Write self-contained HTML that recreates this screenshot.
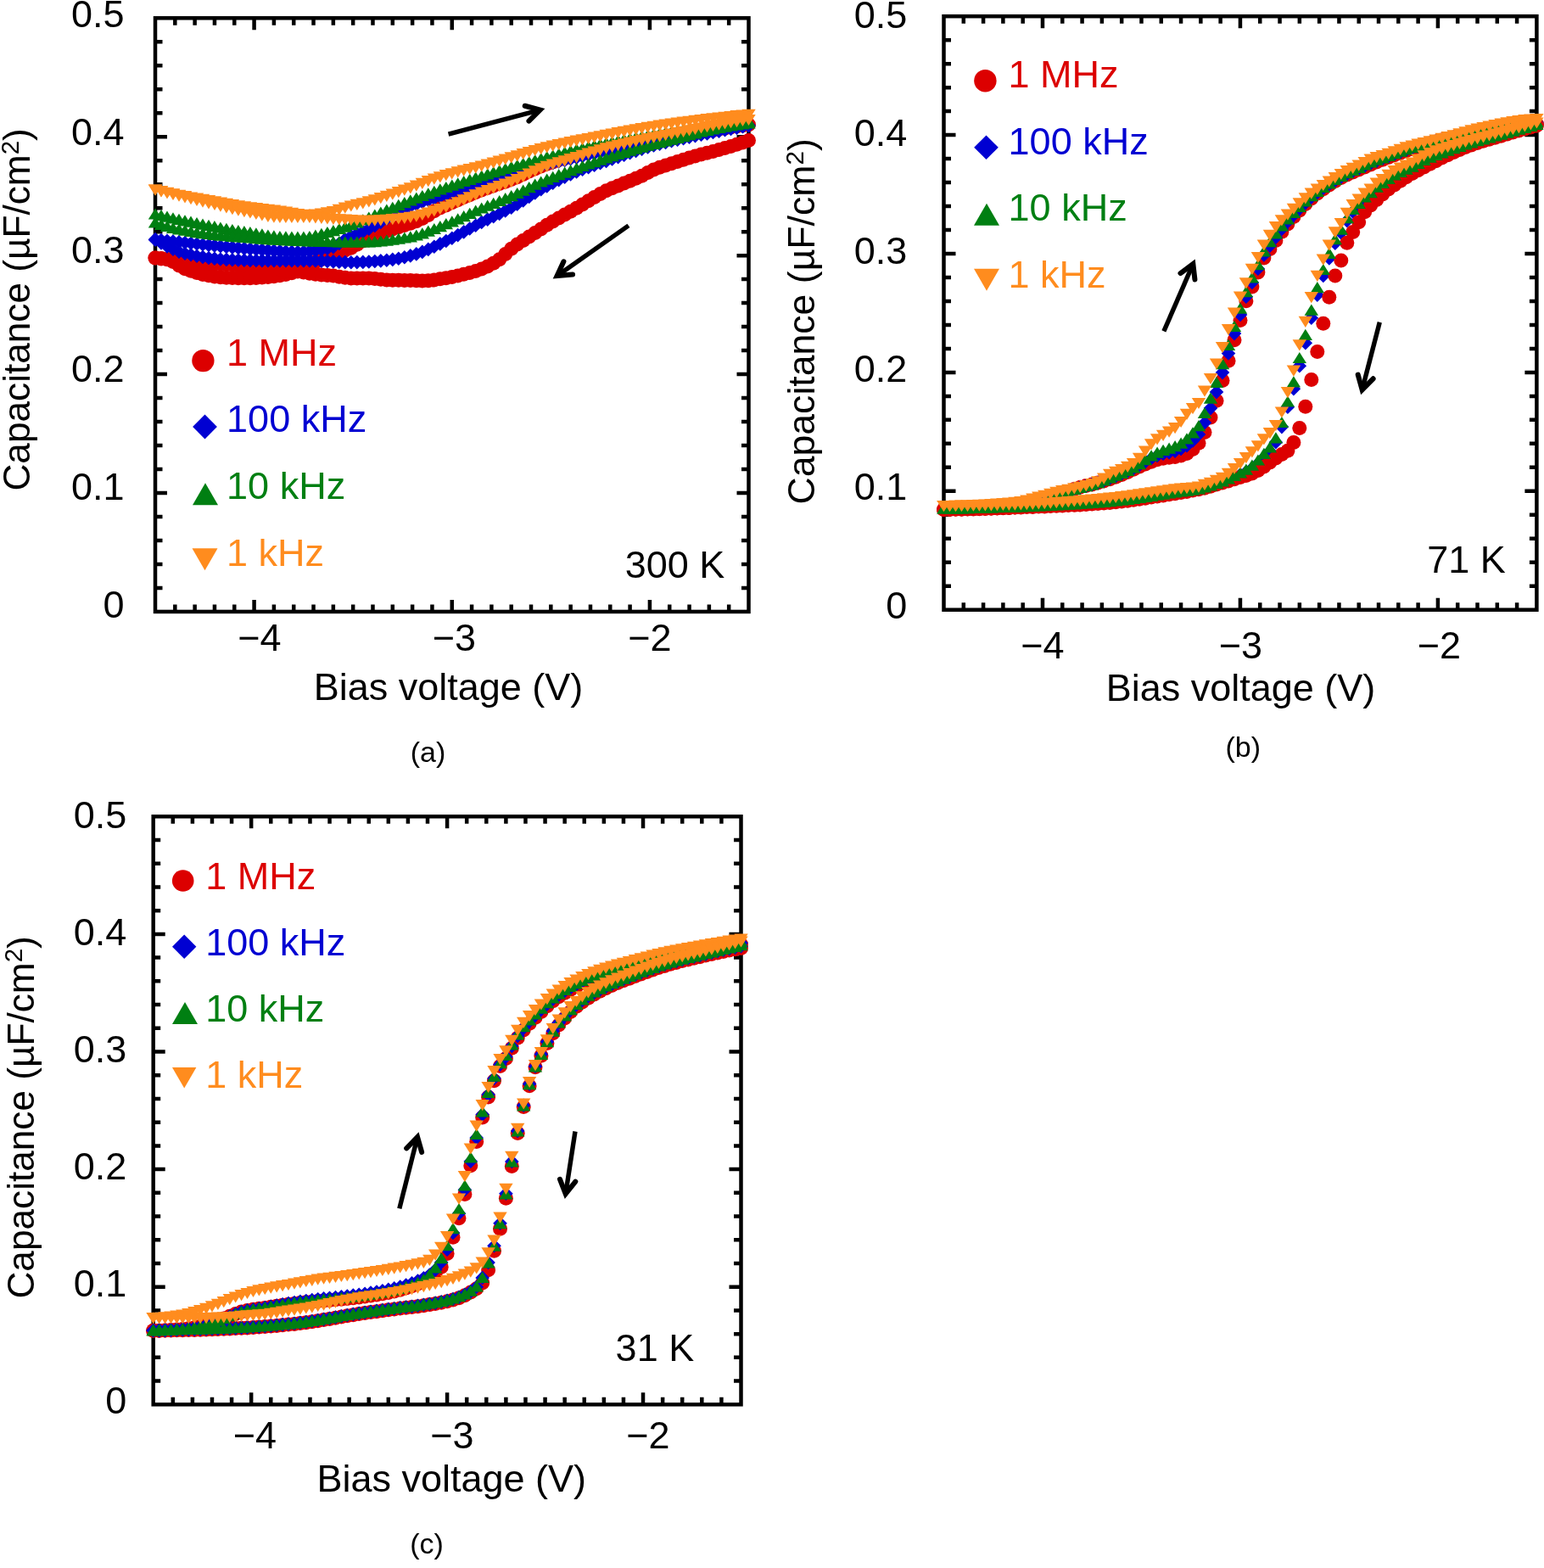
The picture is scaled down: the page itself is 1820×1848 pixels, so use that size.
<!DOCTYPE html>
<html><head><meta charset="utf-8"><title>C-V</title>
<style>html,body{margin:0;padding:0;background:#fff;}svg{display:block;}</style></head>
<body>
<svg xmlns="http://www.w3.org/2000/svg" width="1820" height="1848" viewBox="0 0 1820 1848" font-family="Liberation Sans, Arial, Helvetica, sans-serif">
<rect width="1820" height="1848" fill="#fff"/>
<rect x="183.00" y="21.30" width="699.50" height="699.60" fill="none" stroke="#000" stroke-width="4.5" stroke-linejoin="miter"/>
<path d="M206.32,720.90v-8.5M206.32,21.30v8.5M229.63,720.90v-8.5M229.63,21.30v8.5M252.95,720.90v-8.5M252.95,21.30v8.5M276.27,720.90v-8.5M276.27,21.30v8.5M299.58,720.90v-14M299.58,21.30v14M322.90,720.90v-8.5M322.90,21.30v8.5M346.22,720.90v-8.5M346.22,21.30v8.5M369.53,720.90v-8.5M369.53,21.30v8.5M392.85,720.90v-8.5M392.85,21.30v8.5M416.17,720.90v-8.5M416.17,21.30v8.5M439.48,720.90v-8.5M439.48,21.30v8.5M462.80,720.90v-8.5M462.80,21.30v8.5M486.12,720.90v-8.5M486.12,21.30v8.5M509.43,720.90v-8.5M509.43,21.30v8.5M532.75,720.90v-14M532.75,21.30v14M556.07,720.90v-8.5M556.07,21.30v8.5M579.38,720.90v-8.5M579.38,21.30v8.5M602.70,720.90v-8.5M602.70,21.30v8.5M626.02,720.90v-8.5M626.02,21.30v8.5M649.33,720.90v-8.5M649.33,21.30v8.5M672.65,720.90v-8.5M672.65,21.30v8.5M695.97,720.90v-8.5M695.97,21.30v8.5M719.28,720.90v-8.5M719.28,21.30v8.5M742.60,720.90v-8.5M742.60,21.30v8.5M765.92,720.90v-14M765.92,21.30v14M789.23,720.90v-8.5M789.23,21.30v8.5M812.55,720.90v-8.5M812.55,21.30v8.5M835.87,720.90v-8.5M835.87,21.30v8.5M859.18,720.90v-8.5M859.18,21.30v8.5M183.00,692.92h8.5M882.50,692.92h-8.5M183.00,664.93h8.5M882.50,664.93h-8.5M183.00,636.95h8.5M882.50,636.95h-8.5M183.00,608.96h8.5M882.50,608.96h-8.5M183.00,580.98h14M882.50,580.98h-14M183.00,553.00h8.5M882.50,553.00h-8.5M183.00,525.01h8.5M882.50,525.01h-8.5M183.00,497.03h8.5M882.50,497.03h-8.5M183.00,469.04h8.5M882.50,469.04h-8.5M183.00,441.06h14M882.50,441.06h-14M183.00,413.08h8.5M882.50,413.08h-8.5M183.00,385.09h8.5M882.50,385.09h-8.5M183.00,357.11h8.5M882.50,357.11h-8.5M183.00,329.12h8.5M882.50,329.12h-8.5M183.00,301.14h14M882.50,301.14h-14M183.00,273.16h8.5M882.50,273.16h-8.5M183.00,245.17h8.5M882.50,245.17h-8.5M183.00,217.19h8.5M882.50,217.19h-8.5M183.00,189.20h8.5M882.50,189.20h-8.5M183.00,161.22h14M882.50,161.22h-14M183.00,133.24h8.5M882.50,133.24h-8.5M183.00,105.25h8.5M882.50,105.25h-8.5M183.00,77.27h8.5M882.50,77.27h-8.5M183.00,49.28h8.5M882.50,49.28h-8.5" stroke="#000" stroke-width="4.5" fill="none"/>
<rect x="1112.50" y="19.20" width="698.90" height="699.50" fill="none" stroke="#000" stroke-width="4.5" stroke-linejoin="miter"/>
<path d="M1135.80,718.70v-8.5M1135.80,19.20v8.5M1159.09,718.70v-8.5M1159.09,19.20v8.5M1182.39,718.70v-8.5M1182.39,19.20v8.5M1205.69,718.70v-8.5M1205.69,19.20v8.5M1228.98,718.70v-14M1228.98,19.20v14M1252.28,718.70v-8.5M1252.28,19.20v8.5M1275.58,718.70v-8.5M1275.58,19.20v8.5M1298.87,718.70v-8.5M1298.87,19.20v8.5M1322.17,718.70v-8.5M1322.17,19.20v8.5M1345.47,718.70v-8.5M1345.47,19.20v8.5M1368.76,718.70v-8.5M1368.76,19.20v8.5M1392.06,718.70v-8.5M1392.06,19.20v8.5M1415.36,718.70v-8.5M1415.36,19.20v8.5M1438.65,718.70v-8.5M1438.65,19.20v8.5M1461.95,718.70v-14M1461.95,19.20v14M1485.25,718.70v-8.5M1485.25,19.20v8.5M1508.54,718.70v-8.5M1508.54,19.20v8.5M1531.84,718.70v-8.5M1531.84,19.20v8.5M1555.14,718.70v-8.5M1555.14,19.20v8.5M1578.43,718.70v-8.5M1578.43,19.20v8.5M1601.73,718.70v-8.5M1601.73,19.20v8.5M1625.03,718.70v-8.5M1625.03,19.20v8.5M1648.32,718.70v-8.5M1648.32,19.20v8.5M1671.62,718.70v-8.5M1671.62,19.20v8.5M1694.92,718.70v-14M1694.92,19.20v14M1718.21,718.70v-8.5M1718.21,19.20v8.5M1741.51,718.70v-8.5M1741.51,19.20v8.5M1764.81,718.70v-8.5M1764.81,19.20v8.5M1788.10,718.70v-8.5M1788.10,19.20v8.5M1112.50,690.72h8.5M1811.40,690.72h-8.5M1112.50,662.74h8.5M1811.40,662.74h-8.5M1112.50,634.76h8.5M1811.40,634.76h-8.5M1112.50,606.78h8.5M1811.40,606.78h-8.5M1112.50,578.80h14M1811.40,578.80h-14M1112.50,550.82h8.5M1811.40,550.82h-8.5M1112.50,522.84h8.5M1811.40,522.84h-8.5M1112.50,494.86h8.5M1811.40,494.86h-8.5M1112.50,466.88h8.5M1811.40,466.88h-8.5M1112.50,438.90h14M1811.40,438.90h-14M1112.50,410.92h8.5M1811.40,410.92h-8.5M1112.50,382.94h8.5M1811.40,382.94h-8.5M1112.50,354.96h8.5M1811.40,354.96h-8.5M1112.50,326.98h8.5M1811.40,326.98h-8.5M1112.50,299.00h14M1811.40,299.00h-14M1112.50,271.02h8.5M1811.40,271.02h-8.5M1112.50,243.04h8.5M1811.40,243.04h-8.5M1112.50,215.06h8.5M1811.40,215.06h-8.5M1112.50,187.08h8.5M1811.40,187.08h-8.5M1112.50,159.10h14M1811.40,159.10h-14M1112.50,131.12h8.5M1811.40,131.12h-8.5M1112.50,103.14h8.5M1811.40,103.14h-8.5M1112.50,75.16h8.5M1811.40,75.16h-8.5M1112.50,47.18h8.5M1811.40,47.18h-8.5" stroke="#000" stroke-width="4.5" fill="none"/>
<rect x="180.70" y="962.30" width="692.80" height="693.00" fill="none" stroke="#000" stroke-width="4.5" stroke-linejoin="miter"/>
<path d="M203.79,1655.30v-8.5M203.79,962.30v8.5M226.89,1655.30v-8.5M226.89,962.30v8.5M249.98,1655.30v-8.5M249.98,962.30v8.5M273.07,1655.30v-8.5M273.07,962.30v8.5M296.17,1655.30v-14M296.17,962.30v14M319.26,1655.30v-8.5M319.26,962.30v8.5M342.35,1655.30v-8.5M342.35,962.30v8.5M365.45,1655.30v-8.5M365.45,962.30v8.5M388.54,1655.30v-8.5M388.54,962.30v8.5M411.63,1655.30v-8.5M411.63,962.30v8.5M434.73,1655.30v-8.5M434.73,962.30v8.5M457.82,1655.30v-8.5M457.82,962.30v8.5M480.91,1655.30v-8.5M480.91,962.30v8.5M504.01,1655.30v-8.5M504.01,962.30v8.5M527.10,1655.30v-14M527.10,962.30v14M550.19,1655.30v-8.5M550.19,962.30v8.5M573.29,1655.30v-8.5M573.29,962.30v8.5M596.38,1655.30v-8.5M596.38,962.30v8.5M619.47,1655.30v-8.5M619.47,962.30v8.5M642.57,1655.30v-8.5M642.57,962.30v8.5M665.66,1655.30v-8.5M665.66,962.30v8.5M688.75,1655.30v-8.5M688.75,962.30v8.5M711.85,1655.30v-8.5M711.85,962.30v8.5M734.94,1655.30v-8.5M734.94,962.30v8.5M758.03,1655.30v-14M758.03,962.30v14M781.13,1655.30v-8.5M781.13,962.30v8.5M804.22,1655.30v-8.5M804.22,962.30v8.5M827.31,1655.30v-8.5M827.31,962.30v8.5M850.41,1655.30v-8.5M850.41,962.30v8.5M180.70,1627.58h8.5M873.50,1627.58h-8.5M180.70,1599.86h8.5M873.50,1599.86h-8.5M180.70,1572.14h8.5M873.50,1572.14h-8.5M180.70,1544.42h8.5M873.50,1544.42h-8.5M180.70,1516.70h14M873.50,1516.70h-14M180.70,1488.98h8.5M873.50,1488.98h-8.5M180.70,1461.26h8.5M873.50,1461.26h-8.5M180.70,1433.54h8.5M873.50,1433.54h-8.5M180.70,1405.82h8.5M873.50,1405.82h-8.5M180.70,1378.10h14M873.50,1378.10h-14M180.70,1350.38h8.5M873.50,1350.38h-8.5M180.70,1322.66h8.5M873.50,1322.66h-8.5M180.70,1294.94h8.5M873.50,1294.94h-8.5M180.70,1267.22h8.5M873.50,1267.22h-8.5M180.70,1239.50h14M873.50,1239.50h-14M180.70,1211.78h8.5M873.50,1211.78h-8.5M180.70,1184.06h8.5M873.50,1184.06h-8.5M180.70,1156.34h8.5M873.50,1156.34h-8.5M180.70,1128.62h8.5M873.50,1128.62h-8.5M180.70,1100.90h14M873.50,1100.90h-14M180.70,1073.18h8.5M873.50,1073.18h-8.5M180.70,1045.46h8.5M873.50,1045.46h-8.5M180.70,1017.74h8.5M873.50,1017.74h-8.5M180.70,990.02h8.5M873.50,990.02h-8.5" stroke="#000" stroke-width="4.5" fill="none"/>
<g fill="#dc0000"><circle cx="183.0" cy="304.0" r="8.5"/><circle cx="190.0" cy="304.4" r="8.5"/><circle cx="197.0" cy="305.4" r="8.5"/><circle cx="204.0" cy="308.6" r="8.5"/><circle cx="211.0" cy="313.0" r="8.5"/><circle cx="218.0" cy="316.7" r="8.5"/><circle cx="225.0" cy="319.3" r="8.5"/><circle cx="232.0" cy="321.6" r="8.5"/><circle cx="239.0" cy="323.5" r="8.5"/><circle cx="246.0" cy="324.8" r="8.5"/><circle cx="252.9" cy="325.9" r="8.5"/><circle cx="259.9" cy="326.7" r="8.5"/><circle cx="266.9" cy="327.2" r="8.5"/><circle cx="273.9" cy="327.5" r="8.5"/><circle cx="280.9" cy="327.7" r="8.5"/><circle cx="287.9" cy="327.8" r="8.5"/><circle cx="294.9" cy="327.8" r="8.5"/><circle cx="301.9" cy="327.5" r="8.5"/><circle cx="308.9" cy="327.1" r="8.5"/><circle cx="315.9" cy="326.5" r="8.5"/><circle cx="322.9" cy="325.8" r="8.5"/><circle cx="329.9" cy="324.7" r="8.5"/><circle cx="336.9" cy="323.4" r="8.5"/><circle cx="343.9" cy="321.7" r="8.5"/><circle cx="350.9" cy="319.2" r="8.5"/><circle cx="357.9" cy="316.1" r="8.5"/><circle cx="364.9" cy="312.5" r="8.5"/><circle cx="371.9" cy="309.1" r="8.5"/><circle cx="378.9" cy="305.8" r="8.5"/><circle cx="385.9" cy="302.6" r="8.5"/><circle cx="392.9" cy="299.7" r="8.5"/><circle cx="399.8" cy="297.3" r="8.5"/><circle cx="406.8" cy="295.0" r="8.5"/><circle cx="413.8" cy="292.2" r="8.5"/><circle cx="420.8" cy="288.3" r="8.5"/><circle cx="427.8" cy="284.1" r="8.5"/><circle cx="434.8" cy="280.3" r="8.5"/><circle cx="441.8" cy="277.4" r="8.5"/><circle cx="448.8" cy="274.9" r="8.5"/><circle cx="455.8" cy="272.5" r="8.5"/><circle cx="462.8" cy="270.1" r="8.5"/><circle cx="469.8" cy="267.7" r="8.5"/><circle cx="476.8" cy="265.5" r="8.5"/><circle cx="483.8" cy="263.2" r="8.5"/><circle cx="490.8" cy="260.7" r="8.5"/><circle cx="497.8" cy="257.6" r="8.5"/><circle cx="504.8" cy="253.4" r="8.5"/><circle cx="511.8" cy="248.8" r="8.5"/><circle cx="518.8" cy="245.1" r="8.5"/><circle cx="525.8" cy="241.9" r="8.5"/><circle cx="532.8" cy="238.8" r="8.5"/><circle cx="539.7" cy="235.7" r="8.5"/><circle cx="546.7" cy="232.6" r="8.5"/><circle cx="553.7" cy="229.7" r="8.5"/><circle cx="560.7" cy="226.8" r="8.5"/><circle cx="567.7" cy="224.0" r="8.5"/><circle cx="574.7" cy="221.4" r="8.5"/><circle cx="581.7" cy="219.0" r="8.5"/><circle cx="588.7" cy="216.6" r="8.5"/><circle cx="595.7" cy="214.2" r="8.5"/><circle cx="602.7" cy="211.6" r="8.5"/><circle cx="609.7" cy="208.7" r="8.5"/><circle cx="616.7" cy="205.5" r="8.5"/><circle cx="623.7" cy="202.1" r="8.5"/><circle cx="630.7" cy="198.9" r="8.5"/><circle cx="637.7" cy="195.9" r="8.5"/><circle cx="644.7" cy="193.3" r="8.5"/><circle cx="651.7" cy="190.9" r="8.5"/><circle cx="658.7" cy="188.6" r="8.5"/><circle cx="665.7" cy="186.5" r="8.5"/><circle cx="672.6" cy="184.5" r="8.5"/><circle cx="679.6" cy="182.7" r="8.5"/><circle cx="686.6" cy="180.9" r="8.5"/><circle cx="693.6" cy="179.3" r="8.5"/><circle cx="700.6" cy="177.8" r="8.5"/><circle cx="707.6" cy="176.3" r="8.5"/><circle cx="714.6" cy="174.9" r="8.5"/><circle cx="721.6" cy="173.7" r="8.5"/><circle cx="728.6" cy="172.5" r="8.5"/><circle cx="735.6" cy="171.4" r="8.5"/><circle cx="742.6" cy="170.3" r="8.5"/><circle cx="749.6" cy="169.2" r="8.5"/><circle cx="756.6" cy="168.1" r="8.5"/><circle cx="763.6" cy="166.8" r="8.5"/><circle cx="770.6" cy="165.5" r="8.5"/><circle cx="777.6" cy="164.2" r="8.5"/><circle cx="784.6" cy="162.8" r="8.5"/><circle cx="791.6" cy="161.5" r="8.5"/><circle cx="798.6" cy="160.3" r="8.5"/><circle cx="805.6" cy="159.0" r="8.5"/><circle cx="812.5" cy="157.9" r="8.5"/><circle cx="819.5" cy="156.7" r="8.5"/><circle cx="826.5" cy="155.6" r="8.5"/><circle cx="833.5" cy="154.5" r="8.5"/><circle cx="840.5" cy="153.4" r="8.5"/><circle cx="847.5" cy="152.3" r="8.5"/><circle cx="854.5" cy="151.2" r="8.5"/><circle cx="861.5" cy="150.1" r="8.5"/><circle cx="868.5" cy="149.1" r="8.5"/><circle cx="875.5" cy="148.0" r="8.5"/><circle cx="882.5" cy="147.0" r="8.5"/></g>
<g fill="#dc0000"><circle cx="183.0" cy="304.0" r="8.5"/><circle cx="190.0" cy="304.9" r="8.5"/><circle cx="197.0" cy="305.7" r="8.5"/><circle cx="204.0" cy="306.4" r="8.5"/><circle cx="211.0" cy="307.2" r="8.5"/><circle cx="218.0" cy="307.8" r="8.5"/><circle cx="225.0" cy="308.4" r="8.5"/><circle cx="232.0" cy="309.0" r="8.5"/><circle cx="239.0" cy="309.5" r="8.5"/><circle cx="246.0" cy="310.0" r="8.5"/><circle cx="252.9" cy="310.5" r="8.5"/><circle cx="259.9" cy="311.0" r="8.5"/><circle cx="266.9" cy="311.5" r="8.5"/><circle cx="273.9" cy="312.0" r="8.5"/><circle cx="280.9" cy="312.5" r="8.5"/><circle cx="287.9" cy="313.0" r="8.5"/><circle cx="294.9" cy="313.6" r="8.5"/><circle cx="301.9" cy="314.2" r="8.5"/><circle cx="308.9" cy="314.8" r="8.5"/><circle cx="315.9" cy="315.5" r="8.5"/><circle cx="322.9" cy="316.2" r="8.5"/><circle cx="329.9" cy="317.0" r="8.5"/><circle cx="336.9" cy="317.9" r="8.5"/><circle cx="343.9" cy="318.9" r="8.5"/><circle cx="350.9" cy="319.9" r="8.5"/><circle cx="357.9" cy="321.1" r="8.5"/><circle cx="364.9" cy="322.3" r="8.5"/><circle cx="371.9" cy="323.2" r="8.5"/><circle cx="378.9" cy="323.9" r="8.5"/><circle cx="385.9" cy="324.4" r="8.5"/><circle cx="392.9" cy="325.1" r="8.5"/><circle cx="399.8" cy="326.2" r="8.5"/><circle cx="406.8" cy="327.3" r="8.5"/><circle cx="413.8" cy="327.9" r="8.5"/><circle cx="420.8" cy="327.9" r="8.5"/><circle cx="427.8" cy="328.0" r="8.5"/><circle cx="434.8" cy="328.0" r="8.5"/><circle cx="441.8" cy="328.4" r="8.5"/><circle cx="448.8" cy="329.2" r="8.5"/><circle cx="455.8" cy="330.0" r="8.5"/><circle cx="462.8" cy="330.2" r="8.5"/><circle cx="469.8" cy="330.3" r="8.5"/><circle cx="476.8" cy="330.4" r="8.5"/><circle cx="483.8" cy="330.6" r="8.5"/><circle cx="490.8" cy="330.8" r="8.5"/><circle cx="497.8" cy="331.0" r="8.5"/><circle cx="504.8" cy="330.8" r="8.5"/><circle cx="511.8" cy="330.0" r="8.5"/><circle cx="518.8" cy="328.8" r="8.5"/><circle cx="525.8" cy="327.7" r="8.5"/><circle cx="532.8" cy="326.4" r="8.5"/><circle cx="539.7" cy="324.9" r="8.5"/><circle cx="546.7" cy="323.3" r="8.5"/><circle cx="553.7" cy="321.5" r="8.5"/><circle cx="560.7" cy="319.4" r="8.5"/><circle cx="567.7" cy="317.0" r="8.5"/><circle cx="574.7" cy="314.0" r="8.5"/><circle cx="581.7" cy="310.3" r="8.5"/><circle cx="588.7" cy="305.7" r="8.5"/><circle cx="595.7" cy="299.5" r="8.5"/><circle cx="602.7" cy="293.2" r="8.5"/><circle cx="609.7" cy="288.1" r="8.5"/><circle cx="616.7" cy="283.5" r="8.5"/><circle cx="623.7" cy="279.1" r="8.5"/><circle cx="630.7" cy="274.6" r="8.5"/><circle cx="637.7" cy="270.0" r="8.5"/><circle cx="644.7" cy="265.3" r="8.5"/><circle cx="651.7" cy="261.0" r="8.5"/><circle cx="658.7" cy="257.0" r="8.5"/><circle cx="665.7" cy="253.1" r="8.5"/><circle cx="672.6" cy="249.2" r="8.5"/><circle cx="679.6" cy="245.3" r="8.5"/><circle cx="686.6" cy="241.1" r="8.5"/><circle cx="693.6" cy="236.8" r="8.5"/><circle cx="700.6" cy="232.5" r="8.5"/><circle cx="707.6" cy="228.5" r="8.5"/><circle cx="714.6" cy="224.8" r="8.5"/><circle cx="721.6" cy="221.8" r="8.5"/><circle cx="728.6" cy="218.9" r="8.5"/><circle cx="735.6" cy="216.0" r="8.5"/><circle cx="742.6" cy="213.2" r="8.5"/><circle cx="749.6" cy="210.3" r="8.5"/><circle cx="756.6" cy="207.2" r="8.5"/><circle cx="763.6" cy="203.6" r="8.5"/><circle cx="770.6" cy="200.1" r="8.5"/><circle cx="777.6" cy="197.3" r="8.5"/><circle cx="784.6" cy="194.9" r="8.5"/><circle cx="791.6" cy="192.7" r="8.5"/><circle cx="798.6" cy="190.5" r="8.5"/><circle cx="805.6" cy="188.2" r="8.5"/><circle cx="812.5" cy="186.1" r="8.5"/><circle cx="819.5" cy="184.0" r="8.5"/><circle cx="826.5" cy="182.1" r="8.5"/><circle cx="833.5" cy="180.2" r="8.5"/><circle cx="840.5" cy="178.4" r="8.5"/><circle cx="847.5" cy="176.6" r="8.5"/><circle cx="854.5" cy="174.6" r="8.5"/><circle cx="861.5" cy="172.4" r="8.5"/><circle cx="868.5" cy="170.2" r="8.5"/><circle cx="875.5" cy="167.9" r="8.5"/><circle cx="882.5" cy="165.5" r="8.5"/></g>
<g fill="#0000d2"><path d="M183.0 274.1l8.3 8.3l-8.3 8.3l-8.3 -8.3z"/><path d="M190.0 274.8l8.3 8.3l-8.3 8.3l-8.3 -8.3z"/><path d="M197.0 275.5l8.3 8.3l-8.3 8.3l-8.3 -8.3z"/><path d="M204.0 276.3l8.3 8.3l-8.3 8.3l-8.3 -8.3z"/><path d="M211.0 277.0l8.3 8.3l-8.3 8.3l-8.3 -8.3z"/><path d="M218.0 277.7l8.3 8.3l-8.3 8.3l-8.3 -8.3z"/><path d="M225.0 278.4l8.3 8.3l-8.3 8.3l-8.3 -8.3z"/><path d="M232.0 279.2l8.3 8.3l-8.3 8.3l-8.3 -8.3z"/><path d="M239.0 279.9l8.3 8.3l-8.3 8.3l-8.3 -8.3z"/><path d="M246.0 280.6l8.3 8.3l-8.3 8.3l-8.3 -8.3z"/><path d="M252.9 281.3l8.3 8.3l-8.3 8.3l-8.3 -8.3z"/><path d="M259.9 282.0l8.3 8.3l-8.3 8.3l-8.3 -8.3z"/><path d="M266.9 282.7l8.3 8.3l-8.3 8.3l-8.3 -8.3z"/><path d="M273.9 283.3l8.3 8.3l-8.3 8.3l-8.3 -8.3z"/><path d="M280.9 284.0l8.3 8.3l-8.3 8.3l-8.3 -8.3z"/><path d="M287.9 284.6l8.3 8.3l-8.3 8.3l-8.3 -8.3z"/><path d="M294.9 285.2l8.3 8.3l-8.3 8.3l-8.3 -8.3z"/><path d="M301.9 285.7l8.3 8.3l-8.3 8.3l-8.3 -8.3z"/><path d="M308.9 286.3l8.3 8.3l-8.3 8.3l-8.3 -8.3z"/><path d="M315.9 286.8l8.3 8.3l-8.3 8.3l-8.3 -8.3z"/><path d="M322.9 287.3l8.3 8.3l-8.3 8.3l-8.3 -8.3z"/><path d="M329.9 287.8l8.3 8.3l-8.3 8.3l-8.3 -8.3z"/><path d="M336.9 288.3l8.3 8.3l-8.3 8.3l-8.3 -8.3z"/><path d="M343.9 288.6l8.3 8.3l-8.3 8.3l-8.3 -8.3z"/><path d="M350.9 288.7l8.3 8.3l-8.3 8.3l-8.3 -8.3z"/><path d="M357.9 288.5l8.3 8.3l-8.3 8.3l-8.3 -8.3z"/><path d="M364.9 287.9l8.3 8.3l-8.3 8.3l-8.3 -8.3z"/><path d="M371.9 287.0l8.3 8.3l-8.3 8.3l-8.3 -8.3z"/><path d="M378.9 285.9l8.3 8.3l-8.3 8.3l-8.3 -8.3z"/><path d="M385.9 284.6l8.3 8.3l-8.3 8.3l-8.3 -8.3z"/><path d="M392.9 282.8l8.3 8.3l-8.3 8.3l-8.3 -8.3z"/><path d="M399.8 278.7l8.3 8.3l-8.3 8.3l-8.3 -8.3z"/><path d="M406.8 273.7l8.3 8.3l-8.3 8.3l-8.3 -8.3z"/><path d="M413.8 269.9l8.3 8.3l-8.3 8.3l-8.3 -8.3z"/><path d="M420.8 267.2l8.3 8.3l-8.3 8.3l-8.3 -8.3z"/><path d="M427.8 264.6l8.3 8.3l-8.3 8.3l-8.3 -8.3z"/><path d="M434.8 261.4l8.3 8.3l-8.3 8.3l-8.3 -8.3z"/><path d="M441.8 257.7l8.3 8.3l-8.3 8.3l-8.3 -8.3z"/><path d="M448.8 253.6l8.3 8.3l-8.3 8.3l-8.3 -8.3z"/><path d="M455.8 249.4l8.3 8.3l-8.3 8.3l-8.3 -8.3z"/><path d="M462.8 245.2l8.3 8.3l-8.3 8.3l-8.3 -8.3z"/><path d="M469.8 241.3l8.3 8.3l-8.3 8.3l-8.3 -8.3z"/><path d="M476.8 237.9l8.3 8.3l-8.3 8.3l-8.3 -8.3z"/><path d="M483.8 235.0l8.3 8.3l-8.3 8.3l-8.3 -8.3z"/><path d="M490.8 232.4l8.3 8.3l-8.3 8.3l-8.3 -8.3z"/><path d="M497.8 230.0l8.3 8.3l-8.3 8.3l-8.3 -8.3z"/><path d="M504.8 227.7l8.3 8.3l-8.3 8.3l-8.3 -8.3z"/><path d="M511.8 225.5l8.3 8.3l-8.3 8.3l-8.3 -8.3z"/><path d="M518.8 223.4l8.3 8.3l-8.3 8.3l-8.3 -8.3z"/><path d="M525.8 221.1l8.3 8.3l-8.3 8.3l-8.3 -8.3z"/><path d="M532.8 218.8l8.3 8.3l-8.3 8.3l-8.3 -8.3z"/><path d="M539.7 216.3l8.3 8.3l-8.3 8.3l-8.3 -8.3z"/><path d="M546.7 213.8l8.3 8.3l-8.3 8.3l-8.3 -8.3z"/><path d="M553.7 211.3l8.3 8.3l-8.3 8.3l-8.3 -8.3z"/><path d="M560.7 209.0l8.3 8.3l-8.3 8.3l-8.3 -8.3z"/><path d="M567.7 206.7l8.3 8.3l-8.3 8.3l-8.3 -8.3z"/><path d="M574.7 204.7l8.3 8.3l-8.3 8.3l-8.3 -8.3z"/><path d="M581.7 202.7l8.3 8.3l-8.3 8.3l-8.3 -8.3z"/><path d="M588.7 200.9l8.3 8.3l-8.3 8.3l-8.3 -8.3z"/><path d="M595.7 199.0l8.3 8.3l-8.3 8.3l-8.3 -8.3z"/><path d="M602.7 197.1l8.3 8.3l-8.3 8.3l-8.3 -8.3z"/><path d="M609.7 195.2l8.3 8.3l-8.3 8.3l-8.3 -8.3z"/><path d="M616.7 193.2l8.3 8.3l-8.3 8.3l-8.3 -8.3z"/><path d="M623.7 191.1l8.3 8.3l-8.3 8.3l-8.3 -8.3z"/><path d="M630.7 189.2l8.3 8.3l-8.3 8.3l-8.3 -8.3z"/><path d="M637.7 187.3l8.3 8.3l-8.3 8.3l-8.3 -8.3z"/><path d="M644.7 185.5l8.3 8.3l-8.3 8.3l-8.3 -8.3z"/><path d="M651.7 183.8l8.3 8.3l-8.3 8.3l-8.3 -8.3z"/><path d="M658.7 182.2l8.3 8.3l-8.3 8.3l-8.3 -8.3z"/><path d="M665.7 180.6l8.3 8.3l-8.3 8.3l-8.3 -8.3z"/><path d="M672.6 179.0l8.3 8.3l-8.3 8.3l-8.3 -8.3z"/><path d="M679.6 177.4l8.3 8.3l-8.3 8.3l-8.3 -8.3z"/><path d="M686.6 175.8l8.3 8.3l-8.3 8.3l-8.3 -8.3z"/><path d="M693.6 174.3l8.3 8.3l-8.3 8.3l-8.3 -8.3z"/><path d="M700.6 172.7l8.3 8.3l-8.3 8.3l-8.3 -8.3z"/><path d="M707.6 171.2l8.3 8.3l-8.3 8.3l-8.3 -8.3z"/><path d="M714.6 169.6l8.3 8.3l-8.3 8.3l-8.3 -8.3z"/><path d="M721.6 168.1l8.3 8.3l-8.3 8.3l-8.3 -8.3z"/><path d="M728.6 166.6l8.3 8.3l-8.3 8.3l-8.3 -8.3z"/><path d="M735.6 165.1l8.3 8.3l-8.3 8.3l-8.3 -8.3z"/><path d="M742.6 163.6l8.3 8.3l-8.3 8.3l-8.3 -8.3z"/><path d="M749.6 162.2l8.3 8.3l-8.3 8.3l-8.3 -8.3z"/><path d="M756.6 160.8l8.3 8.3l-8.3 8.3l-8.3 -8.3z"/><path d="M763.6 159.4l8.3 8.3l-8.3 8.3l-8.3 -8.3z"/><path d="M770.6 158.1l8.3 8.3l-8.3 8.3l-8.3 -8.3z"/><path d="M777.6 156.7l8.3 8.3l-8.3 8.3l-8.3 -8.3z"/><path d="M784.6 155.5l8.3 8.3l-8.3 8.3l-8.3 -8.3z"/><path d="M791.6 154.2l8.3 8.3l-8.3 8.3l-8.3 -8.3z"/><path d="M798.6 153.0l8.3 8.3l-8.3 8.3l-8.3 -8.3z"/><path d="M805.6 151.7l8.3 8.3l-8.3 8.3l-8.3 -8.3z"/><path d="M812.5 150.6l8.3 8.3l-8.3 8.3l-8.3 -8.3z"/><path d="M819.5 149.4l8.3 8.3l-8.3 8.3l-8.3 -8.3z"/><path d="M826.5 148.3l8.3 8.3l-8.3 8.3l-8.3 -8.3z"/><path d="M833.5 147.2l8.3 8.3l-8.3 8.3l-8.3 -8.3z"/><path d="M840.5 146.1l8.3 8.3l-8.3 8.3l-8.3 -8.3z"/><path d="M847.5 145.0l8.3 8.3l-8.3 8.3l-8.3 -8.3z"/><path d="M854.5 143.9l8.3 8.3l-8.3 8.3l-8.3 -8.3z"/><path d="M861.5 142.8l8.3 8.3l-8.3 8.3l-8.3 -8.3z"/><path d="M868.5 141.8l8.3 8.3l-8.3 8.3l-8.3 -8.3z"/><path d="M875.5 140.7l8.3 8.3l-8.3 8.3l-8.3 -8.3z"/><path d="M882.5 139.7l8.3 8.3l-8.3 8.3l-8.3 -8.3z"/></g>
<g fill="#0000d2"><path d="M183.0 274.1l8.3 8.3l-8.3 8.3l-8.3 -8.3z"/><path d="M190.0 278.2l8.3 8.3l-8.3 8.3l-8.3 -8.3z"/><path d="M197.0 282.1l8.3 8.3l-8.3 8.3l-8.3 -8.3z"/><path d="M204.0 285.5l8.3 8.3l-8.3 8.3l-8.3 -8.3z"/><path d="M211.0 288.3l8.3 8.3l-8.3 8.3l-8.3 -8.3z"/><path d="M218.0 290.4l8.3 8.3l-8.3 8.3l-8.3 -8.3z"/><path d="M225.0 291.9l8.3 8.3l-8.3 8.3l-8.3 -8.3z"/><path d="M232.0 293.4l8.3 8.3l-8.3 8.3l-8.3 -8.3z"/><path d="M239.0 294.6l8.3 8.3l-8.3 8.3l-8.3 -8.3z"/><path d="M246.0 295.7l8.3 8.3l-8.3 8.3l-8.3 -8.3z"/><path d="M252.9 296.5l8.3 8.3l-8.3 8.3l-8.3 -8.3z"/><path d="M259.9 297.2l8.3 8.3l-8.3 8.3l-8.3 -8.3z"/><path d="M266.9 297.6l8.3 8.3l-8.3 8.3l-8.3 -8.3z"/><path d="M273.9 297.9l8.3 8.3l-8.3 8.3l-8.3 -8.3z"/><path d="M280.9 298.2l8.3 8.3l-8.3 8.3l-8.3 -8.3z"/><path d="M287.9 298.4l8.3 8.3l-8.3 8.3l-8.3 -8.3z"/><path d="M294.9 298.6l8.3 8.3l-8.3 8.3l-8.3 -8.3z"/><path d="M301.9 298.7l8.3 8.3l-8.3 8.3l-8.3 -8.3z"/><path d="M308.9 298.8l8.3 8.3l-8.3 8.3l-8.3 -8.3z"/><path d="M315.9 298.8l8.3 8.3l-8.3 8.3l-8.3 -8.3z"/><path d="M322.9 298.8l8.3 8.3l-8.3 8.3l-8.3 -8.3z"/><path d="M329.9 298.8l8.3 8.3l-8.3 8.3l-8.3 -8.3z"/><path d="M336.9 298.8l8.3 8.3l-8.3 8.3l-8.3 -8.3z"/><path d="M343.9 298.8l8.3 8.3l-8.3 8.3l-8.3 -8.3z"/><path d="M350.9 298.8l8.3 8.3l-8.3 8.3l-8.3 -8.3z"/><path d="M357.9 298.8l8.3 8.3l-8.3 8.3l-8.3 -8.3z"/><path d="M364.9 298.8l8.3 8.3l-8.3 8.3l-8.3 -8.3z"/><path d="M371.9 299.0l8.3 8.3l-8.3 8.3l-8.3 -8.3z"/><path d="M378.9 299.3l8.3 8.3l-8.3 8.3l-8.3 -8.3z"/><path d="M385.9 299.7l8.3 8.3l-8.3 8.3l-8.3 -8.3z"/><path d="M392.9 300.1l8.3 8.3l-8.3 8.3l-8.3 -8.3z"/><path d="M399.8 300.5l8.3 8.3l-8.3 8.3l-8.3 -8.3z"/><path d="M406.8 300.8l8.3 8.3l-8.3 8.3l-8.3 -8.3z"/><path d="M413.8 300.9l8.3 8.3l-8.3 8.3l-8.3 -8.3z"/><path d="M420.8 300.8l8.3 8.3l-8.3 8.3l-8.3 -8.3z"/><path d="M427.8 300.6l8.3 8.3l-8.3 8.3l-8.3 -8.3z"/><path d="M434.8 300.2l8.3 8.3l-8.3 8.3l-8.3 -8.3z"/><path d="M441.8 299.7l8.3 8.3l-8.3 8.3l-8.3 -8.3z"/><path d="M448.8 299.1l8.3 8.3l-8.3 8.3l-8.3 -8.3z"/><path d="M455.8 298.4l8.3 8.3l-8.3 8.3l-8.3 -8.3z"/><path d="M462.8 297.6l8.3 8.3l-8.3 8.3l-8.3 -8.3z"/><path d="M469.8 296.4l8.3 8.3l-8.3 8.3l-8.3 -8.3z"/><path d="M476.8 294.9l8.3 8.3l-8.3 8.3l-8.3 -8.3z"/><path d="M483.8 293.1l8.3 8.3l-8.3 8.3l-8.3 -8.3z"/><path d="M490.8 291.1l8.3 8.3l-8.3 8.3l-8.3 -8.3z"/><path d="M497.8 288.6l8.3 8.3l-8.3 8.3l-8.3 -8.3z"/><path d="M504.8 285.6l8.3 8.3l-8.3 8.3l-8.3 -8.3z"/><path d="M511.8 282.5l8.3 8.3l-8.3 8.3l-8.3 -8.3z"/><path d="M518.8 279.1l8.3 8.3l-8.3 8.3l-8.3 -8.3z"/><path d="M525.8 275.7l8.3 8.3l-8.3 8.3l-8.3 -8.3z"/><path d="M532.8 272.4l8.3 8.3l-8.3 8.3l-8.3 -8.3z"/><path d="M539.7 268.8l8.3 8.3l-8.3 8.3l-8.3 -8.3z"/><path d="M546.7 265.1l8.3 8.3l-8.3 8.3l-8.3 -8.3z"/><path d="M553.7 261.2l8.3 8.3l-8.3 8.3l-8.3 -8.3z"/><path d="M560.7 257.4l8.3 8.3l-8.3 8.3l-8.3 -8.3z"/><path d="M567.7 253.7l8.3 8.3l-8.3 8.3l-8.3 -8.3z"/><path d="M574.7 250.3l8.3 8.3l-8.3 8.3l-8.3 -8.3z"/><path d="M581.7 246.9l8.3 8.3l-8.3 8.3l-8.3 -8.3z"/><path d="M588.7 243.6l8.3 8.3l-8.3 8.3l-8.3 -8.3z"/><path d="M595.7 240.1l8.3 8.3l-8.3 8.3l-8.3 -8.3z"/><path d="M602.7 236.5l8.3 8.3l-8.3 8.3l-8.3 -8.3z"/><path d="M609.7 232.5l8.3 8.3l-8.3 8.3l-8.3 -8.3z"/><path d="M616.7 228.2l8.3 8.3l-8.3 8.3l-8.3 -8.3z"/><path d="M623.7 223.7l8.3 8.3l-8.3 8.3l-8.3 -8.3z"/><path d="M630.7 219.2l8.3 8.3l-8.3 8.3l-8.3 -8.3z"/><path d="M637.7 215.0l8.3 8.3l-8.3 8.3l-8.3 -8.3z"/><path d="M644.7 211.2l8.3 8.3l-8.3 8.3l-8.3 -8.3z"/><path d="M651.7 207.4l8.3 8.3l-8.3 8.3l-8.3 -8.3z"/><path d="M658.7 203.8l8.3 8.3l-8.3 8.3l-8.3 -8.3z"/><path d="M665.7 200.4l8.3 8.3l-8.3 8.3l-8.3 -8.3z"/><path d="M672.6 197.2l8.3 8.3l-8.3 8.3l-8.3 -8.3z"/><path d="M679.6 194.2l8.3 8.3l-8.3 8.3l-8.3 -8.3z"/><path d="M686.6 191.4l8.3 8.3l-8.3 8.3l-8.3 -8.3z"/><path d="M693.6 188.9l8.3 8.3l-8.3 8.3l-8.3 -8.3z"/><path d="M700.6 186.4l8.3 8.3l-8.3 8.3l-8.3 -8.3z"/><path d="M707.6 184.0l8.3 8.3l-8.3 8.3l-8.3 -8.3z"/><path d="M714.6 181.6l8.3 8.3l-8.3 8.3l-8.3 -8.3z"/><path d="M721.6 179.2l8.3 8.3l-8.3 8.3l-8.3 -8.3z"/><path d="M728.6 176.8l8.3 8.3l-8.3 8.3l-8.3 -8.3z"/><path d="M735.6 174.4l8.3 8.3l-8.3 8.3l-8.3 -8.3z"/><path d="M742.6 172.0l8.3 8.3l-8.3 8.3l-8.3 -8.3z"/><path d="M749.6 169.6l8.3 8.3l-8.3 8.3l-8.3 -8.3z"/><path d="M756.6 167.3l8.3 8.3l-8.3 8.3l-8.3 -8.3z"/><path d="M763.6 165.1l8.3 8.3l-8.3 8.3l-8.3 -8.3z"/><path d="M770.6 163.1l8.3 8.3l-8.3 8.3l-8.3 -8.3z"/><path d="M777.6 161.3l8.3 8.3l-8.3 8.3l-8.3 -8.3z"/><path d="M784.6 159.6l8.3 8.3l-8.3 8.3l-8.3 -8.3z"/><path d="M791.6 157.9l8.3 8.3l-8.3 8.3l-8.3 -8.3z"/><path d="M798.6 156.4l8.3 8.3l-8.3 8.3l-8.3 -8.3z"/><path d="M805.6 154.9l8.3 8.3l-8.3 8.3l-8.3 -8.3z"/><path d="M812.5 153.5l8.3 8.3l-8.3 8.3l-8.3 -8.3z"/><path d="M819.5 152.0l8.3 8.3l-8.3 8.3l-8.3 -8.3z"/><path d="M826.5 150.5l8.3 8.3l-8.3 8.3l-8.3 -8.3z"/><path d="M833.5 149.1l8.3 8.3l-8.3 8.3l-8.3 -8.3z"/><path d="M840.5 147.7l8.3 8.3l-8.3 8.3l-8.3 -8.3z"/><path d="M847.5 146.4l8.3 8.3l-8.3 8.3l-8.3 -8.3z"/><path d="M854.5 145.0l8.3 8.3l-8.3 8.3l-8.3 -8.3z"/><path d="M861.5 143.7l8.3 8.3l-8.3 8.3l-8.3 -8.3z"/><path d="M868.5 142.3l8.3 8.3l-8.3 8.3l-8.3 -8.3z"/><path d="M875.5 141.0l8.3 8.3l-8.3 8.3l-8.3 -8.3z"/><path d="M882.5 139.7l8.3 8.3l-8.3 8.3l-8.3 -8.3z"/></g>
<g fill="#007f12"><path d="M183.0 245.4l8.2 13.2h-16.4z"/><path d="M190.0 247.0l8.2 13.2h-16.4z"/><path d="M197.0 248.6l8.2 13.2h-16.4z"/><path d="M204.0 250.2l8.2 13.2h-16.4z"/><path d="M211.0 251.7l8.2 13.2h-16.4z"/><path d="M218.0 253.2l8.2 13.2h-16.4z"/><path d="M225.0 254.6l8.2 13.2h-16.4z"/><path d="M232.0 256.1l8.2 13.2h-16.4z"/><path d="M239.0 257.5l8.2 13.2h-16.4z"/><path d="M246.0 258.8l8.2 13.2h-16.4z"/><path d="M252.9 260.1l8.2 13.2h-16.4z"/><path d="M259.9 261.4l8.2 13.2h-16.4z"/><path d="M266.9 262.7l8.2 13.2h-16.4z"/><path d="M273.9 263.9l8.2 13.2h-16.4z"/><path d="M280.9 265.0l8.2 13.2h-16.4z"/><path d="M287.9 266.1l8.2 13.2h-16.4z"/><path d="M294.9 267.1l8.2 13.2h-16.4z"/><path d="M301.9 268.2l8.2 13.2h-16.4z"/><path d="M308.9 269.3l8.2 13.2h-16.4z"/><path d="M315.9 270.4l8.2 13.2h-16.4z"/><path d="M322.9 271.2l8.2 13.2h-16.4z"/><path d="M329.9 271.9l8.2 13.2h-16.4z"/><path d="M336.9 272.2l8.2 13.2h-16.4z"/><path d="M343.9 272.4l8.2 13.2h-16.4z"/><path d="M350.9 272.5l8.2 13.2h-16.4z"/><path d="M357.9 272.5l8.2 13.2h-16.4z"/><path d="M364.9 271.9l8.2 13.2h-16.4z"/><path d="M371.9 270.5l8.2 13.2h-16.4z"/><path d="M378.9 268.7l8.2 13.2h-16.4z"/><path d="M385.9 266.9l8.2 13.2h-16.4z"/><path d="M392.9 265.0l8.2 13.2h-16.4z"/><path d="M399.8 262.9l8.2 13.2h-16.4z"/><path d="M406.8 260.6l8.2 13.2h-16.4z"/><path d="M413.8 258.1l8.2 13.2h-16.4z"/><path d="M420.8 255.2l8.2 13.2h-16.4z"/><path d="M427.8 252.3l8.2 13.2h-16.4z"/><path d="M434.8 249.4l8.2 13.2h-16.4z"/><path d="M441.8 246.5l8.2 13.2h-16.4z"/><path d="M448.8 243.5l8.2 13.2h-16.4z"/><path d="M455.8 240.6l8.2 13.2h-16.4z"/><path d="M462.8 237.7l8.2 13.2h-16.4z"/><path d="M469.8 234.8l8.2 13.2h-16.4z"/><path d="M476.8 232.0l8.2 13.2h-16.4z"/><path d="M483.8 229.2l8.2 13.2h-16.4z"/><path d="M490.8 226.6l8.2 13.2h-16.4z"/><path d="M497.8 223.9l8.2 13.2h-16.4z"/><path d="M504.8 221.3l8.2 13.2h-16.4z"/><path d="M511.8 218.8l8.2 13.2h-16.4z"/><path d="M518.8 216.3l8.2 13.2h-16.4z"/><path d="M525.8 213.9l8.2 13.2h-16.4z"/><path d="M532.8 211.5l8.2 13.2h-16.4z"/><path d="M539.7 209.2l8.2 13.2h-16.4z"/><path d="M546.7 206.9l8.2 13.2h-16.4z"/><path d="M553.7 204.8l8.2 13.2h-16.4z"/><path d="M560.7 202.6l8.2 13.2h-16.4z"/><path d="M567.7 200.4l8.2 13.2h-16.4z"/><path d="M574.7 198.3l8.2 13.2h-16.4z"/><path d="M581.7 196.1l8.2 13.2h-16.4z"/><path d="M588.7 194.0l8.2 13.2h-16.4z"/><path d="M595.7 191.9l8.2 13.2h-16.4z"/><path d="M602.7 189.8l8.2 13.2h-16.4z"/><path d="M609.7 187.8l8.2 13.2h-16.4z"/><path d="M616.7 185.8l8.2 13.2h-16.4z"/><path d="M623.7 183.9l8.2 13.2h-16.4z"/><path d="M630.7 181.9l8.2 13.2h-16.4z"/><path d="M637.7 180.0l8.2 13.2h-16.4z"/><path d="M644.7 178.1l8.2 13.2h-16.4z"/><path d="M651.7 176.3l8.2 13.2h-16.4z"/><path d="M658.7 174.4l8.2 13.2h-16.4z"/><path d="M665.7 172.6l8.2 13.2h-16.4z"/><path d="M672.6 170.8l8.2 13.2h-16.4z"/><path d="M679.6 169.1l8.2 13.2h-16.4z"/><path d="M686.6 167.5l8.2 13.2h-16.4z"/><path d="M693.6 165.8l8.2 13.2h-16.4z"/><path d="M700.6 164.3l8.2 13.2h-16.4z"/><path d="M707.6 162.8l8.2 13.2h-16.4z"/><path d="M714.6 161.3l8.2 13.2h-16.4z"/><path d="M721.6 159.9l8.2 13.2h-16.4z"/><path d="M728.6 158.6l8.2 13.2h-16.4z"/><path d="M735.6 157.3l8.2 13.2h-16.4z"/><path d="M742.6 156.0l8.2 13.2h-16.4z"/><path d="M749.6 154.7l8.2 13.2h-16.4z"/><path d="M756.6 153.5l8.2 13.2h-16.4z"/><path d="M763.6 152.3l8.2 13.2h-16.4z"/><path d="M770.6 151.1l8.2 13.2h-16.4z"/><path d="M777.6 149.9l8.2 13.2h-16.4z"/><path d="M784.6 148.8l8.2 13.2h-16.4z"/><path d="M791.6 147.7l8.2 13.2h-16.4z"/><path d="M798.6 146.6l8.2 13.2h-16.4z"/><path d="M805.6 145.6l8.2 13.2h-16.4z"/><path d="M812.5 144.5l8.2 13.2h-16.4z"/><path d="M819.5 143.5l8.2 13.2h-16.4z"/><path d="M826.5 142.5l8.2 13.2h-16.4z"/><path d="M833.5 141.6l8.2 13.2h-16.4z"/><path d="M840.5 140.7l8.2 13.2h-16.4z"/><path d="M847.5 139.9l8.2 13.2h-16.4z"/><path d="M854.5 139.1l8.2 13.2h-16.4z"/><path d="M861.5 138.3l8.2 13.2h-16.4z"/><path d="M868.5 137.7l8.2 13.2h-16.4z"/><path d="M875.5 137.0l8.2 13.2h-16.4z"/><path d="M882.5 136.4l8.2 13.2h-16.4z"/></g>
<g fill="#007f12"><path d="M183.0 255.4l8.2 13.2h-16.4z"/><path d="M190.0 257.7l8.2 13.2h-16.4z"/><path d="M197.0 259.8l8.2 13.2h-16.4z"/><path d="M204.0 261.7l8.2 13.2h-16.4z"/><path d="M211.0 263.3l8.2 13.2h-16.4z"/><path d="M218.0 264.6l8.2 13.2h-16.4z"/><path d="M225.0 265.9l8.2 13.2h-16.4z"/><path d="M232.0 267.0l8.2 13.2h-16.4z"/><path d="M239.0 268.0l8.2 13.2h-16.4z"/><path d="M246.0 268.9l8.2 13.2h-16.4z"/><path d="M252.9 269.7l8.2 13.2h-16.4z"/><path d="M259.9 270.5l8.2 13.2h-16.4z"/><path d="M266.9 271.1l8.2 13.2h-16.4z"/><path d="M273.9 271.7l8.2 13.2h-16.4z"/><path d="M280.9 272.3l8.2 13.2h-16.4z"/><path d="M287.9 272.8l8.2 13.2h-16.4z"/><path d="M294.9 273.4l8.2 13.2h-16.4z"/><path d="M301.9 274.0l8.2 13.2h-16.4z"/><path d="M308.9 274.5l8.2 13.2h-16.4z"/><path d="M315.9 275.0l8.2 13.2h-16.4z"/><path d="M322.9 275.5l8.2 13.2h-16.4z"/><path d="M329.9 275.9l8.2 13.2h-16.4z"/><path d="M336.9 276.2l8.2 13.2h-16.4z"/><path d="M343.9 276.5l8.2 13.2h-16.4z"/><path d="M350.9 276.8l8.2 13.2h-16.4z"/><path d="M357.9 277.0l8.2 13.2h-16.4z"/><path d="M364.9 277.2l8.2 13.2h-16.4z"/><path d="M371.9 277.5l8.2 13.2h-16.4z"/><path d="M378.9 277.7l8.2 13.2h-16.4z"/><path d="M385.9 277.9l8.2 13.2h-16.4z"/><path d="M392.9 278.1l8.2 13.2h-16.4z"/><path d="M399.8 278.2l8.2 13.2h-16.4z"/><path d="M406.8 278.4l8.2 13.2h-16.4z"/><path d="M413.8 278.4l8.2 13.2h-16.4z"/><path d="M420.8 278.4l8.2 13.2h-16.4z"/><path d="M427.8 278.4l8.2 13.2h-16.4z"/><path d="M434.8 278.3l8.2 13.2h-16.4z"/><path d="M441.8 278.0l8.2 13.2h-16.4z"/><path d="M448.8 277.4l8.2 13.2h-16.4z"/><path d="M455.8 276.6l8.2 13.2h-16.4z"/><path d="M462.8 275.6l8.2 13.2h-16.4z"/><path d="M469.8 274.6l8.2 13.2h-16.4z"/><path d="M476.8 273.4l8.2 13.2h-16.4z"/><path d="M483.8 272.2l8.2 13.2h-16.4z"/><path d="M490.8 270.4l8.2 13.2h-16.4z"/><path d="M497.8 268.2l8.2 13.2h-16.4z"/><path d="M504.8 265.6l8.2 13.2h-16.4z"/><path d="M511.8 262.9l8.2 13.2h-16.4z"/><path d="M518.8 260.0l8.2 13.2h-16.4z"/><path d="M525.8 257.1l8.2 13.2h-16.4z"/><path d="M532.8 254.3l8.2 13.2h-16.4z"/><path d="M539.7 251.3l8.2 13.2h-16.4z"/><path d="M546.7 248.1l8.2 13.2h-16.4z"/><path d="M553.7 244.8l8.2 13.2h-16.4z"/><path d="M560.7 241.5l8.2 13.2h-16.4z"/><path d="M567.7 238.4l8.2 13.2h-16.4z"/><path d="M574.7 235.5l8.2 13.2h-16.4z"/><path d="M581.7 232.7l8.2 13.2h-16.4z"/><path d="M588.7 229.9l8.2 13.2h-16.4z"/><path d="M595.7 227.0l8.2 13.2h-16.4z"/><path d="M602.7 224.1l8.2 13.2h-16.4z"/><path d="M609.7 220.9l8.2 13.2h-16.4z"/><path d="M616.7 217.5l8.2 13.2h-16.4z"/><path d="M623.7 214.0l8.2 13.2h-16.4z"/><path d="M630.7 210.6l8.2 13.2h-16.4z"/><path d="M637.7 207.4l8.2 13.2h-16.4z"/><path d="M644.7 204.5l8.2 13.2h-16.4z"/><path d="M651.7 201.7l8.2 13.2h-16.4z"/><path d="M658.7 199.1l8.2 13.2h-16.4z"/><path d="M665.7 196.5l8.2 13.2h-16.4z"/><path d="M672.6 194.0l8.2 13.2h-16.4z"/><path d="M679.6 191.4l8.2 13.2h-16.4z"/><path d="M686.6 188.9l8.2 13.2h-16.4z"/><path d="M693.6 186.4l8.2 13.2h-16.4z"/><path d="M700.6 184.0l8.2 13.2h-16.4z"/><path d="M707.6 181.6l8.2 13.2h-16.4z"/><path d="M714.6 179.3l8.2 13.2h-16.4z"/><path d="M721.6 177.0l8.2 13.2h-16.4z"/><path d="M728.6 174.8l8.2 13.2h-16.4z"/><path d="M735.6 172.7l8.2 13.2h-16.4z"/><path d="M742.6 170.6l8.2 13.2h-16.4z"/><path d="M749.6 168.5l8.2 13.2h-16.4z"/><path d="M756.6 166.5l8.2 13.2h-16.4z"/><path d="M763.6 164.6l8.2 13.2h-16.4z"/><path d="M770.6 162.8l8.2 13.2h-16.4z"/><path d="M777.6 161.0l8.2 13.2h-16.4z"/><path d="M784.6 159.3l8.2 13.2h-16.4z"/><path d="M791.6 157.5l8.2 13.2h-16.4z"/><path d="M798.6 155.8l8.2 13.2h-16.4z"/><path d="M805.6 154.0l8.2 13.2h-16.4z"/><path d="M812.5 152.1l8.2 13.2h-16.4z"/><path d="M819.5 150.2l8.2 13.2h-16.4z"/><path d="M826.5 148.4l8.2 13.2h-16.4z"/><path d="M833.5 146.7l8.2 13.2h-16.4z"/><path d="M840.5 145.2l8.2 13.2h-16.4z"/><path d="M847.5 143.8l8.2 13.2h-16.4z"/><path d="M854.5 142.5l8.2 13.2h-16.4z"/><path d="M861.5 141.4l8.2 13.2h-16.4z"/><path d="M868.5 140.3l8.2 13.2h-16.4z"/><path d="M875.5 139.3l8.2 13.2h-16.4z"/><path d="M882.5 138.4l8.2 13.2h-16.4z"/></g>
<g fill="#ff8c1e"><path d="M174.8 217.4h16.4l-8.2 13.2z"/><path d="M181.8 219.1h16.4l-8.2 13.2z"/><path d="M188.8 220.8h16.4l-8.2 13.2z"/><path d="M195.8 222.3h16.4l-8.2 13.2z"/><path d="M202.8 223.8h16.4l-8.2 13.2z"/><path d="M209.8 225.1h16.4l-8.2 13.2z"/><path d="M216.8 226.4h16.4l-8.2 13.2z"/><path d="M223.8 227.6h16.4l-8.2 13.2z"/><path d="M230.8 228.8h16.4l-8.2 13.2z"/><path d="M237.8 230.0h16.4l-8.2 13.2z"/><path d="M244.8 231.2h16.4l-8.2 13.2z"/><path d="M251.7 232.5h16.4l-8.2 13.2z"/><path d="M258.7 233.7h16.4l-8.2 13.2z"/><path d="M265.7 235.0h16.4l-8.2 13.2z"/><path d="M272.7 236.2h16.4l-8.2 13.2z"/><path d="M279.7 237.3h16.4l-8.2 13.2z"/><path d="M286.7 238.3h16.4l-8.2 13.2z"/><path d="M293.7 239.1h16.4l-8.2 13.2z"/><path d="M300.7 240.0h16.4l-8.2 13.2z"/><path d="M307.7 240.8h16.4l-8.2 13.2z"/><path d="M314.7 241.6h16.4l-8.2 13.2z"/><path d="M321.7 242.5h16.4l-8.2 13.2z"/><path d="M328.7 243.5h16.4l-8.2 13.2z"/><path d="M335.7 244.8h16.4l-8.2 13.2z"/><path d="M342.7 245.9h16.4l-8.2 13.2z"/><path d="M349.7 246.7h16.4l-8.2 13.2z"/><path d="M356.7 246.9h16.4l-8.2 13.2z"/><path d="M363.7 246.4h16.4l-8.2 13.2z"/><path d="M370.7 245.4h16.4l-8.2 13.2z"/><path d="M377.7 244.2h16.4l-8.2 13.2z"/><path d="M384.7 242.9h16.4l-8.2 13.2z"/><path d="M391.6 240.8h16.4l-8.2 13.2z"/><path d="M398.6 238.5h16.4l-8.2 13.2z"/><path d="M405.6 236.4h16.4l-8.2 13.2z"/><path d="M412.6 234.8h16.4l-8.2 13.2z"/><path d="M419.6 233.2h16.4l-8.2 13.2z"/><path d="M426.6 231.3h16.4l-8.2 13.2z"/><path d="M433.6 229.2h16.4l-8.2 13.2z"/><path d="M440.6 227.1h16.4l-8.2 13.2z"/><path d="M447.6 224.8h16.4l-8.2 13.2z"/><path d="M454.6 222.5h16.4l-8.2 13.2z"/><path d="M461.6 220.1h16.4l-8.2 13.2z"/><path d="M468.6 217.6h16.4l-8.2 13.2z"/><path d="M475.6 215.2h16.4l-8.2 13.2z"/><path d="M482.6 212.5h16.4l-8.2 13.2z"/><path d="M489.6 209.8h16.4l-8.2 13.2z"/><path d="M496.6 207.0h16.4l-8.2 13.2z"/><path d="M503.6 204.5h16.4l-8.2 13.2z"/><path d="M510.6 202.2h16.4l-8.2 13.2z"/><path d="M517.6 200.1h16.4l-8.2 13.2z"/><path d="M524.5 198.2h16.4l-8.2 13.2z"/><path d="M531.5 196.3h16.4l-8.2 13.2z"/><path d="M538.5 194.6h16.4l-8.2 13.2z"/><path d="M545.5 192.9h16.4l-8.2 13.2z"/><path d="M552.5 191.2h16.4l-8.2 13.2z"/><path d="M559.5 189.4h16.4l-8.2 13.2z"/><path d="M566.5 187.5h16.4l-8.2 13.2z"/><path d="M573.5 185.5h16.4l-8.2 13.2z"/><path d="M580.5 183.5h16.4l-8.2 13.2z"/><path d="M587.5 181.4h16.4l-8.2 13.2z"/><path d="M594.5 179.3h16.4l-8.2 13.2z"/><path d="M601.5 177.3h16.4l-8.2 13.2z"/><path d="M608.5 175.1h16.4l-8.2 13.2z"/><path d="M615.5 173.0h16.4l-8.2 13.2z"/><path d="M622.5 170.9h16.4l-8.2 13.2z"/><path d="M629.5 169.0h16.4l-8.2 13.2z"/><path d="M636.5 167.2h16.4l-8.2 13.2z"/><path d="M643.5 165.6h16.4l-8.2 13.2z"/><path d="M650.5 164.0h16.4l-8.2 13.2z"/><path d="M657.5 162.6h16.4l-8.2 13.2z"/><path d="M664.4 161.1h16.4l-8.2 13.2z"/><path d="M671.4 159.6h16.4l-8.2 13.2z"/><path d="M678.4 158.2h16.4l-8.2 13.2z"/><path d="M685.4 156.9h16.4l-8.2 13.2z"/><path d="M692.4 155.5h16.4l-8.2 13.2z"/><path d="M699.4 154.2h16.4l-8.2 13.2z"/><path d="M706.4 152.8h16.4l-8.2 13.2z"/><path d="M713.4 151.5h16.4l-8.2 13.2z"/><path d="M720.4 150.1h16.4l-8.2 13.2z"/><path d="M727.4 148.8h16.4l-8.2 13.2z"/><path d="M734.4 147.5h16.4l-8.2 13.2z"/><path d="M741.4 146.2h16.4l-8.2 13.2z"/><path d="M748.4 145.0h16.4l-8.2 13.2z"/><path d="M755.4 143.8h16.4l-8.2 13.2z"/><path d="M762.4 142.7h16.4l-8.2 13.2z"/><path d="M769.4 141.6h16.4l-8.2 13.2z"/><path d="M776.4 140.6h16.4l-8.2 13.2z"/><path d="M783.4 139.6h16.4l-8.2 13.2z"/><path d="M790.4 138.6h16.4l-8.2 13.2z"/><path d="M797.4 137.6h16.4l-8.2 13.2z"/><path d="M804.3 136.7h16.4l-8.2 13.2z"/><path d="M811.3 135.8h16.4l-8.2 13.2z"/><path d="M818.3 134.9h16.4l-8.2 13.2z"/><path d="M825.3 134.0h16.4l-8.2 13.2z"/><path d="M832.3 133.2h16.4l-8.2 13.2z"/><path d="M839.3 132.4h16.4l-8.2 13.2z"/><path d="M846.3 131.7h16.4l-8.2 13.2z"/><path d="M853.3 131.0h16.4l-8.2 13.2z"/><path d="M860.3 130.1h16.4l-8.2 13.2z"/><path d="M867.3 129.4h16.4l-8.2 13.2z"/><path d="M874.3 128.8h16.4l-8.2 13.2z"/></g>
<g fill="#ff8c1e"><path d="M174.8 217.4h16.4l-8.2 13.2z"/><path d="M181.8 219.2h16.4l-8.2 13.2z"/><path d="M188.8 221.0h16.4l-8.2 13.2z"/><path d="M195.8 222.8h16.4l-8.2 13.2z"/><path d="M202.8 224.6h16.4l-8.2 13.2z"/><path d="M209.8 226.3h16.4l-8.2 13.2z"/><path d="M216.8 228.1h16.4l-8.2 13.2z"/><path d="M223.8 229.8h16.4l-8.2 13.2z"/><path d="M230.8 231.5h16.4l-8.2 13.2z"/><path d="M237.8 233.2h16.4l-8.2 13.2z"/><path d="M244.8 234.9h16.4l-8.2 13.2z"/><path d="M251.7 236.6h16.4l-8.2 13.2z"/><path d="M258.7 238.3h16.4l-8.2 13.2z"/><path d="M265.7 240.0h16.4l-8.2 13.2z"/><path d="M272.7 241.5h16.4l-8.2 13.2z"/><path d="M279.7 243.0h16.4l-8.2 13.2z"/><path d="M286.7 244.4h16.4l-8.2 13.2z"/><path d="M293.7 245.9h16.4l-8.2 13.2z"/><path d="M300.7 247.4h16.4l-8.2 13.2z"/><path d="M307.7 248.7h16.4l-8.2 13.2z"/><path d="M314.7 249.6h16.4l-8.2 13.2z"/><path d="M321.7 249.9h16.4l-8.2 13.2z"/><path d="M328.7 249.9h16.4l-8.2 13.2z"/><path d="M335.7 249.9h16.4l-8.2 13.2z"/><path d="M342.7 249.9h16.4l-8.2 13.2z"/><path d="M349.7 249.9h16.4l-8.2 13.2z"/><path d="M356.7 249.9h16.4l-8.2 13.2z"/><path d="M363.7 250.2h16.4l-8.2 13.2z"/><path d="M370.7 250.7h16.4l-8.2 13.2z"/><path d="M377.7 251.3h16.4l-8.2 13.2z"/><path d="M384.7 251.7h16.4l-8.2 13.2z"/><path d="M391.6 252.2h16.4l-8.2 13.2z"/><path d="M398.6 252.6h16.4l-8.2 13.2z"/><path d="M405.6 253.0h16.4l-8.2 13.2z"/><path d="M412.6 253.4h16.4l-8.2 13.2z"/><path d="M419.6 253.8h16.4l-8.2 13.2z"/><path d="M426.6 253.8h16.4l-8.2 13.2z"/><path d="M433.6 253.5h16.4l-8.2 13.2z"/><path d="M440.6 253.2h16.4l-8.2 13.2z"/><path d="M447.6 252.7h16.4l-8.2 13.2z"/><path d="M454.6 252.1h16.4l-8.2 13.2z"/><path d="M461.6 251.4h16.4l-8.2 13.2z"/><path d="M468.6 250.7h16.4l-8.2 13.2z"/><path d="M475.6 249.8h16.4l-8.2 13.2z"/><path d="M482.6 248.5h16.4l-8.2 13.2z"/><path d="M489.6 246.7h16.4l-8.2 13.2z"/><path d="M496.6 244.6h16.4l-8.2 13.2z"/><path d="M503.6 242.3h16.4l-8.2 13.2z"/><path d="M510.6 239.9h16.4l-8.2 13.2z"/><path d="M517.6 237.5h16.4l-8.2 13.2z"/><path d="M524.5 235.0h16.4l-8.2 13.2z"/><path d="M531.5 232.3h16.4l-8.2 13.2z"/><path d="M538.5 229.3h16.4l-8.2 13.2z"/><path d="M545.5 226.3h16.4l-8.2 13.2z"/><path d="M552.5 223.3h16.4l-8.2 13.2z"/><path d="M559.5 220.4h16.4l-8.2 13.2z"/><path d="M566.5 217.9h16.4l-8.2 13.2z"/><path d="M573.5 215.4h16.4l-8.2 13.2z"/><path d="M580.5 213.0h16.4l-8.2 13.2z"/><path d="M587.5 210.6h16.4l-8.2 13.2z"/><path d="M594.5 208.0h16.4l-8.2 13.2z"/><path d="M601.5 205.1h16.4l-8.2 13.2z"/><path d="M608.5 201.9h16.4l-8.2 13.2z"/><path d="M615.5 198.5h16.4l-8.2 13.2z"/><path d="M622.5 195.3h16.4l-8.2 13.2z"/><path d="M629.5 192.3h16.4l-8.2 13.2z"/><path d="M636.5 189.7h16.4l-8.2 13.2z"/><path d="M643.5 187.4h16.4l-8.2 13.2z"/><path d="M650.5 185.3h16.4l-8.2 13.2z"/><path d="M657.5 183.2h16.4l-8.2 13.2z"/><path d="M664.4 181.1h16.4l-8.2 13.2z"/><path d="M671.4 179.0h16.4l-8.2 13.2z"/><path d="M678.4 176.8h16.4l-8.2 13.2z"/><path d="M685.4 174.6h16.4l-8.2 13.2z"/><path d="M692.4 172.4h16.4l-8.2 13.2z"/><path d="M699.4 170.3h16.4l-8.2 13.2z"/><path d="M706.4 168.3h16.4l-8.2 13.2z"/><path d="M713.4 166.5h16.4l-8.2 13.2z"/><path d="M720.4 164.8h16.4l-8.2 13.2z"/><path d="M727.4 163.2h16.4l-8.2 13.2z"/><path d="M734.4 161.6h16.4l-8.2 13.2z"/><path d="M741.4 160.0h16.4l-8.2 13.2z"/><path d="M748.4 158.5h16.4l-8.2 13.2z"/><path d="M755.4 157.0h16.4l-8.2 13.2z"/><path d="M762.4 155.6h16.4l-8.2 13.2z"/><path d="M769.4 154.2h16.4l-8.2 13.2z"/><path d="M776.4 152.8h16.4l-8.2 13.2z"/><path d="M783.4 151.5h16.4l-8.2 13.2z"/><path d="M790.4 150.1h16.4l-8.2 13.2z"/><path d="M797.4 148.7h16.4l-8.2 13.2z"/><path d="M804.3 147.3h16.4l-8.2 13.2z"/><path d="M811.3 145.8h16.4l-8.2 13.2z"/><path d="M818.3 144.4h16.4l-8.2 13.2z"/><path d="M825.3 143.0h16.4l-8.2 13.2z"/><path d="M832.3 141.7h16.4l-8.2 13.2z"/><path d="M839.3 140.5h16.4l-8.2 13.2z"/><path d="M846.3 139.3h16.4l-8.2 13.2z"/><path d="M853.3 138.1h16.4l-8.2 13.2z"/><path d="M860.3 137.0h16.4l-8.2 13.2z"/><path d="M867.3 135.9h16.4l-8.2 13.2z"/><path d="M874.3 134.9h16.4l-8.2 13.2z"/></g>
<g fill="#dc0000"><circle cx="1112.5" cy="600.4" r="8.5"/><circle cx="1119.5" cy="600.4" r="8.5"/><circle cx="1126.5" cy="600.3" r="8.5"/><circle cx="1133.5" cy="600.2" r="8.5"/><circle cx="1140.5" cy="600.1" r="8.5"/><circle cx="1147.4" cy="600.0" r="8.5"/><circle cx="1154.4" cy="599.8" r="8.5"/><circle cx="1161.4" cy="599.6" r="8.5"/><circle cx="1168.4" cy="599.3" r="8.5"/><circle cx="1175.4" cy="599.0" r="8.5"/><circle cx="1182.4" cy="598.7" r="8.5"/><circle cx="1189.4" cy="598.4" r="8.5"/><circle cx="1196.4" cy="598.0" r="8.5"/><circle cx="1203.4" cy="597.5" r="8.5"/><circle cx="1210.3" cy="596.5" r="8.5"/><circle cx="1217.3" cy="594.9" r="8.5"/><circle cx="1224.3" cy="592.9" r="8.5"/><circle cx="1231.3" cy="590.8" r="8.5"/><circle cx="1238.3" cy="588.5" r="8.5"/><circle cx="1245.3" cy="586.0" r="8.5"/><circle cx="1252.3" cy="582.8" r="8.5"/><circle cx="1259.3" cy="579.5" r="8.5"/><circle cx="1266.3" cy="576.5" r="8.5"/><circle cx="1273.2" cy="574.3" r="8.5"/><circle cx="1280.2" cy="572.6" r="8.5"/><circle cx="1287.2" cy="570.9" r="8.5"/><circle cx="1294.2" cy="569.0" r="8.5"/><circle cx="1301.2" cy="567.0" r="8.5"/><circle cx="1308.2" cy="564.8" r="8.5"/><circle cx="1315.2" cy="562.3" r="8.5"/><circle cx="1322.2" cy="559.4" r="8.5"/><circle cx="1329.2" cy="556.5" r="8.5"/><circle cx="1336.1" cy="553.3" r="8.5"/><circle cx="1343.1" cy="550.1" r="8.5"/><circle cx="1350.1" cy="547.1" r="8.5"/><circle cx="1357.1" cy="544.3" r="8.5"/><circle cx="1364.1" cy="541.8" r="8.5"/><circle cx="1371.1" cy="540.2" r="8.5"/><circle cx="1378.1" cy="539.3" r="8.5"/><circle cx="1385.1" cy="538.4" r="8.5"/><circle cx="1392.1" cy="536.9" r="8.5"/><circle cx="1399.0" cy="534.4" r="8.5"/><circle cx="1406.0" cy="529.4" r="8.5"/><circle cx="1413.0" cy="522.3" r="8.5"/><circle cx="1420.0" cy="509.6" r="8.5"/><circle cx="1427.0" cy="492.0" r="8.5"/><circle cx="1434.0" cy="472.3" r="8.5"/><circle cx="1441.0" cy="448.5" r="8.5"/><circle cx="1448.0" cy="425.3" r="8.5"/><circle cx="1455.0" cy="400.7" r="8.5"/><circle cx="1462.0" cy="377.6" r="8.5"/><circle cx="1468.9" cy="354.8" r="8.5"/><circle cx="1475.9" cy="337.9" r="8.5"/><circle cx="1482.9" cy="321.1" r="8.5"/><circle cx="1489.9" cy="304.0" r="8.5"/><circle cx="1496.9" cy="293.4" r="8.5"/><circle cx="1503.9" cy="283.6" r="8.5"/><circle cx="1510.9" cy="273.2" r="8.5"/><circle cx="1517.9" cy="263.9" r="8.5"/><circle cx="1524.9" cy="255.6" r="8.5"/><circle cx="1531.8" cy="247.9" r="8.5"/><circle cx="1538.8" cy="240.6" r="8.5"/><circle cx="1545.8" cy="233.9" r="8.5"/><circle cx="1552.8" cy="228.1" r="8.5"/><circle cx="1559.8" cy="222.8" r="8.5"/><circle cx="1566.8" cy="218.0" r="8.5"/><circle cx="1573.8" cy="213.6" r="8.5"/><circle cx="1580.8" cy="209.6" r="8.5"/><circle cx="1587.8" cy="206.1" r="8.5"/><circle cx="1594.7" cy="203.0" r="8.5"/><circle cx="1601.7" cy="200.0" r="8.5"/><circle cx="1608.7" cy="197.0" r="8.5"/><circle cx="1615.7" cy="194.0" r="8.5"/><circle cx="1622.7" cy="191.0" r="8.5"/><circle cx="1629.7" cy="188.2" r="8.5"/><circle cx="1636.7" cy="185.5" r="8.5"/><circle cx="1643.7" cy="182.8" r="8.5"/><circle cx="1650.7" cy="180.2" r="8.5"/><circle cx="1657.6" cy="177.8" r="8.5"/><circle cx="1664.6" cy="175.5" r="8.5"/><circle cx="1671.6" cy="173.2" r="8.5"/><circle cx="1678.6" cy="171.0" r="8.5"/><circle cx="1685.6" cy="168.9" r="8.5"/><circle cx="1692.6" cy="166.9" r="8.5"/><circle cx="1699.6" cy="165.1" r="8.5"/><circle cx="1706.6" cy="163.5" r="8.5"/><circle cx="1713.6" cy="161.9" r="8.5"/><circle cx="1720.5" cy="160.4" r="8.5"/><circle cx="1727.5" cy="159.1" r="8.5"/><circle cx="1734.5" cy="157.7" r="8.5"/><circle cx="1741.5" cy="156.5" r="8.5"/><circle cx="1748.5" cy="155.3" r="8.5"/><circle cx="1755.5" cy="154.1" r="8.5"/><circle cx="1762.5" cy="152.9" r="8.5"/><circle cx="1769.5" cy="151.8" r="8.5"/><circle cx="1776.5" cy="150.7" r="8.5"/><circle cx="1783.4" cy="149.7" r="8.5"/><circle cx="1790.4" cy="148.7" r="8.5"/><circle cx="1797.4" cy="147.7" r="8.5"/><circle cx="1804.4" cy="146.8" r="8.5"/><circle cx="1811.4" cy="146.0" r="8.5"/></g>
<g fill="#0000d2"><path d="M1112.5 591.3l8.3 8.3l-8.3 8.3l-8.3 -8.3z"/><path d="M1119.5 591.3l8.3 8.3l-8.3 8.3l-8.3 -8.3z"/><path d="M1126.5 591.2l8.3 8.3l-8.3 8.3l-8.3 -8.3z"/><path d="M1133.5 591.1l8.3 8.3l-8.3 8.3l-8.3 -8.3z"/><path d="M1140.5 591.0l8.3 8.3l-8.3 8.3l-8.3 -8.3z"/><path d="M1147.4 590.8l8.3 8.3l-8.3 8.3l-8.3 -8.3z"/><path d="M1154.4 590.6l8.3 8.3l-8.3 8.3l-8.3 -8.3z"/><path d="M1161.4 590.4l8.3 8.3l-8.3 8.3l-8.3 -8.3z"/><path d="M1168.4 590.1l8.3 8.3l-8.3 8.3l-8.3 -8.3z"/><path d="M1175.4 589.8l8.3 8.3l-8.3 8.3l-8.3 -8.3z"/><path d="M1182.4 589.4l8.3 8.3l-8.3 8.3l-8.3 -8.3z"/><path d="M1189.4 589.0l8.3 8.3l-8.3 8.3l-8.3 -8.3z"/><path d="M1196.4 588.6l8.3 8.3l-8.3 8.3l-8.3 -8.3z"/><path d="M1203.4 588.0l8.3 8.3l-8.3 8.3l-8.3 -8.3z"/><path d="M1210.3 586.9l8.3 8.3l-8.3 8.3l-8.3 -8.3z"/><path d="M1217.3 585.3l8.3 8.3l-8.3 8.3l-8.3 -8.3z"/><path d="M1224.3 583.3l8.3 8.3l-8.3 8.3l-8.3 -8.3z"/><path d="M1231.3 581.2l8.3 8.3l-8.3 8.3l-8.3 -8.3z"/><path d="M1238.3 579.0l8.3 8.3l-8.3 8.3l-8.3 -8.3z"/><path d="M1245.3 576.6l8.3 8.3l-8.3 8.3l-8.3 -8.3z"/><path d="M1252.3 573.7l8.3 8.3l-8.3 8.3l-8.3 -8.3z"/><path d="M1259.3 570.7l8.3 8.3l-8.3 8.3l-8.3 -8.3z"/><path d="M1266.3 568.1l8.3 8.3l-8.3 8.3l-8.3 -8.3z"/><path d="M1273.2 566.0l8.3 8.3l-8.3 8.3l-8.3 -8.3z"/><path d="M1280.2 564.3l8.3 8.3l-8.3 8.3l-8.3 -8.3z"/><path d="M1287.2 562.6l8.3 8.3l-8.3 8.3l-8.3 -8.3z"/><path d="M1294.2 560.5l8.3 8.3l-8.3 8.3l-8.3 -8.3z"/><path d="M1301.2 558.1l8.3 8.3l-8.3 8.3l-8.3 -8.3z"/><path d="M1308.2 555.4l8.3 8.3l-8.3 8.3l-8.3 -8.3z"/><path d="M1315.2 552.8l8.3 8.3l-8.3 8.3l-8.3 -8.3z"/><path d="M1322.2 550.0l8.3 8.3l-8.3 8.3l-8.3 -8.3z"/><path d="M1329.2 547.0l8.3 8.3l-8.3 8.3l-8.3 -8.3z"/><path d="M1336.1 543.7l8.3 8.3l-8.3 8.3l-8.3 -8.3z"/><path d="M1343.1 539.8l8.3 8.3l-8.3 8.3l-8.3 -8.3z"/><path d="M1350.1 535.8l8.3 8.3l-8.3 8.3l-8.3 -8.3z"/><path d="M1357.1 531.9l8.3 8.3l-8.3 8.3l-8.3 -8.3z"/><path d="M1364.1 528.7l8.3 8.3l-8.3 8.3l-8.3 -8.3z"/><path d="M1371.1 526.5l8.3 8.3l-8.3 8.3l-8.3 -8.3z"/><path d="M1378.1 525.0l8.3 8.3l-8.3 8.3l-8.3 -8.3z"/><path d="M1385.1 523.3l8.3 8.3l-8.3 8.3l-8.3 -8.3z"/><path d="M1392.1 520.7l8.3 8.3l-8.3 8.3l-8.3 -8.3z"/><path d="M1399.0 516.9l8.3 8.3l-8.3 8.3l-8.3 -8.3z"/><path d="M1406.0 511.1l8.3 8.3l-8.3 8.3l-8.3 -8.3z"/><path d="M1413.0 503.6l8.3 8.3l-8.3 8.3l-8.3 -8.3z"/><path d="M1420.0 490.0l8.3 8.3l-8.3 8.3l-8.3 -8.3z"/><path d="M1427.0 472.8l8.3 8.3l-8.3 8.3l-8.3 -8.3z"/><path d="M1434.0 453.6l8.3 8.3l-8.3 8.3l-8.3 -8.3z"/><path d="M1441.0 430.8l8.3 8.3l-8.3 8.3l-8.3 -8.3z"/><path d="M1448.0 408.2l8.3 8.3l-8.3 8.3l-8.3 -8.3z"/><path d="M1455.0 384.8l8.3 8.3l-8.3 8.3l-8.3 -8.3z"/><path d="M1462.0 362.7l8.3 8.3l-8.3 8.3l-8.3 -8.3z"/><path d="M1468.9 341.5l8.3 8.3l-8.3 8.3l-8.3 -8.3z"/><path d="M1475.9 324.7l8.3 8.3l-8.3 8.3l-8.3 -8.3z"/><path d="M1482.9 308.5l8.3 8.3l-8.3 8.3l-8.3 -8.3z"/><path d="M1489.9 292.1l8.3 8.3l-8.3 8.3l-8.3 -8.3z"/><path d="M1496.9 281.3l8.3 8.3l-8.3 8.3l-8.3 -8.3z"/><path d="M1503.9 271.5l8.3 8.3l-8.3 8.3l-8.3 -8.3z"/><path d="M1510.9 261.7l8.3 8.3l-8.3 8.3l-8.3 -8.3z"/><path d="M1517.9 253.0l8.3 8.3l-8.3 8.3l-8.3 -8.3z"/><path d="M1524.9 245.1l8.3 8.3l-8.3 8.3l-8.3 -8.3z"/><path d="M1531.8 237.7l8.3 8.3l-8.3 8.3l-8.3 -8.3z"/><path d="M1538.8 230.7l8.3 8.3l-8.3 8.3l-8.3 -8.3z"/><path d="M1545.8 224.2l8.3 8.3l-8.3 8.3l-8.3 -8.3z"/><path d="M1552.8 218.6l8.3 8.3l-8.3 8.3l-8.3 -8.3z"/><path d="M1559.8 213.5l8.3 8.3l-8.3 8.3l-8.3 -8.3z"/><path d="M1566.8 208.7l8.3 8.3l-8.3 8.3l-8.3 -8.3z"/><path d="M1573.8 204.3l8.3 8.3l-8.3 8.3l-8.3 -8.3z"/><path d="M1580.8 200.3l8.3 8.3l-8.3 8.3l-8.3 -8.3z"/><path d="M1587.8 196.7l8.3 8.3l-8.3 8.3l-8.3 -8.3z"/><path d="M1594.7 193.5l8.3 8.3l-8.3 8.3l-8.3 -8.3z"/><path d="M1601.7 190.4l8.3 8.3l-8.3 8.3l-8.3 -8.3z"/><path d="M1608.7 187.2l8.3 8.3l-8.3 8.3l-8.3 -8.3z"/><path d="M1615.7 184.1l8.3 8.3l-8.3 8.3l-8.3 -8.3z"/><path d="M1622.7 181.3l8.3 8.3l-8.3 8.3l-8.3 -8.3z"/><path d="M1629.7 178.7l8.3 8.3l-8.3 8.3l-8.3 -8.3z"/><path d="M1636.7 176.0l8.3 8.3l-8.3 8.3l-8.3 -8.3z"/><path d="M1643.7 173.4l8.3 8.3l-8.3 8.3l-8.3 -8.3z"/><path d="M1650.7 170.8l8.3 8.3l-8.3 8.3l-8.3 -8.3z"/><path d="M1657.6 168.4l8.3 8.3l-8.3 8.3l-8.3 -8.3z"/><path d="M1664.6 166.2l8.3 8.3l-8.3 8.3l-8.3 -8.3z"/><path d="M1671.6 164.0l8.3 8.3l-8.3 8.3l-8.3 -8.3z"/><path d="M1678.6 162.0l8.3 8.3l-8.3 8.3l-8.3 -8.3z"/><path d="M1685.6 160.0l8.3 8.3l-8.3 8.3l-8.3 -8.3z"/><path d="M1692.6 158.1l8.3 8.3l-8.3 8.3l-8.3 -8.3z"/><path d="M1699.6 156.3l8.3 8.3l-8.3 8.3l-8.3 -8.3z"/><path d="M1706.6 154.6l8.3 8.3l-8.3 8.3l-8.3 -8.3z"/><path d="M1713.6 153.0l8.3 8.3l-8.3 8.3l-8.3 -8.3z"/><path d="M1720.5 151.4l8.3 8.3l-8.3 8.3l-8.3 -8.3z"/><path d="M1727.5 149.8l8.3 8.3l-8.3 8.3l-8.3 -8.3z"/><path d="M1734.5 148.3l8.3 8.3l-8.3 8.3l-8.3 -8.3z"/><path d="M1741.5 146.9l8.3 8.3l-8.3 8.3l-8.3 -8.3z"/><path d="M1748.5 145.5l8.3 8.3l-8.3 8.3l-8.3 -8.3z"/><path d="M1755.5 144.2l8.3 8.3l-8.3 8.3l-8.3 -8.3z"/><path d="M1762.5 143.0l8.3 8.3l-8.3 8.3l-8.3 -8.3z"/><path d="M1769.5 141.8l8.3 8.3l-8.3 8.3l-8.3 -8.3z"/><path d="M1776.5 140.7l8.3 8.3l-8.3 8.3l-8.3 -8.3z"/><path d="M1783.4 139.6l8.3 8.3l-8.3 8.3l-8.3 -8.3z"/><path d="M1790.4 138.6l8.3 8.3l-8.3 8.3l-8.3 -8.3z"/><path d="M1797.4 137.6l8.3 8.3l-8.3 8.3l-8.3 -8.3z"/><path d="M1804.4 136.8l8.3 8.3l-8.3 8.3l-8.3 -8.3z"/><path d="M1811.4 136.0l8.3 8.3l-8.3 8.3l-8.3 -8.3z"/></g>
<g fill="#0000d2"><path d="M1112.5 591.3l8.3 8.3l-8.3 8.3l-8.3 -8.3z"/><path d="M1119.5 591.2l8.3 8.3l-8.3 8.3l-8.3 -8.3z"/><path d="M1126.5 591.1l8.3 8.3l-8.3 8.3l-8.3 -8.3z"/><path d="M1133.5 591.0l8.3 8.3l-8.3 8.3l-8.3 -8.3z"/><path d="M1140.5 590.8l8.3 8.3l-8.3 8.3l-8.3 -8.3z"/><path d="M1147.4 590.6l8.3 8.3l-8.3 8.3l-8.3 -8.3z"/><path d="M1154.4 590.5l8.3 8.3l-8.3 8.3l-8.3 -8.3z"/><path d="M1161.4 590.3l8.3 8.3l-8.3 8.3l-8.3 -8.3z"/><path d="M1168.4 590.1l8.3 8.3l-8.3 8.3l-8.3 -8.3z"/><path d="M1175.4 589.9l8.3 8.3l-8.3 8.3l-8.3 -8.3z"/><path d="M1182.4 589.7l8.3 8.3l-8.3 8.3l-8.3 -8.3z"/><path d="M1189.4 589.4l8.3 8.3l-8.3 8.3l-8.3 -8.3z"/><path d="M1196.4 589.2l8.3 8.3l-8.3 8.3l-8.3 -8.3z"/><path d="M1203.4 589.0l8.3 8.3l-8.3 8.3l-8.3 -8.3z"/><path d="M1210.3 588.7l8.3 8.3l-8.3 8.3l-8.3 -8.3z"/><path d="M1217.3 588.5l8.3 8.3l-8.3 8.3l-8.3 -8.3z"/><path d="M1224.3 588.2l8.3 8.3l-8.3 8.3l-8.3 -8.3z"/><path d="M1231.3 587.9l8.3 8.3l-8.3 8.3l-8.3 -8.3z"/><path d="M1238.3 587.6l8.3 8.3l-8.3 8.3l-8.3 -8.3z"/><path d="M1245.3 587.3l8.3 8.3l-8.3 8.3l-8.3 -8.3z"/><path d="M1252.3 586.9l8.3 8.3l-8.3 8.3l-8.3 -8.3z"/><path d="M1259.3 586.5l8.3 8.3l-8.3 8.3l-8.3 -8.3z"/><path d="M1266.3 586.1l8.3 8.3l-8.3 8.3l-8.3 -8.3z"/><path d="M1273.2 585.7l8.3 8.3l-8.3 8.3l-8.3 -8.3z"/><path d="M1280.2 585.3l8.3 8.3l-8.3 8.3l-8.3 -8.3z"/><path d="M1287.2 584.8l8.3 8.3l-8.3 8.3l-8.3 -8.3z"/><path d="M1294.2 584.3l8.3 8.3l-8.3 8.3l-8.3 -8.3z"/><path d="M1301.2 583.8l8.3 8.3l-8.3 8.3l-8.3 -8.3z"/><path d="M1308.2 583.2l8.3 8.3l-8.3 8.3l-8.3 -8.3z"/><path d="M1315.2 582.5l8.3 8.3l-8.3 8.3l-8.3 -8.3z"/><path d="M1322.2 581.7l8.3 8.3l-8.3 8.3l-8.3 -8.3z"/><path d="M1329.2 580.8l8.3 8.3l-8.3 8.3l-8.3 -8.3z"/><path d="M1336.1 579.9l8.3 8.3l-8.3 8.3l-8.3 -8.3z"/><path d="M1343.1 578.9l8.3 8.3l-8.3 8.3l-8.3 -8.3z"/><path d="M1350.1 577.8l8.3 8.3l-8.3 8.3l-8.3 -8.3z"/><path d="M1357.1 576.8l8.3 8.3l-8.3 8.3l-8.3 -8.3z"/><path d="M1364.1 575.7l8.3 8.3l-8.3 8.3l-8.3 -8.3z"/><path d="M1371.1 574.6l8.3 8.3l-8.3 8.3l-8.3 -8.3z"/><path d="M1378.1 573.5l8.3 8.3l-8.3 8.3l-8.3 -8.3z"/><path d="M1385.1 572.4l8.3 8.3l-8.3 8.3l-8.3 -8.3z"/><path d="M1392.1 571.4l8.3 8.3l-8.3 8.3l-8.3 -8.3z"/><path d="M1399.0 570.4l8.3 8.3l-8.3 8.3l-8.3 -8.3z"/><path d="M1406.0 569.2l8.3 8.3l-8.3 8.3l-8.3 -8.3z"/><path d="M1413.0 567.9l8.3 8.3l-8.3 8.3l-8.3 -8.3z"/><path d="M1420.0 566.1l8.3 8.3l-8.3 8.3l-8.3 -8.3z"/><path d="M1427.0 564.2l8.3 8.3l-8.3 8.3l-8.3 -8.3z"/><path d="M1434.0 561.8l8.3 8.3l-8.3 8.3l-8.3 -8.3z"/><path d="M1441.0 559.5l8.3 8.3l-8.3 8.3l-8.3 -8.3z"/><path d="M1448.0 556.9l8.3 8.3l-8.3 8.3l-8.3 -8.3z"/><path d="M1455.0 554.0l8.3 8.3l-8.3 8.3l-8.3 -8.3z"/><path d="M1462.0 551.1l8.3 8.3l-8.3 8.3l-8.3 -8.3z"/><path d="M1468.9 548.0l8.3 8.3l-8.3 8.3l-8.3 -8.3z"/><path d="M1475.9 543.6l8.3 8.3l-8.3 8.3l-8.3 -8.3z"/><path d="M1482.9 538.0l8.3 8.3l-8.3 8.3l-8.3 -8.3z"/><path d="M1489.9 530.9l8.3 8.3l-8.3 8.3l-8.3 -8.3z"/><path d="M1496.9 523.6l8.3 8.3l-8.3 8.3l-8.3 -8.3z"/><path d="M1503.9 512.9l8.3 8.3l-8.3 8.3l-8.3 -8.3z"/><path d="M1510.9 494.8l8.3 8.3l-8.3 8.3l-8.3 -8.3z"/><path d="M1517.9 471.5l8.3 8.3l-8.3 8.3l-8.3 -8.3z"/><path d="M1524.9 450.0l8.3 8.3l-8.3 8.3l-8.3 -8.3z"/><path d="M1531.8 423.0l8.3 8.3l-8.3 8.3l-8.3 -8.3z"/><path d="M1538.8 396.0l8.3 8.3l-8.3 8.3l-8.3 -8.3z"/><path d="M1545.8 366.5l8.3 8.3l-8.3 8.3l-8.3 -8.3z"/><path d="M1552.8 339.3l8.3 8.3l-8.3 8.3l-8.3 -8.3z"/><path d="M1559.8 316.7l8.3 8.3l-8.3 8.3l-8.3 -8.3z"/><path d="M1566.8 296.1l8.3 8.3l-8.3 8.3l-8.3 -8.3z"/><path d="M1573.8 278.4l8.3 8.3l-8.3 8.3l-8.3 -8.3z"/><path d="M1580.8 266.2l8.3 8.3l-8.3 8.3l-8.3 -8.3z"/><path d="M1587.8 251.8l8.3 8.3l-8.3 8.3l-8.3 -8.3z"/><path d="M1594.7 241.2l8.3 8.3l-8.3 8.3l-8.3 -8.3z"/><path d="M1601.7 233.7l8.3 8.3l-8.3 8.3l-8.3 -8.3z"/><path d="M1608.7 225.9l8.3 8.3l-8.3 8.3l-8.3 -8.3z"/><path d="M1615.7 220.5l8.3 8.3l-8.3 8.3l-8.3 -8.3z"/><path d="M1622.7 214.2l8.3 8.3l-8.3 8.3l-8.3 -8.3z"/><path d="M1629.7 209.3l8.3 8.3l-8.3 8.3l-8.3 -8.3z"/><path d="M1636.7 204.4l8.3 8.3l-8.3 8.3l-8.3 -8.3z"/><path d="M1643.7 200.0l8.3 8.3l-8.3 8.3l-8.3 -8.3z"/><path d="M1650.7 196.3l8.3 8.3l-8.3 8.3l-8.3 -8.3z"/><path d="M1657.6 193.1l8.3 8.3l-8.3 8.3l-8.3 -8.3z"/><path d="M1664.6 189.8l8.3 8.3l-8.3 8.3l-8.3 -8.3z"/><path d="M1671.6 186.1l8.3 8.3l-8.3 8.3l-8.3 -8.3z"/><path d="M1678.6 182.4l8.3 8.3l-8.3 8.3l-8.3 -8.3z"/><path d="M1685.6 179.3l8.3 8.3l-8.3 8.3l-8.3 -8.3z"/><path d="M1692.6 176.4l8.3 8.3l-8.3 8.3l-8.3 -8.3z"/><path d="M1699.6 173.6l8.3 8.3l-8.3 8.3l-8.3 -8.3z"/><path d="M1706.6 170.7l8.3 8.3l-8.3 8.3l-8.3 -8.3z"/><path d="M1713.6 168.1l8.3 8.3l-8.3 8.3l-8.3 -8.3z"/><path d="M1720.5 165.4l8.3 8.3l-8.3 8.3l-8.3 -8.3z"/><path d="M1727.5 162.9l8.3 8.3l-8.3 8.3l-8.3 -8.3z"/><path d="M1734.5 160.6l8.3 8.3l-8.3 8.3l-8.3 -8.3z"/><path d="M1741.5 158.4l8.3 8.3l-8.3 8.3l-8.3 -8.3z"/><path d="M1748.5 156.4l8.3 8.3l-8.3 8.3l-8.3 -8.3z"/><path d="M1755.5 154.5l8.3 8.3l-8.3 8.3l-8.3 -8.3z"/><path d="M1762.5 152.6l8.3 8.3l-8.3 8.3l-8.3 -8.3z"/><path d="M1769.5 150.6l8.3 8.3l-8.3 8.3l-8.3 -8.3z"/><path d="M1776.5 148.6l8.3 8.3l-8.3 8.3l-8.3 -8.3z"/><path d="M1783.4 146.6l8.3 8.3l-8.3 8.3l-8.3 -8.3z"/><path d="M1790.4 144.6l8.3 8.3l-8.3 8.3l-8.3 -8.3z"/><path d="M1797.4 142.6l8.3 8.3l-8.3 8.3l-8.3 -8.3z"/><path d="M1804.4 140.7l8.3 8.3l-8.3 8.3l-8.3 -8.3z"/><path d="M1811.4 138.8l8.3 8.3l-8.3 8.3l-8.3 -8.3z"/></g>
<g fill="#dc0000"><circle cx="1112.5" cy="600.4" r="8.5"/><circle cx="1119.5" cy="600.3" r="8.5"/><circle cx="1126.5" cy="600.1" r="8.5"/><circle cx="1133.5" cy="600.0" r="8.5"/><circle cx="1140.5" cy="599.8" r="8.5"/><circle cx="1147.4" cy="599.6" r="8.5"/><circle cx="1154.4" cy="599.4" r="8.5"/><circle cx="1161.4" cy="599.2" r="8.5"/><circle cx="1168.4" cy="599.0" r="8.5"/><circle cx="1175.4" cy="598.8" r="8.5"/><circle cx="1182.4" cy="598.6" r="8.5"/><circle cx="1189.4" cy="598.4" r="8.5"/><circle cx="1196.4" cy="598.1" r="8.5"/><circle cx="1203.4" cy="597.9" r="8.5"/><circle cx="1210.3" cy="597.6" r="8.5"/><circle cx="1217.3" cy="597.4" r="8.5"/><circle cx="1224.3" cy="597.1" r="8.5"/><circle cx="1231.3" cy="596.9" r="8.5"/><circle cx="1238.3" cy="596.6" r="8.5"/><circle cx="1245.3" cy="596.3" r="8.5"/><circle cx="1252.3" cy="596.0" r="8.5"/><circle cx="1259.3" cy="595.6" r="8.5"/><circle cx="1266.3" cy="595.3" r="8.5"/><circle cx="1273.2" cy="594.9" r="8.5"/><circle cx="1280.2" cy="594.5" r="8.5"/><circle cx="1287.2" cy="594.1" r="8.5"/><circle cx="1294.2" cy="593.6" r="8.5"/><circle cx="1301.2" cy="593.1" r="8.5"/><circle cx="1308.2" cy="592.5" r="8.5"/><circle cx="1315.2" cy="591.8" r="8.5"/><circle cx="1322.2" cy="591.1" r="8.5"/><circle cx="1329.2" cy="590.2" r="8.5"/><circle cx="1336.1" cy="589.2" r="8.5"/><circle cx="1343.1" cy="588.2" r="8.5"/><circle cx="1350.1" cy="587.2" r="8.5"/><circle cx="1357.1" cy="586.1" r="8.5"/><circle cx="1364.1" cy="585.0" r="8.5"/><circle cx="1371.1" cy="583.9" r="8.5"/><circle cx="1378.1" cy="582.8" r="8.5"/><circle cx="1385.1" cy="581.7" r="8.5"/><circle cx="1392.1" cy="580.6" r="8.5"/><circle cx="1399.0" cy="579.4" r="8.5"/><circle cx="1406.0" cy="578.1" r="8.5"/><circle cx="1413.0" cy="576.8" r="8.5"/><circle cx="1420.0" cy="575.2" r="8.5"/><circle cx="1427.0" cy="573.3" r="8.5"/><circle cx="1434.0" cy="571.1" r="8.5"/><circle cx="1441.0" cy="568.9" r="8.5"/><circle cx="1448.0" cy="566.9" r="8.5"/><circle cx="1455.0" cy="564.8" r="8.5"/><circle cx="1462.0" cy="562.6" r="8.5"/><circle cx="1468.9" cy="560.4" r="8.5"/><circle cx="1475.9" cy="557.9" r="8.5"/><circle cx="1482.9" cy="554.5" r="8.5"/><circle cx="1489.9" cy="549.9" r="8.5"/><circle cx="1496.9" cy="544.9" r="8.5"/><circle cx="1503.9" cy="540.0" r="8.5"/><circle cx="1510.9" cy="535.5" r="8.5"/><circle cx="1517.9" cy="531.3" r="8.5"/><circle cx="1524.9" cy="521.5" r="8.5"/><circle cx="1531.8" cy="504.5" r="8.5"/><circle cx="1538.8" cy="479.3" r="8.5"/><circle cx="1545.8" cy="447.4" r="8.5"/><circle cx="1552.8" cy="414.4" r="8.5"/><circle cx="1559.8" cy="381.2" r="8.5"/><circle cx="1566.8" cy="350.3" r="8.5"/><circle cx="1573.8" cy="325.1" r="8.5"/><circle cx="1580.8" cy="306.9" r="8.5"/><circle cx="1587.8" cy="286.3" r="8.5"/><circle cx="1594.7" cy="273.5" r="8.5"/><circle cx="1601.7" cy="261.7" r="8.5"/><circle cx="1608.7" cy="249.8" r="8.5"/><circle cx="1615.7" cy="242.0" r="8.5"/><circle cx="1622.7" cy="235.5" r="8.5"/><circle cx="1629.7" cy="228.9" r="8.5"/><circle cx="1636.7" cy="223.1" r="8.5"/><circle cx="1643.7" cy="218.0" r="8.5"/><circle cx="1650.7" cy="213.2" r="8.5"/><circle cx="1657.6" cy="208.8" r="8.5"/><circle cx="1664.6" cy="204.6" r="8.5"/><circle cx="1671.6" cy="200.7" r="8.5"/><circle cx="1678.6" cy="197.0" r="8.5"/><circle cx="1685.6" cy="193.3" r="8.5"/><circle cx="1692.6" cy="189.7" r="8.5"/><circle cx="1699.6" cy="186.1" r="8.5"/><circle cx="1706.6" cy="182.7" r="8.5"/><circle cx="1713.6" cy="179.5" r="8.5"/><circle cx="1720.5" cy="176.4" r="8.5"/><circle cx="1727.5" cy="173.6" r="8.5"/><circle cx="1734.5" cy="170.9" r="8.5"/><circle cx="1741.5" cy="168.5" r="8.5"/><circle cx="1748.5" cy="166.3" r="8.5"/><circle cx="1755.5" cy="164.3" r="8.5"/><circle cx="1762.5" cy="162.3" r="8.5"/><circle cx="1769.5" cy="160.2" r="8.5"/><circle cx="1776.5" cy="158.1" r="8.5"/><circle cx="1783.4" cy="156.0" r="8.5"/><circle cx="1790.4" cy="154.0" r="8.5"/><circle cx="1797.4" cy="151.9" r="8.5"/><circle cx="1804.4" cy="150.0" r="8.5"/><circle cx="1811.4" cy="148.0" r="8.5"/></g>
<g fill="#007f12"><path d="M1112.5 592.4l8.2 13.2h-16.4z"/><path d="M1119.5 592.4l8.2 13.2h-16.4z"/><path d="M1126.5 592.3l8.2 13.2h-16.4z"/><path d="M1133.5 592.2l8.2 13.2h-16.4z"/><path d="M1140.5 592.1l8.2 13.2h-16.4z"/><path d="M1147.4 591.9l8.2 13.2h-16.4z"/><path d="M1154.4 591.7l8.2 13.2h-16.4z"/><path d="M1161.4 591.4l8.2 13.2h-16.4z"/><path d="M1168.4 591.1l8.2 13.2h-16.4z"/><path d="M1175.4 590.7l8.2 13.2h-16.4z"/><path d="M1182.4 590.3l8.2 13.2h-16.4z"/><path d="M1189.4 589.9l8.2 13.2h-16.4z"/><path d="M1196.4 589.4l8.2 13.2h-16.4z"/><path d="M1203.4 588.8l8.2 13.2h-16.4z"/><path d="M1210.3 587.7l8.2 13.2h-16.4z"/><path d="M1217.3 586.0l8.2 13.2h-16.4z"/><path d="M1224.3 584.0l8.2 13.2h-16.4z"/><path d="M1231.3 581.9l8.2 13.2h-16.4z"/><path d="M1238.3 579.8l8.2 13.2h-16.4z"/><path d="M1245.3 577.4l8.2 13.2h-16.4z"/><path d="M1252.3 574.8l8.2 13.2h-16.4z"/><path d="M1259.3 572.1l8.2 13.2h-16.4z"/><path d="M1266.3 569.7l8.2 13.2h-16.4z"/><path d="M1273.2 567.7l8.2 13.2h-16.4z"/><path d="M1280.2 566.0l8.2 13.2h-16.4z"/><path d="M1287.2 564.2l8.2 13.2h-16.4z"/><path d="M1294.2 562.0l8.2 13.2h-16.4z"/><path d="M1301.2 559.4l8.2 13.2h-16.4z"/><path d="M1308.2 556.3l8.2 13.2h-16.4z"/><path d="M1315.2 553.6l8.2 13.2h-16.4z"/><path d="M1322.2 550.8l8.2 13.2h-16.4z"/><path d="M1329.2 547.7l8.2 13.2h-16.4z"/><path d="M1336.1 544.3l8.2 13.2h-16.4z"/><path d="M1343.1 540.0l8.2 13.2h-16.4z"/><path d="M1350.1 535.1l8.2 13.2h-16.4z"/><path d="M1357.1 530.2l8.2 13.2h-16.4z"/><path d="M1364.1 526.5l8.2 13.2h-16.4z"/><path d="M1371.1 523.7l8.2 13.2h-16.4z"/><path d="M1378.1 521.5l8.2 13.2h-16.4z"/><path d="M1385.1 519.1l8.2 13.2h-16.4z"/><path d="M1392.1 515.5l8.2 13.2h-16.4z"/><path d="M1399.0 510.3l8.2 13.2h-16.4z"/><path d="M1406.0 503.2l8.2 13.2h-16.4z"/><path d="M1413.0 495.0l8.2 13.2h-16.4z"/><path d="M1420.0 479.9l8.2 13.2h-16.4z"/><path d="M1427.0 462.6l8.2 13.2h-16.4z"/><path d="M1434.0 443.8l8.2 13.2h-16.4z"/><path d="M1441.0 422.0l8.2 13.2h-16.4z"/><path d="M1448.0 399.8l8.2 13.2h-16.4z"/><path d="M1455.0 377.7l8.2 13.2h-16.4z"/><path d="M1462.0 356.6l8.2 13.2h-16.4z"/><path d="M1468.9 337.1l8.2 13.2h-16.4z"/><path d="M1475.9 320.4l8.2 13.2h-16.4z"/><path d="M1482.9 305.0l8.2 13.2h-16.4z"/><path d="M1489.9 289.2l8.2 13.2h-16.4z"/><path d="M1496.9 278.0l8.2 13.2h-16.4z"/><path d="M1503.9 268.2l8.2 13.2h-16.4z"/><path d="M1510.9 259.3l8.2 13.2h-16.4z"/><path d="M1517.9 251.4l8.2 13.2h-16.4z"/><path d="M1524.9 243.9l8.2 13.2h-16.4z"/><path d="M1531.8 236.9l8.2 13.2h-16.4z"/><path d="M1538.8 230.3l8.2 13.2h-16.4z"/><path d="M1545.8 224.1l8.2 13.2h-16.4z"/><path d="M1552.8 218.8l8.2 13.2h-16.4z"/><path d="M1559.8 213.8l8.2 13.2h-16.4z"/><path d="M1566.8 209.2l8.2 13.2h-16.4z"/><path d="M1573.8 204.8l8.2 13.2h-16.4z"/><path d="M1580.8 200.8l8.2 13.2h-16.4z"/><path d="M1587.8 197.1l8.2 13.2h-16.4z"/><path d="M1594.7 193.9l8.2 13.2h-16.4z"/><path d="M1601.7 190.8l8.2 13.2h-16.4z"/><path d="M1608.7 187.4l8.2 13.2h-16.4z"/><path d="M1615.7 184.3l8.2 13.2h-16.4z"/><path d="M1622.7 181.6l8.2 13.2h-16.4z"/><path d="M1629.7 179.2l8.2 13.2h-16.4z"/><path d="M1636.7 176.7l8.2 13.2h-16.4z"/><path d="M1643.7 174.1l8.2 13.2h-16.4z"/><path d="M1650.7 171.6l8.2 13.2h-16.4z"/><path d="M1657.6 169.2l8.2 13.2h-16.4z"/><path d="M1664.6 167.1l8.2 13.2h-16.4z"/><path d="M1671.6 165.1l8.2 13.2h-16.4z"/><path d="M1678.6 163.2l8.2 13.2h-16.4z"/><path d="M1685.6 161.3l8.2 13.2h-16.4z"/><path d="M1692.6 159.4l8.2 13.2h-16.4z"/><path d="M1699.6 157.7l8.2 13.2h-16.4z"/><path d="M1706.6 156.0l8.2 13.2h-16.4z"/><path d="M1713.6 154.3l8.2 13.2h-16.4z"/><path d="M1720.5 152.6l8.2 13.2h-16.4z"/><path d="M1727.5 150.9l8.2 13.2h-16.4z"/><path d="M1734.5 149.2l8.2 13.2h-16.4z"/><path d="M1741.5 147.7l8.2 13.2h-16.4z"/><path d="M1748.5 146.3l8.2 13.2h-16.4z"/><path d="M1755.5 144.9l8.2 13.2h-16.4z"/><path d="M1762.5 143.6l8.2 13.2h-16.4z"/><path d="M1769.5 142.4l8.2 13.2h-16.4z"/><path d="M1776.5 141.2l8.2 13.2h-16.4z"/><path d="M1783.4 140.0l8.2 13.2h-16.4z"/><path d="M1790.4 139.0l8.2 13.2h-16.4z"/><path d="M1797.4 138.1l8.2 13.2h-16.4z"/><path d="M1804.4 137.3l8.2 13.2h-16.4z"/><path d="M1811.4 136.7l8.2 13.2h-16.4z"/></g>
<g fill="#007f12"><path d="M1112.5 592.4l8.2 13.2h-16.4z"/><path d="M1119.5 592.3l8.2 13.2h-16.4z"/><path d="M1126.5 592.2l8.2 13.2h-16.4z"/><path d="M1133.5 592.1l8.2 13.2h-16.4z"/><path d="M1140.5 592.0l8.2 13.2h-16.4z"/><path d="M1147.4 591.8l8.2 13.2h-16.4z"/><path d="M1154.4 591.7l8.2 13.2h-16.4z"/><path d="M1161.4 591.5l8.2 13.2h-16.4z"/><path d="M1168.4 591.3l8.2 13.2h-16.4z"/><path d="M1175.4 591.1l8.2 13.2h-16.4z"/><path d="M1182.4 590.9l8.2 13.2h-16.4z"/><path d="M1189.4 590.7l8.2 13.2h-16.4z"/><path d="M1196.4 590.5l8.2 13.2h-16.4z"/><path d="M1203.4 590.2l8.2 13.2h-16.4z"/><path d="M1210.3 590.0l8.2 13.2h-16.4z"/><path d="M1217.3 589.7l8.2 13.2h-16.4z"/><path d="M1224.3 589.4l8.2 13.2h-16.4z"/><path d="M1231.3 589.1l8.2 13.2h-16.4z"/><path d="M1238.3 588.8l8.2 13.2h-16.4z"/><path d="M1245.3 588.4l8.2 13.2h-16.4z"/><path d="M1252.3 588.0l8.2 13.2h-16.4z"/><path d="M1259.3 587.6l8.2 13.2h-16.4z"/><path d="M1266.3 587.2l8.2 13.2h-16.4z"/><path d="M1273.2 586.7l8.2 13.2h-16.4z"/><path d="M1280.2 586.3l8.2 13.2h-16.4z"/><path d="M1287.2 585.8l8.2 13.2h-16.4z"/><path d="M1294.2 585.2l8.2 13.2h-16.4z"/><path d="M1301.2 584.7l8.2 13.2h-16.4z"/><path d="M1308.2 584.1l8.2 13.2h-16.4z"/><path d="M1315.2 583.4l8.2 13.2h-16.4z"/><path d="M1322.2 582.6l8.2 13.2h-16.4z"/><path d="M1329.2 581.7l8.2 13.2h-16.4z"/><path d="M1336.1 580.7l8.2 13.2h-16.4z"/><path d="M1343.1 579.8l8.2 13.2h-16.4z"/><path d="M1350.1 578.7l8.2 13.2h-16.4z"/><path d="M1357.1 577.7l8.2 13.2h-16.4z"/><path d="M1364.1 576.6l8.2 13.2h-16.4z"/><path d="M1371.1 575.5l8.2 13.2h-16.4z"/><path d="M1378.1 574.4l8.2 13.2h-16.4z"/><path d="M1385.1 573.4l8.2 13.2h-16.4z"/><path d="M1392.1 572.4l8.2 13.2h-16.4z"/><path d="M1399.0 571.5l8.2 13.2h-16.4z"/><path d="M1406.0 570.5l8.2 13.2h-16.4z"/><path d="M1413.0 569.3l8.2 13.2h-16.4z"/><path d="M1420.0 567.2l8.2 13.2h-16.4z"/><path d="M1427.0 565.3l8.2 13.2h-16.4z"/><path d="M1434.0 562.8l8.2 13.2h-16.4z"/><path d="M1441.0 560.3l8.2 13.2h-16.4z"/><path d="M1448.0 557.3l8.2 13.2h-16.4z"/><path d="M1455.0 553.9l8.2 13.2h-16.4z"/><path d="M1462.0 550.4l8.2 13.2h-16.4z"/><path d="M1468.9 546.5l8.2 13.2h-16.4z"/><path d="M1475.9 541.5l8.2 13.2h-16.4z"/><path d="M1482.9 535.4l8.2 13.2h-16.4z"/><path d="M1489.9 527.8l8.2 13.2h-16.4z"/><path d="M1496.9 520.2l8.2 13.2h-16.4z"/><path d="M1503.9 509.3l8.2 13.2h-16.4z"/><path d="M1510.9 490.9l8.2 13.2h-16.4z"/><path d="M1517.9 466.4l8.2 13.2h-16.4z"/><path d="M1524.9 443.2l8.2 13.2h-16.4z"/><path d="M1531.8 414.9l8.2 13.2h-16.4z"/><path d="M1538.8 387.7l8.2 13.2h-16.4z"/><path d="M1545.8 358.5l8.2 13.2h-16.4z"/><path d="M1552.8 332.1l8.2 13.2h-16.4z"/><path d="M1559.8 310.9l8.2 13.2h-16.4z"/><path d="M1566.8 291.7l8.2 13.2h-16.4z"/><path d="M1573.8 275.0l8.2 13.2h-16.4z"/><path d="M1580.8 263.5l8.2 13.2h-16.4z"/><path d="M1587.8 250.0l8.2 13.2h-16.4z"/><path d="M1594.7 239.7l8.2 13.2h-16.4z"/><path d="M1601.7 232.7l8.2 13.2h-16.4z"/><path d="M1608.7 225.2l8.2 13.2h-16.4z"/><path d="M1615.7 220.0l8.2 13.2h-16.4z"/><path d="M1622.7 213.5l8.2 13.2h-16.4z"/><path d="M1629.7 208.8l8.2 13.2h-16.4z"/><path d="M1636.7 203.8l8.2 13.2h-16.4z"/><path d="M1643.7 199.3l8.2 13.2h-16.4z"/><path d="M1650.7 195.8l8.2 13.2h-16.4z"/><path d="M1657.6 192.6l8.2 13.2h-16.4z"/><path d="M1664.6 189.5l8.2 13.2h-16.4z"/><path d="M1671.6 185.7l8.2 13.2h-16.4z"/><path d="M1678.6 181.8l8.2 13.2h-16.4z"/><path d="M1685.6 178.6l8.2 13.2h-16.4z"/><path d="M1692.6 175.8l8.2 13.2h-16.4z"/><path d="M1699.6 173.2l8.2 13.2h-16.4z"/><path d="M1706.6 170.6l8.2 13.2h-16.4z"/><path d="M1713.6 168.1l8.2 13.2h-16.4z"/><path d="M1720.5 165.7l8.2 13.2h-16.4z"/><path d="M1727.5 163.4l8.2 13.2h-16.4z"/><path d="M1734.5 161.2l8.2 13.2h-16.4z"/><path d="M1741.5 159.1l8.2 13.2h-16.4z"/><path d="M1748.5 157.2l8.2 13.2h-16.4z"/><path d="M1755.5 155.3l8.2 13.2h-16.4z"/><path d="M1762.5 153.4l8.2 13.2h-16.4z"/><path d="M1769.5 151.5l8.2 13.2h-16.4z"/><path d="M1776.5 149.5l8.2 13.2h-16.4z"/><path d="M1783.4 147.6l8.2 13.2h-16.4z"/><path d="M1790.4 145.6l8.2 13.2h-16.4z"/><path d="M1797.4 143.7l8.2 13.2h-16.4z"/><path d="M1804.4 141.8l8.2 13.2h-16.4z"/><path d="M1811.4 139.9l8.2 13.2h-16.4z"/></g>
<g fill="#ff8c1e"><path d="M1104.3 589.9h16.4l-8.2 13.2z"/><path d="M1111.3 589.9h16.4l-8.2 13.2z"/><path d="M1118.3 589.8h16.4l-8.2 13.2z"/><path d="M1125.3 589.6h16.4l-8.2 13.2z"/><path d="M1132.3 589.4h16.4l-8.2 13.2z"/><path d="M1139.2 589.1h16.4l-8.2 13.2z"/><path d="M1146.2 588.8h16.4l-8.2 13.2z"/><path d="M1153.2 588.4h16.4l-8.2 13.2z"/><path d="M1160.2 588.0h16.4l-8.2 13.2z"/><path d="M1167.2 587.5h16.4l-8.2 13.2z"/><path d="M1174.2 586.9h16.4l-8.2 13.2z"/><path d="M1181.2 586.4h16.4l-8.2 13.2z"/><path d="M1188.2 585.7h16.4l-8.2 13.2z"/><path d="M1195.2 585.0h16.4l-8.2 13.2z"/><path d="M1202.1 583.6h16.4l-8.2 13.2z"/><path d="M1209.1 581.6h16.4l-8.2 13.2z"/><path d="M1216.1 579.6h16.4l-8.2 13.2z"/><path d="M1223.1 577.7h16.4l-8.2 13.2z"/><path d="M1230.1 575.7h16.4l-8.2 13.2z"/><path d="M1237.1 573.7h16.4l-8.2 13.2z"/><path d="M1244.1 572.1h16.4l-8.2 13.2z"/><path d="M1251.1 570.7h16.4l-8.2 13.2z"/><path d="M1258.1 569.3h16.4l-8.2 13.2z"/><path d="M1265.0 567.7h16.4l-8.2 13.2z"/><path d="M1272.0 566.0h16.4l-8.2 13.2z"/><path d="M1279.0 563.9h16.4l-8.2 13.2z"/><path d="M1286.0 561.2h16.4l-8.2 13.2z"/><path d="M1293.0 557.5h16.4l-8.2 13.2z"/><path d="M1300.0 552.8h16.4l-8.2 13.2z"/><path d="M1307.0 549.8h16.4l-8.2 13.2z"/><path d="M1314.0 547.0h16.4l-8.2 13.2z"/><path d="M1321.0 543.8h16.4l-8.2 13.2z"/><path d="M1327.9 539.9h16.4l-8.2 13.2z"/><path d="M1334.9 533.7h16.4l-8.2 13.2z"/><path d="M1341.9 525.4h16.4l-8.2 13.2z"/><path d="M1348.9 517.2h16.4l-8.2 13.2z"/><path d="M1355.9 511.3h16.4l-8.2 13.2z"/><path d="M1362.9 506.7h16.4l-8.2 13.2z"/><path d="M1369.9 502.6h16.4l-8.2 13.2z"/><path d="M1376.9 498.0h16.4l-8.2 13.2z"/><path d="M1383.9 490.9h16.4l-8.2 13.2z"/><path d="M1390.8 481.7h16.4l-8.2 13.2z"/><path d="M1397.8 475.0h16.4l-8.2 13.2z"/><path d="M1404.8 468.9h16.4l-8.2 13.2z"/><path d="M1411.8 454.6h16.4l-8.2 13.2z"/><path d="M1418.8 439.9h16.4l-8.2 13.2z"/><path d="M1425.8 422.4h16.4l-8.2 13.2z"/><path d="M1432.8 402.9h16.4l-8.2 13.2z"/><path d="M1439.8 382.0h16.4l-8.2 13.2z"/><path d="M1446.8 362.5h16.4l-8.2 13.2z"/><path d="M1453.8 343.5h16.4l-8.2 13.2z"/><path d="M1460.7 327.3h16.4l-8.2 13.2z"/><path d="M1467.7 310.8h16.4l-8.2 13.2z"/><path d="M1474.7 296.9h16.4l-8.2 13.2z"/><path d="M1481.7 282.4h16.4l-8.2 13.2z"/><path d="M1488.7 270.8h16.4l-8.2 13.2z"/><path d="M1495.7 261.0h16.4l-8.2 13.2z"/><path d="M1502.7 253.3h16.4l-8.2 13.2z"/><path d="M1509.7 246.5h16.4l-8.2 13.2z"/><path d="M1516.7 239.8h16.4l-8.2 13.2z"/><path d="M1523.6 233.3h16.4l-8.2 13.2z"/><path d="M1530.6 227.2h16.4l-8.2 13.2z"/><path d="M1537.6 221.5h16.4l-8.2 13.2z"/><path d="M1544.6 216.5h16.4l-8.2 13.2z"/><path d="M1551.6 211.9h16.4l-8.2 13.2z"/><path d="M1558.6 207.4h16.4l-8.2 13.2z"/><path d="M1565.6 203.0h16.4l-8.2 13.2z"/><path d="M1572.6 198.9h16.4l-8.2 13.2z"/><path d="M1579.6 195.0h16.4l-8.2 13.2z"/><path d="M1586.5 191.7h16.4l-8.2 13.2z"/><path d="M1593.5 188.5h16.4l-8.2 13.2z"/><path d="M1600.5 184.9h16.4l-8.2 13.2z"/><path d="M1607.5 181.5h16.4l-8.2 13.2z"/><path d="M1614.5 179.1h16.4l-8.2 13.2z"/><path d="M1621.5 177.1h16.4l-8.2 13.2z"/><path d="M1628.5 174.7h16.4l-8.2 13.2z"/><path d="M1635.5 172.2h16.4l-8.2 13.2z"/><path d="M1642.5 169.7h16.4l-8.2 13.2z"/><path d="M1649.4 167.3h16.4l-8.2 13.2z"/><path d="M1656.4 165.4h16.4l-8.2 13.2z"/><path d="M1663.4 163.6h16.4l-8.2 13.2z"/><path d="M1670.4 162.0h16.4l-8.2 13.2z"/><path d="M1677.4 160.3h16.4l-8.2 13.2z"/><path d="M1684.4 158.5h16.4l-8.2 13.2z"/><path d="M1691.4 156.8h16.4l-8.2 13.2z"/><path d="M1698.4 155.1h16.4l-8.2 13.2z"/><path d="M1705.4 153.3h16.4l-8.2 13.2z"/><path d="M1712.3 151.3h16.4l-8.2 13.2z"/><path d="M1719.3 149.3h16.4l-8.2 13.2z"/><path d="M1726.3 147.3h16.4l-8.2 13.2z"/><path d="M1733.3 145.6h16.4l-8.2 13.2z"/><path d="M1740.3 143.9h16.4l-8.2 13.2z"/><path d="M1747.3 142.4h16.4l-8.2 13.2z"/><path d="M1754.3 140.9h16.4l-8.2 13.2z"/><path d="M1761.3 139.5h16.4l-8.2 13.2z"/><path d="M1768.3 138.2h16.4l-8.2 13.2z"/><path d="M1775.2 137.0h16.4l-8.2 13.2z"/><path d="M1782.2 136.0h16.4l-8.2 13.2z"/><path d="M1789.2 135.1h16.4l-8.2 13.2z"/><path d="M1796.2 134.4h16.4l-8.2 13.2z"/><path d="M1803.2 133.9h16.4l-8.2 13.2z"/></g>
<g fill="#ff8c1e"><path d="M1104.3 589.9h16.4l-8.2 13.2z"/><path d="M1111.3 589.9h16.4l-8.2 13.2z"/><path d="M1118.3 589.8h16.4l-8.2 13.2z"/><path d="M1125.3 589.8h16.4l-8.2 13.2z"/><path d="M1132.3 589.7h16.4l-8.2 13.2z"/><path d="M1139.2 589.6h16.4l-8.2 13.2z"/><path d="M1146.2 589.5h16.4l-8.2 13.2z"/><path d="M1153.2 589.3h16.4l-8.2 13.2z"/><path d="M1160.2 589.2h16.4l-8.2 13.2z"/><path d="M1167.2 589.0h16.4l-8.2 13.2z"/><path d="M1174.2 588.9h16.4l-8.2 13.2z"/><path d="M1181.2 588.7h16.4l-8.2 13.2z"/><path d="M1188.2 588.5h16.4l-8.2 13.2z"/><path d="M1195.2 588.3h16.4l-8.2 13.2z"/><path d="M1202.1 588.1h16.4l-8.2 13.2z"/><path d="M1209.1 587.8h16.4l-8.2 13.2z"/><path d="M1216.1 587.4h16.4l-8.2 13.2z"/><path d="M1223.1 587.0h16.4l-8.2 13.2z"/><path d="M1230.1 586.6h16.4l-8.2 13.2z"/><path d="M1237.1 586.1h16.4l-8.2 13.2z"/><path d="M1244.1 585.6h16.4l-8.2 13.2z"/><path d="M1251.1 585.0h16.4l-8.2 13.2z"/><path d="M1258.1 584.4h16.4l-8.2 13.2z"/><path d="M1265.0 583.8h16.4l-8.2 13.2z"/><path d="M1272.0 583.2h16.4l-8.2 13.2z"/><path d="M1279.0 582.6h16.4l-8.2 13.2z"/><path d="M1286.0 581.9h16.4l-8.2 13.2z"/><path d="M1293.0 581.3h16.4l-8.2 13.2z"/><path d="M1300.0 580.6h16.4l-8.2 13.2z"/><path d="M1307.0 579.9h16.4l-8.2 13.2z"/><path d="M1314.0 579.0h16.4l-8.2 13.2z"/><path d="M1321.0 578.2h16.4l-8.2 13.2z"/><path d="M1327.9 577.2h16.4l-8.2 13.2z"/><path d="M1334.9 576.3h16.4l-8.2 13.2z"/><path d="M1341.9 575.3h16.4l-8.2 13.2z"/><path d="M1348.9 574.3h16.4l-8.2 13.2z"/><path d="M1355.9 573.3h16.4l-8.2 13.2z"/><path d="M1362.9 572.2h16.4l-8.2 13.2z"/><path d="M1369.9 571.2h16.4l-8.2 13.2z"/><path d="M1376.9 570.3h16.4l-8.2 13.2z"/><path d="M1383.9 569.5h16.4l-8.2 13.2z"/><path d="M1390.8 569.0h16.4l-8.2 13.2z"/><path d="M1397.8 568.5h16.4l-8.2 13.2z"/><path d="M1404.8 567.6h16.4l-8.2 13.2z"/><path d="M1411.8 564.7h16.4l-8.2 13.2z"/><path d="M1418.8 562.7h16.4l-8.2 13.2z"/><path d="M1425.8 559.7h16.4l-8.2 13.2z"/><path d="M1432.8 556.7h16.4l-8.2 13.2z"/><path d="M1439.8 551.8h16.4l-8.2 13.2z"/><path d="M1446.8 545.9h16.4l-8.2 13.2z"/><path d="M1453.8 539.9h16.4l-8.2 13.2z"/><path d="M1460.7 533.1h16.4l-8.2 13.2z"/><path d="M1467.7 526.2h16.4l-8.2 13.2z"/><path d="M1474.7 519.2h16.4l-8.2 13.2z"/><path d="M1481.7 511.2h16.4l-8.2 13.2z"/><path d="M1488.7 504.1h16.4l-8.2 13.2z"/><path d="M1495.7 494.9h16.4l-8.2 13.2z"/><path d="M1502.7 479.4h16.4l-8.2 13.2z"/><path d="M1509.7 456.0h16.4l-8.2 13.2z"/><path d="M1516.7 430.6h16.4l-8.2 13.2z"/><path d="M1523.6 400.3h16.4l-8.2 13.2z"/><path d="M1530.6 372.7h16.4l-8.2 13.2z"/><path d="M1537.6 344.0h16.4l-8.2 13.2z"/><path d="M1544.6 318.8h16.4l-8.2 13.2z"/><path d="M1551.6 299.6h16.4l-8.2 13.2z"/><path d="M1558.6 282.5h16.4l-8.2 13.2z"/><path d="M1565.6 267.3h16.4l-8.2 13.2z"/><path d="M1572.6 257.0h16.4l-8.2 13.2z"/><path d="M1579.6 244.8h16.4l-8.2 13.2z"/><path d="M1586.5 234.9h16.4l-8.2 13.2z"/><path d="M1593.5 228.6h16.4l-8.2 13.2z"/><path d="M1600.5 221.5h16.4l-8.2 13.2z"/><path d="M1607.5 216.4h16.4l-8.2 13.2z"/><path d="M1614.5 209.4h16.4l-8.2 13.2z"/><path d="M1621.5 204.9h16.4l-8.2 13.2z"/><path d="M1628.5 199.8h16.4l-8.2 13.2z"/><path d="M1635.5 195.1h16.4l-8.2 13.2z"/><path d="M1642.5 191.6h16.4l-8.2 13.2z"/><path d="M1649.4 188.6h16.4l-8.2 13.2z"/><path d="M1656.4 185.6h16.4l-8.2 13.2z"/><path d="M1663.4 181.5h16.4l-8.2 13.2z"/><path d="M1670.4 177.2h16.4l-8.2 13.2z"/><path d="M1677.4 174.0h16.4l-8.2 13.2z"/><path d="M1684.4 171.3h16.4l-8.2 13.2z"/><path d="M1691.4 169.0h16.4l-8.2 13.2z"/><path d="M1698.4 166.9h16.4l-8.2 13.2z"/><path d="M1705.4 164.9h16.4l-8.2 13.2z"/><path d="M1712.3 162.8h16.4l-8.2 13.2z"/><path d="M1719.3 160.8h16.4l-8.2 13.2z"/><path d="M1726.3 158.9h16.4l-8.2 13.2z"/><path d="M1733.3 157.0h16.4l-8.2 13.2z"/><path d="M1740.3 155.2h16.4l-8.2 13.2z"/><path d="M1747.3 153.4h16.4l-8.2 13.2z"/><path d="M1754.3 151.6h16.4l-8.2 13.2z"/><path d="M1761.3 149.7h16.4l-8.2 13.2z"/><path d="M1768.3 147.8h16.4l-8.2 13.2z"/><path d="M1775.2 145.9h16.4l-8.2 13.2z"/><path d="M1782.2 144.0h16.4l-8.2 13.2z"/><path d="M1789.2 142.2h16.4l-8.2 13.2z"/><path d="M1796.2 140.3h16.4l-8.2 13.2z"/><path d="M1803.2 138.4h16.4l-8.2 13.2z"/></g>
<g fill="#dc0000"><circle cx="180.7" cy="1568.3" r="8.5"/><circle cx="187.6" cy="1568.2" r="8.5"/><circle cx="194.6" cy="1567.9" r="8.5"/><circle cx="201.5" cy="1567.5" r="8.5"/><circle cx="208.4" cy="1567.0" r="8.5"/><circle cx="215.3" cy="1566.4" r="8.5"/><circle cx="222.3" cy="1565.8" r="8.5"/><circle cx="229.2" cy="1564.7" r="8.5"/><circle cx="236.1" cy="1563.2" r="8.5"/><circle cx="243.1" cy="1561.5" r="8.5"/><circle cx="250.0" cy="1559.5" r="8.5"/><circle cx="256.9" cy="1556.8" r="8.5"/><circle cx="263.8" cy="1553.9" r="8.5"/><circle cx="270.8" cy="1551.3" r="8.5"/><circle cx="277.7" cy="1548.6" r="8.5"/><circle cx="284.6" cy="1546.1" r="8.5"/><circle cx="291.5" cy="1544.4" r="8.5"/><circle cx="298.5" cy="1543.2" r="8.5"/><circle cx="305.4" cy="1542.3" r="8.5"/><circle cx="312.3" cy="1541.4" r="8.5"/><circle cx="319.3" cy="1540.3" r="8.5"/><circle cx="326.2" cy="1539.2" r="8.5"/><circle cx="333.1" cy="1538.2" r="8.5"/><circle cx="340.0" cy="1537.3" r="8.5"/><circle cx="347.0" cy="1536.4" r="8.5"/><circle cx="353.9" cy="1535.5" r="8.5"/><circle cx="360.8" cy="1534.8" r="8.5"/><circle cx="367.8" cy="1534.2" r="8.5"/><circle cx="374.7" cy="1533.6" r="8.5"/><circle cx="381.6" cy="1533.0" r="8.5"/><circle cx="388.5" cy="1532.4" r="8.5"/><circle cx="395.5" cy="1531.8" r="8.5"/><circle cx="402.4" cy="1531.2" r="8.5"/><circle cx="409.3" cy="1530.5" r="8.5"/><circle cx="416.3" cy="1529.7" r="8.5"/><circle cx="423.2" cy="1528.9" r="8.5"/><circle cx="430.1" cy="1528.0" r="8.5"/><circle cx="437.0" cy="1527.0" r="8.5"/><circle cx="444.0" cy="1525.9" r="8.5"/><circle cx="450.9" cy="1524.7" r="8.5"/><circle cx="457.8" cy="1523.4" r="8.5"/><circle cx="464.7" cy="1521.9" r="8.5"/><circle cx="471.7" cy="1520.2" r="8.5"/><circle cx="478.6" cy="1518.1" r="8.5"/><circle cx="485.5" cy="1515.8" r="8.5"/><circle cx="492.5" cy="1512.9" r="8.5"/><circle cx="499.4" cy="1509.4" r="8.5"/><circle cx="506.3" cy="1505.7" r="8.5"/><circle cx="513.2" cy="1501.0" r="8.5"/><circle cx="520.2" cy="1493.3" r="8.5"/><circle cx="527.1" cy="1477.5" r="8.5"/><circle cx="534.0" cy="1458.2" r="8.5"/><circle cx="541.0" cy="1435.8" r="8.5"/><circle cx="547.9" cy="1407.5" r="8.5"/><circle cx="554.8" cy="1373.8" r="8.5"/><circle cx="561.7" cy="1345.4" r="8.5"/><circle cx="568.7" cy="1317.0" r="8.5"/><circle cx="575.6" cy="1293.0" r="8.5"/><circle cx="582.5" cy="1273.8" r="8.5"/><circle cx="589.5" cy="1256.6" r="8.5"/><circle cx="596.4" cy="1247.6" r="8.5"/><circle cx="603.3" cy="1235.3" r="8.5"/><circle cx="610.2" cy="1223.2" r="8.5"/><circle cx="617.2" cy="1214.0" r="8.5"/><circle cx="624.1" cy="1206.2" r="8.5"/><circle cx="631.0" cy="1199.3" r="8.5"/><circle cx="637.9" cy="1192.4" r="8.5"/><circle cx="644.9" cy="1185.8" r="8.5"/><circle cx="651.8" cy="1179.8" r="8.5"/><circle cx="658.7" cy="1174.7" r="8.5"/><circle cx="665.7" cy="1170.3" r="8.5"/><circle cx="672.6" cy="1166.3" r="8.5"/><circle cx="679.5" cy="1162.6" r="8.5"/><circle cx="686.4" cy="1158.8" r="8.5"/><circle cx="693.4" cy="1155.3" r="8.5"/><circle cx="700.3" cy="1152.3" r="8.5"/><circle cx="707.2" cy="1149.8" r="8.5"/><circle cx="714.2" cy="1147.5" r="8.5"/><circle cx="721.1" cy="1145.5" r="8.5"/><circle cx="728.0" cy="1143.5" r="8.5"/><circle cx="734.9" cy="1141.7" r="8.5"/><circle cx="741.9" cy="1139.8" r="8.5"/><circle cx="748.8" cy="1137.9" r="8.5"/><circle cx="755.7" cy="1136.1" r="8.5"/><circle cx="762.7" cy="1134.3" r="8.5"/><circle cx="769.6" cy="1132.6" r="8.5"/><circle cx="776.5" cy="1131.0" r="8.5"/><circle cx="783.4" cy="1129.4" r="8.5"/><circle cx="790.4" cy="1127.8" r="8.5"/><circle cx="797.3" cy="1126.3" r="8.5"/><circle cx="804.2" cy="1124.9" r="8.5"/><circle cx="811.1" cy="1123.5" r="8.5"/><circle cx="818.1" cy="1122.1" r="8.5"/><circle cx="825.0" cy="1120.8" r="8.5"/><circle cx="831.9" cy="1119.5" r="8.5"/><circle cx="838.9" cy="1118.3" r="8.5"/><circle cx="845.8" cy="1117.2" r="8.5"/><circle cx="852.7" cy="1116.1" r="8.5"/><circle cx="859.6" cy="1115.0" r="8.5"/><circle cx="866.6" cy="1114.0" r="8.5"/><circle cx="873.5" cy="1113.0" r="8.5"/></g>
<g fill="#dc0000"><circle cx="180.7" cy="1568.3" r="8.5"/><circle cx="187.6" cy="1568.2" r="8.5"/><circle cx="194.6" cy="1568.1" r="8.5"/><circle cx="201.5" cy="1568.0" r="8.5"/><circle cx="208.4" cy="1567.8" r="8.5"/><circle cx="215.3" cy="1567.7" r="8.5"/><circle cx="222.3" cy="1567.5" r="8.5"/><circle cx="229.2" cy="1567.4" r="8.5"/><circle cx="236.1" cy="1567.2" r="8.5"/><circle cx="243.1" cy="1567.0" r="8.5"/><circle cx="250.0" cy="1566.7" r="8.5"/><circle cx="256.9" cy="1566.5" r="8.5"/><circle cx="263.8" cy="1566.2" r="8.5"/><circle cx="270.8" cy="1565.9" r="8.5"/><circle cx="277.7" cy="1565.6" r="8.5"/><circle cx="284.6" cy="1565.3" r="8.5"/><circle cx="291.5" cy="1564.9" r="8.5"/><circle cx="298.5" cy="1564.5" r="8.5"/><circle cx="305.4" cy="1564.0" r="8.5"/><circle cx="312.3" cy="1563.5" r="8.5"/><circle cx="319.3" cy="1563.0" r="8.5"/><circle cx="326.2" cy="1562.4" r="8.5"/><circle cx="333.1" cy="1561.8" r="8.5"/><circle cx="340.0" cy="1561.1" r="8.5"/><circle cx="347.0" cy="1560.4" r="8.5"/><circle cx="353.9" cy="1559.6" r="8.5"/><circle cx="360.8" cy="1558.7" r="8.5"/><circle cx="367.8" cy="1557.7" r="8.5"/><circle cx="374.7" cy="1556.7" r="8.5"/><circle cx="381.6" cy="1555.6" r="8.5"/><circle cx="388.5" cy="1554.5" r="8.5"/><circle cx="395.5" cy="1553.2" r="8.5"/><circle cx="402.4" cy="1552.0" r="8.5"/><circle cx="409.3" cy="1550.8" r="8.5"/><circle cx="416.3" cy="1549.7" r="8.5"/><circle cx="423.2" cy="1548.6" r="8.5"/><circle cx="430.1" cy="1547.6" r="8.5"/><circle cx="437.0" cy="1546.6" r="8.5"/><circle cx="444.0" cy="1545.7" r="8.5"/><circle cx="450.9" cy="1544.7" r="8.5"/><circle cx="457.8" cy="1543.8" r="8.5"/><circle cx="464.7" cy="1542.9" r="8.5"/><circle cx="471.7" cy="1542.1" r="8.5"/><circle cx="478.6" cy="1541.3" r="8.5"/><circle cx="485.5" cy="1540.5" r="8.5"/><circle cx="492.5" cy="1539.7" r="8.5"/><circle cx="499.4" cy="1538.7" r="8.5"/><circle cx="506.3" cy="1537.6" r="8.5"/><circle cx="513.2" cy="1536.5" r="8.5"/><circle cx="520.2" cy="1535.2" r="8.5"/><circle cx="527.1" cy="1533.7" r="8.5"/><circle cx="534.0" cy="1532.0" r="8.5"/><circle cx="541.0" cy="1529.7" r="8.5"/><circle cx="547.9" cy="1526.7" r="8.5"/><circle cx="554.8" cy="1523.1" r="8.5"/><circle cx="561.7" cy="1518.8" r="8.5"/><circle cx="568.7" cy="1512.1" r="8.5"/><circle cx="575.6" cy="1496.8" r="8.5"/><circle cx="582.5" cy="1474.2" r="8.5"/><circle cx="589.5" cy="1448.2" r="8.5"/><circle cx="596.4" cy="1412.2" r="8.5"/><circle cx="603.3" cy="1374.4" r="8.5"/><circle cx="610.2" cy="1335.5" r="8.5"/><circle cx="617.2" cy="1304.5" r="8.5"/><circle cx="624.1" cy="1279.7" r="8.5"/><circle cx="631.0" cy="1257.8" r="8.5"/><circle cx="637.9" cy="1244.2" r="8.5"/><circle cx="644.9" cy="1229.4" r="8.5"/><circle cx="651.8" cy="1217.7" r="8.5"/><circle cx="658.7" cy="1208.0" r="8.5"/><circle cx="665.7" cy="1199.9" r="8.5"/><circle cx="672.6" cy="1192.6" r="8.5"/><circle cx="679.5" cy="1186.3" r="8.5"/><circle cx="686.4" cy="1181.0" r="8.5"/><circle cx="693.4" cy="1176.2" r="8.5"/><circle cx="700.3" cy="1172.0" r="8.5"/><circle cx="707.2" cy="1168.2" r="8.5"/><circle cx="714.2" cy="1164.8" r="8.5"/><circle cx="721.1" cy="1161.6" r="8.5"/><circle cx="728.0" cy="1158.6" r="8.5"/><circle cx="734.9" cy="1155.8" r="8.5"/><circle cx="741.9" cy="1153.2" r="8.5"/><circle cx="748.8" cy="1150.6" r="8.5"/><circle cx="755.7" cy="1148.0" r="8.5"/><circle cx="762.7" cy="1145.4" r="8.5"/><circle cx="769.6" cy="1143.0" r="8.5"/><circle cx="776.5" cy="1140.6" r="8.5"/><circle cx="783.4" cy="1138.4" r="8.5"/><circle cx="790.4" cy="1136.3" r="8.5"/><circle cx="797.3" cy="1134.4" r="8.5"/><circle cx="804.2" cy="1132.6" r="8.5"/><circle cx="811.1" cy="1130.9" r="8.5"/><circle cx="818.1" cy="1129.3" r="8.5"/><circle cx="825.0" cy="1127.7" r="8.5"/><circle cx="831.9" cy="1126.1" r="8.5"/><circle cx="838.9" cy="1124.6" r="8.5"/><circle cx="845.8" cy="1123.1" r="8.5"/><circle cx="852.7" cy="1121.6" r="8.5"/><circle cx="859.6" cy="1120.1" r="8.5"/><circle cx="866.6" cy="1118.7" r="8.5"/><circle cx="873.5" cy="1117.4" r="8.5"/></g>
<g fill="#0000d2"><path d="M180.7 1560.0l8.3 8.3l-8.3 8.3l-8.3 -8.3z"/><path d="M187.6 1559.9l8.3 8.3l-8.3 8.3l-8.3 -8.3z"/><path d="M194.6 1559.6l8.3 8.3l-8.3 8.3l-8.3 -8.3z"/><path d="M201.5 1559.2l8.3 8.3l-8.3 8.3l-8.3 -8.3z"/><path d="M208.4 1558.7l8.3 8.3l-8.3 8.3l-8.3 -8.3z"/><path d="M215.3 1558.1l8.3 8.3l-8.3 8.3l-8.3 -8.3z"/><path d="M222.3 1557.5l8.3 8.3l-8.3 8.3l-8.3 -8.3z"/><path d="M229.2 1556.4l8.3 8.3l-8.3 8.3l-8.3 -8.3z"/><path d="M236.1 1554.9l8.3 8.3l-8.3 8.3l-8.3 -8.3z"/><path d="M243.1 1553.2l8.3 8.3l-8.3 8.3l-8.3 -8.3z"/><path d="M250.0 1551.2l8.3 8.3l-8.3 8.3l-8.3 -8.3z"/><path d="M256.9 1548.5l8.3 8.3l-8.3 8.3l-8.3 -8.3z"/><path d="M263.8 1545.6l8.3 8.3l-8.3 8.3l-8.3 -8.3z"/><path d="M270.8 1543.0l8.3 8.3l-8.3 8.3l-8.3 -8.3z"/><path d="M277.7 1540.3l8.3 8.3l-8.3 8.3l-8.3 -8.3z"/><path d="M284.6 1537.8l8.3 8.3l-8.3 8.3l-8.3 -8.3z"/><path d="M291.5 1536.1l8.3 8.3l-8.3 8.3l-8.3 -8.3z"/><path d="M298.5 1534.9l8.3 8.3l-8.3 8.3l-8.3 -8.3z"/><path d="M305.4 1533.9l8.3 8.3l-8.3 8.3l-8.3 -8.3z"/><path d="M312.3 1532.7l8.3 8.3l-8.3 8.3l-8.3 -8.3z"/><path d="M319.3 1531.5l8.3 8.3l-8.3 8.3l-8.3 -8.3z"/><path d="M326.2 1530.2l8.3 8.3l-8.3 8.3l-8.3 -8.3z"/><path d="M333.1 1529.0l8.3 8.3l-8.3 8.3l-8.3 -8.3z"/><path d="M340.0 1527.8l8.3 8.3l-8.3 8.3l-8.3 -8.3z"/><path d="M347.0 1526.7l8.3 8.3l-8.3 8.3l-8.3 -8.3z"/><path d="M353.9 1525.6l8.3 8.3l-8.3 8.3l-8.3 -8.3z"/><path d="M360.8 1524.7l8.3 8.3l-8.3 8.3l-8.3 -8.3z"/><path d="M367.8 1523.8l8.3 8.3l-8.3 8.3l-8.3 -8.3z"/><path d="M374.7 1522.9l8.3 8.3l-8.3 8.3l-8.3 -8.3z"/><path d="M381.6 1522.1l8.3 8.3l-8.3 8.3l-8.3 -8.3z"/><path d="M388.5 1521.4l8.3 8.3l-8.3 8.3l-8.3 -8.3z"/><path d="M395.5 1520.7l8.3 8.3l-8.3 8.3l-8.3 -8.3z"/><path d="M402.4 1520.0l8.3 8.3l-8.3 8.3l-8.3 -8.3z"/><path d="M409.3 1519.2l8.3 8.3l-8.3 8.3l-8.3 -8.3z"/><path d="M416.3 1518.3l8.3 8.3l-8.3 8.3l-8.3 -8.3z"/><path d="M423.2 1517.4l8.3 8.3l-8.3 8.3l-8.3 -8.3z"/><path d="M430.1 1516.4l8.3 8.3l-8.3 8.3l-8.3 -8.3z"/><path d="M437.0 1515.3l8.3 8.3l-8.3 8.3l-8.3 -8.3z"/><path d="M444.0 1514.2l8.3 8.3l-8.3 8.3l-8.3 -8.3z"/><path d="M450.9 1512.9l8.3 8.3l-8.3 8.3l-8.3 -8.3z"/><path d="M457.8 1511.6l8.3 8.3l-8.3 8.3l-8.3 -8.3z"/><path d="M464.7 1510.1l8.3 8.3l-8.3 8.3l-8.3 -8.3z"/><path d="M471.7 1508.3l8.3 8.3l-8.3 8.3l-8.3 -8.3z"/><path d="M478.6 1506.3l8.3 8.3l-8.3 8.3l-8.3 -8.3z"/><path d="M485.5 1504.0l8.3 8.3l-8.3 8.3l-8.3 -8.3z"/><path d="M492.5 1501.2l8.3 8.3l-8.3 8.3l-8.3 -8.3z"/><path d="M499.4 1498.0l8.3 8.3l-8.3 8.3l-8.3 -8.3z"/><path d="M506.3 1494.2l8.3 8.3l-8.3 8.3l-8.3 -8.3z"/><path d="M513.2 1488.3l8.3 8.3l-8.3 8.3l-8.3 -8.3z"/><path d="M520.2 1479.5l8.3 8.3l-8.3 8.3l-8.3 -8.3z"/><path d="M527.1 1464.3l8.3 8.3l-8.3 8.3l-8.3 -8.3z"/><path d="M534.0 1444.7l8.3 8.3l-8.3 8.3l-8.3 -8.3z"/><path d="M541.0 1421.9l8.3 8.3l-8.3 8.3l-8.3 -8.3z"/><path d="M547.9 1394.0l8.3 8.3l-8.3 8.3l-8.3 -8.3z"/><path d="M554.8 1360.5l8.3 8.3l-8.3 8.3l-8.3 -8.3z"/><path d="M561.7 1332.6l8.3 8.3l-8.3 8.3l-8.3 -8.3z"/><path d="M568.7 1305.1l8.3 8.3l-8.3 8.3l-8.3 -8.3z"/><path d="M575.6 1281.8l8.3 8.3l-8.3 8.3l-8.3 -8.3z"/><path d="M582.5 1262.7l8.3 8.3l-8.3 8.3l-8.3 -8.3z"/><path d="M589.5 1246.3l8.3 8.3l-8.3 8.3l-8.3 -8.3z"/><path d="M596.4 1237.2l8.3 8.3l-8.3 8.3l-8.3 -8.3z"/><path d="M603.3 1224.7l8.3 8.3l-8.3 8.3l-8.3 -8.3z"/><path d="M610.2 1212.6l8.3 8.3l-8.3 8.3l-8.3 -8.3z"/><path d="M617.2 1203.3l8.3 8.3l-8.3 8.3l-8.3 -8.3z"/><path d="M624.1 1195.5l8.3 8.3l-8.3 8.3l-8.3 -8.3z"/><path d="M631.0 1188.5l8.3 8.3l-8.3 8.3l-8.3 -8.3z"/><path d="M637.9 1181.6l8.3 8.3l-8.3 8.3l-8.3 -8.3z"/><path d="M644.9 1175.1l8.3 8.3l-8.3 8.3l-8.3 -8.3z"/><path d="M651.8 1169.1l8.3 8.3l-8.3 8.3l-8.3 -8.3z"/><path d="M658.7 1164.1l8.3 8.3l-8.3 8.3l-8.3 -8.3z"/><path d="M665.7 1159.7l8.3 8.3l-8.3 8.3l-8.3 -8.3z"/><path d="M672.6 1155.8l8.3 8.3l-8.3 8.3l-8.3 -8.3z"/><path d="M679.5 1152.0l8.3 8.3l-8.3 8.3l-8.3 -8.3z"/><path d="M686.4 1148.4l8.3 8.3l-8.3 8.3l-8.3 -8.3z"/><path d="M693.4 1145.0l8.3 8.3l-8.3 8.3l-8.3 -8.3z"/><path d="M700.3 1142.1l8.3 8.3l-8.3 8.3l-8.3 -8.3z"/><path d="M707.2 1139.6l8.3 8.3l-8.3 8.3l-8.3 -8.3z"/><path d="M714.2 1137.3l8.3 8.3l-8.3 8.3l-8.3 -8.3z"/><path d="M721.1 1135.3l8.3 8.3l-8.3 8.3l-8.3 -8.3z"/><path d="M728.0 1133.3l8.3 8.3l-8.3 8.3l-8.3 -8.3z"/><path d="M734.9 1131.5l8.3 8.3l-8.3 8.3l-8.3 -8.3z"/><path d="M741.9 1129.6l8.3 8.3l-8.3 8.3l-8.3 -8.3z"/><path d="M748.8 1127.7l8.3 8.3l-8.3 8.3l-8.3 -8.3z"/><path d="M755.7 1125.9l8.3 8.3l-8.3 8.3l-8.3 -8.3z"/><path d="M762.7 1124.1l8.3 8.3l-8.3 8.3l-8.3 -8.3z"/><path d="M769.6 1122.4l8.3 8.3l-8.3 8.3l-8.3 -8.3z"/><path d="M776.5 1120.7l8.3 8.3l-8.3 8.3l-8.3 -8.3z"/><path d="M783.4 1119.1l8.3 8.3l-8.3 8.3l-8.3 -8.3z"/><path d="M790.4 1117.6l8.3 8.3l-8.3 8.3l-8.3 -8.3z"/><path d="M797.3 1116.1l8.3 8.3l-8.3 8.3l-8.3 -8.3z"/><path d="M804.2 1114.7l8.3 8.3l-8.3 8.3l-8.3 -8.3z"/><path d="M811.1 1113.4l8.3 8.3l-8.3 8.3l-8.3 -8.3z"/><path d="M818.1 1112.1l8.3 8.3l-8.3 8.3l-8.3 -8.3z"/><path d="M825.0 1110.8l8.3 8.3l-8.3 8.3l-8.3 -8.3z"/><path d="M831.9 1109.6l8.3 8.3l-8.3 8.3l-8.3 -8.3z"/><path d="M838.9 1108.4l8.3 8.3l-8.3 8.3l-8.3 -8.3z"/><path d="M845.8 1107.2l8.3 8.3l-8.3 8.3l-8.3 -8.3z"/><path d="M852.7 1106.1l8.3 8.3l-8.3 8.3l-8.3 -8.3z"/><path d="M859.6 1105.0l8.3 8.3l-8.3 8.3l-8.3 -8.3z"/><path d="M866.6 1103.9l8.3 8.3l-8.3 8.3l-8.3 -8.3z"/><path d="M873.5 1102.9l8.3 8.3l-8.3 8.3l-8.3 -8.3z"/></g>
<g fill="#0000d2"><path d="M180.7 1559.4l8.3 8.3l-8.3 8.3l-8.3 -8.3z"/><path d="M187.6 1559.3l8.3 8.3l-8.3 8.3l-8.3 -8.3z"/><path d="M194.6 1559.2l8.3 8.3l-8.3 8.3l-8.3 -8.3z"/><path d="M201.5 1559.1l8.3 8.3l-8.3 8.3l-8.3 -8.3z"/><path d="M208.4 1559.0l8.3 8.3l-8.3 8.3l-8.3 -8.3z"/><path d="M215.3 1558.8l8.3 8.3l-8.3 8.3l-8.3 -8.3z"/><path d="M222.3 1558.7l8.3 8.3l-8.3 8.3l-8.3 -8.3z"/><path d="M229.2 1558.5l8.3 8.3l-8.3 8.3l-8.3 -8.3z"/><path d="M236.1 1558.3l8.3 8.3l-8.3 8.3l-8.3 -8.3z"/><path d="M243.1 1558.1l8.3 8.3l-8.3 8.3l-8.3 -8.3z"/><path d="M250.0 1557.9l8.3 8.3l-8.3 8.3l-8.3 -8.3z"/><path d="M256.9 1557.7l8.3 8.3l-8.3 8.3l-8.3 -8.3z"/><path d="M263.8 1557.4l8.3 8.3l-8.3 8.3l-8.3 -8.3z"/><path d="M270.8 1557.1l8.3 8.3l-8.3 8.3l-8.3 -8.3z"/><path d="M277.7 1556.8l8.3 8.3l-8.3 8.3l-8.3 -8.3z"/><path d="M284.6 1556.4l8.3 8.3l-8.3 8.3l-8.3 -8.3z"/><path d="M291.5 1556.1l8.3 8.3l-8.3 8.3l-8.3 -8.3z"/><path d="M298.5 1555.6l8.3 8.3l-8.3 8.3l-8.3 -8.3z"/><path d="M305.4 1555.2l8.3 8.3l-8.3 8.3l-8.3 -8.3z"/><path d="M312.3 1554.7l8.3 8.3l-8.3 8.3l-8.3 -8.3z"/><path d="M319.3 1554.1l8.3 8.3l-8.3 8.3l-8.3 -8.3z"/><path d="M326.2 1553.5l8.3 8.3l-8.3 8.3l-8.3 -8.3z"/><path d="M333.1 1552.8l8.3 8.3l-8.3 8.3l-8.3 -8.3z"/><path d="M340.0 1552.2l8.3 8.3l-8.3 8.3l-8.3 -8.3z"/><path d="M347.0 1551.4l8.3 8.3l-8.3 8.3l-8.3 -8.3z"/><path d="M353.9 1550.6l8.3 8.3l-8.3 8.3l-8.3 -8.3z"/><path d="M360.8 1549.7l8.3 8.3l-8.3 8.3l-8.3 -8.3z"/><path d="M367.8 1548.7l8.3 8.3l-8.3 8.3l-8.3 -8.3z"/><path d="M374.7 1547.7l8.3 8.3l-8.3 8.3l-8.3 -8.3z"/><path d="M381.6 1546.6l8.3 8.3l-8.3 8.3l-8.3 -8.3z"/><path d="M388.5 1545.5l8.3 8.3l-8.3 8.3l-8.3 -8.3z"/><path d="M395.5 1544.2l8.3 8.3l-8.3 8.3l-8.3 -8.3z"/><path d="M402.4 1542.9l8.3 8.3l-8.3 8.3l-8.3 -8.3z"/><path d="M409.3 1541.7l8.3 8.3l-8.3 8.3l-8.3 -8.3z"/><path d="M416.3 1540.6l8.3 8.3l-8.3 8.3l-8.3 -8.3z"/><path d="M423.2 1539.6l8.3 8.3l-8.3 8.3l-8.3 -8.3z"/><path d="M430.1 1538.6l8.3 8.3l-8.3 8.3l-8.3 -8.3z"/><path d="M437.0 1537.6l8.3 8.3l-8.3 8.3l-8.3 -8.3z"/><path d="M444.0 1536.6l8.3 8.3l-8.3 8.3l-8.3 -8.3z"/><path d="M450.9 1535.7l8.3 8.3l-8.3 8.3l-8.3 -8.3z"/><path d="M457.8 1534.8l8.3 8.3l-8.3 8.3l-8.3 -8.3z"/><path d="M464.7 1533.9l8.3 8.3l-8.3 8.3l-8.3 -8.3z"/><path d="M471.7 1533.0l8.3 8.3l-8.3 8.3l-8.3 -8.3z"/><path d="M478.6 1532.2l8.3 8.3l-8.3 8.3l-8.3 -8.3z"/><path d="M485.5 1531.4l8.3 8.3l-8.3 8.3l-8.3 -8.3z"/><path d="M492.5 1530.5l8.3 8.3l-8.3 8.3l-8.3 -8.3z"/><path d="M499.4 1529.5l8.3 8.3l-8.3 8.3l-8.3 -8.3z"/><path d="M506.3 1528.4l8.3 8.3l-8.3 8.3l-8.3 -8.3z"/><path d="M513.2 1527.3l8.3 8.3l-8.3 8.3l-8.3 -8.3z"/><path d="M520.2 1526.0l8.3 8.3l-8.3 8.3l-8.3 -8.3z"/><path d="M527.1 1524.5l8.3 8.3l-8.3 8.3l-8.3 -8.3z"/><path d="M534.0 1522.7l8.3 8.3l-8.3 8.3l-8.3 -8.3z"/><path d="M541.0 1520.4l8.3 8.3l-8.3 8.3l-8.3 -8.3z"/><path d="M547.9 1517.4l8.3 8.3l-8.3 8.3l-8.3 -8.3z"/><path d="M554.8 1513.8l8.3 8.3l-8.3 8.3l-8.3 -8.3z"/><path d="M561.7 1508.5l8.3 8.3l-8.3 8.3l-8.3 -8.3z"/><path d="M568.7 1497.6l8.3 8.3l-8.3 8.3l-8.3 -8.3z"/><path d="M575.6 1479.7l8.3 8.3l-8.3 8.3l-8.3 -8.3z"/><path d="M582.5 1459.9l8.3 8.3l-8.3 8.3l-8.3 -8.3z"/><path d="M589.5 1433.4l8.3 8.3l-8.3 8.3l-8.3 -8.3z"/><path d="M596.4 1398.5l8.3 8.3l-8.3 8.3l-8.3 -8.3z"/><path d="M603.3 1360.6l8.3 8.3l-8.3 8.3l-8.3 -8.3z"/><path d="M610.2 1324.6l8.3 8.3l-8.3 8.3l-8.3 -8.3z"/><path d="M617.2 1294.5l8.3 8.3l-8.3 8.3l-8.3 -8.3z"/><path d="M624.1 1269.3l8.3 8.3l-8.3 8.3l-8.3 -8.3z"/><path d="M631.0 1248.5l8.3 8.3l-8.3 8.3l-8.3 -8.3z"/><path d="M637.9 1234.1l8.3 8.3l-8.3 8.3l-8.3 -8.3z"/><path d="M644.9 1219.4l8.3 8.3l-8.3 8.3l-8.3 -8.3z"/><path d="M651.8 1207.0l8.3 8.3l-8.3 8.3l-8.3 -8.3z"/><path d="M658.7 1197.1l8.3 8.3l-8.3 8.3l-8.3 -8.3z"/><path d="M665.7 1189.1l8.3 8.3l-8.3 8.3l-8.3 -8.3z"/><path d="M672.6 1182.0l8.3 8.3l-8.3 8.3l-8.3 -8.3z"/><path d="M679.5 1175.9l8.3 8.3l-8.3 8.3l-8.3 -8.3z"/><path d="M686.4 1170.6l8.3 8.3l-8.3 8.3l-8.3 -8.3z"/><path d="M693.4 1165.9l8.3 8.3l-8.3 8.3l-8.3 -8.3z"/><path d="M700.3 1161.8l8.3 8.3l-8.3 8.3l-8.3 -8.3z"/><path d="M707.2 1158.1l8.3 8.3l-8.3 8.3l-8.3 -8.3z"/><path d="M714.2 1154.7l8.3 8.3l-8.3 8.3l-8.3 -8.3z"/><path d="M721.1 1151.6l8.3 8.3l-8.3 8.3l-8.3 -8.3z"/><path d="M728.0 1148.6l8.3 8.3l-8.3 8.3l-8.3 -8.3z"/><path d="M734.9 1145.9l8.3 8.3l-8.3 8.3l-8.3 -8.3z"/><path d="M741.9 1143.2l8.3 8.3l-8.3 8.3l-8.3 -8.3z"/><path d="M748.8 1140.6l8.3 8.3l-8.3 8.3l-8.3 -8.3z"/><path d="M755.7 1138.0l8.3 8.3l-8.3 8.3l-8.3 -8.3z"/><path d="M762.7 1135.5l8.3 8.3l-8.3 8.3l-8.3 -8.3z"/><path d="M769.6 1133.1l8.3 8.3l-8.3 8.3l-8.3 -8.3z"/><path d="M776.5 1130.7l8.3 8.3l-8.3 8.3l-8.3 -8.3z"/><path d="M783.4 1128.5l8.3 8.3l-8.3 8.3l-8.3 -8.3z"/><path d="M790.4 1126.5l8.3 8.3l-8.3 8.3l-8.3 -8.3z"/><path d="M797.3 1124.6l8.3 8.3l-8.3 8.3l-8.3 -8.3z"/><path d="M804.2 1122.8l8.3 8.3l-8.3 8.3l-8.3 -8.3z"/><path d="M811.1 1121.1l8.3 8.3l-8.3 8.3l-8.3 -8.3z"/><path d="M818.1 1119.5l8.3 8.3l-8.3 8.3l-8.3 -8.3z"/><path d="M825.0 1117.9l8.3 8.3l-8.3 8.3l-8.3 -8.3z"/><path d="M831.9 1116.3l8.3 8.3l-8.3 8.3l-8.3 -8.3z"/><path d="M838.9 1114.6l8.3 8.3l-8.3 8.3l-8.3 -8.3z"/><path d="M845.8 1113.0l8.3 8.3l-8.3 8.3l-8.3 -8.3z"/><path d="M852.7 1111.5l8.3 8.3l-8.3 8.3l-8.3 -8.3z"/><path d="M859.6 1109.9l8.3 8.3l-8.3 8.3l-8.3 -8.3z"/><path d="M866.6 1108.4l8.3 8.3l-8.3 8.3l-8.3 -8.3z"/><path d="M873.5 1106.9l8.3 8.3l-8.3 8.3l-8.3 -8.3z"/></g>
<g fill="#007f12"><path d="M180.7 1561.3l8.2 13.2h-16.4z"/><path d="M187.6 1561.2l8.2 13.2h-16.4z"/><path d="M194.6 1560.9l8.2 13.2h-16.4z"/><path d="M201.5 1560.5l8.2 13.2h-16.4z"/><path d="M208.4 1559.9l8.2 13.2h-16.4z"/><path d="M215.3 1559.3l8.2 13.2h-16.4z"/><path d="M222.3 1558.6l8.2 13.2h-16.4z"/><path d="M229.2 1557.5l8.2 13.2h-16.4z"/><path d="M236.1 1556.1l8.2 13.2h-16.4z"/><path d="M243.1 1554.3l8.2 13.2h-16.4z"/><path d="M250.0 1552.3l8.2 13.2h-16.4z"/><path d="M256.9 1549.6l8.2 13.2h-16.4z"/><path d="M263.8 1546.7l8.2 13.2h-16.4z"/><path d="M270.8 1544.1l8.2 13.2h-16.4z"/><path d="M277.7 1541.4l8.2 13.2h-16.4z"/><path d="M284.6 1538.9l8.2 13.2h-16.4z"/><path d="M291.5 1537.2l8.2 13.2h-16.4z"/><path d="M298.5 1536.0l8.2 13.2h-16.4z"/><path d="M305.4 1535.0l8.2 13.2h-16.4z"/><path d="M312.3 1534.0l8.2 13.2h-16.4z"/><path d="M319.3 1532.8l8.2 13.2h-16.4z"/><path d="M326.2 1531.7l8.2 13.2h-16.4z"/><path d="M333.1 1530.6l8.2 13.2h-16.4z"/><path d="M340.0 1529.5l8.2 13.2h-16.4z"/><path d="M347.0 1528.5l8.2 13.2h-16.4z"/><path d="M353.9 1527.6l8.2 13.2h-16.4z"/><path d="M360.8 1526.8l8.2 13.2h-16.4z"/><path d="M367.8 1526.0l8.2 13.2h-16.4z"/><path d="M374.7 1525.3l8.2 13.2h-16.4z"/><path d="M381.6 1524.6l8.2 13.2h-16.4z"/><path d="M388.5 1524.0l8.2 13.2h-16.4z"/><path d="M395.5 1523.4l8.2 13.2h-16.4z"/><path d="M402.4 1522.7l8.2 13.2h-16.4z"/><path d="M409.3 1522.0l8.2 13.2h-16.4z"/><path d="M416.3 1521.2l8.2 13.2h-16.4z"/><path d="M423.2 1520.4l8.2 13.2h-16.4z"/><path d="M430.1 1519.5l8.2 13.2h-16.4z"/><path d="M437.0 1518.5l8.2 13.2h-16.4z"/><path d="M444.0 1517.4l8.2 13.2h-16.4z"/><path d="M450.9 1516.2l8.2 13.2h-16.4z"/><path d="M457.8 1514.9l8.2 13.2h-16.4z"/><path d="M464.7 1513.5l8.2 13.2h-16.4z"/><path d="M471.7 1511.7l8.2 13.2h-16.4z"/><path d="M478.6 1509.8l8.2 13.2h-16.4z"/><path d="M485.5 1507.5l8.2 13.2h-16.4z"/><path d="M492.5 1504.7l8.2 13.2h-16.4z"/><path d="M499.4 1501.3l8.2 13.2h-16.4z"/><path d="M506.3 1495.2l8.2 13.2h-16.4z"/><path d="M513.2 1487.2l8.2 13.2h-16.4z"/><path d="M520.2 1476.0l8.2 13.2h-16.4z"/><path d="M527.1 1461.0l8.2 13.2h-16.4z"/><path d="M534.0 1441.1l8.2 13.2h-16.4z"/><path d="M541.0 1417.9l8.2 13.2h-16.4z"/><path d="M547.9 1390.4l8.2 13.2h-16.4z"/><path d="M554.8 1357.3l8.2 13.2h-16.4z"/><path d="M561.7 1329.7l8.2 13.2h-16.4z"/><path d="M568.7 1303.2l8.2 13.2h-16.4z"/><path d="M575.6 1280.7l8.2 13.2h-16.4z"/><path d="M582.5 1261.6l8.2 13.2h-16.4z"/><path d="M589.5 1246.0l8.2 13.2h-16.4z"/><path d="M596.4 1236.7l8.2 13.2h-16.4z"/><path d="M603.3 1224.2l8.2 13.2h-16.4z"/><path d="M610.2 1212.2l8.2 13.2h-16.4z"/><path d="M617.2 1203.1l8.2 13.2h-16.4z"/><path d="M624.1 1195.3l8.2 13.2h-16.4z"/><path d="M631.0 1188.4l8.2 13.2h-16.4z"/><path d="M637.9 1181.6l8.2 13.2h-16.4z"/><path d="M644.9 1175.1l8.2 13.2h-16.4z"/><path d="M651.8 1169.3l8.2 13.2h-16.4z"/><path d="M658.7 1164.2l8.2 13.2h-16.4z"/><path d="M665.7 1159.9l8.2 13.2h-16.4z"/><path d="M672.6 1155.9l8.2 13.2h-16.4z"/><path d="M679.5 1152.2l8.2 13.2h-16.4z"/><path d="M686.4 1148.7l8.2 13.2h-16.4z"/><path d="M693.4 1145.3l8.2 13.2h-16.4z"/><path d="M700.3 1142.5l8.2 13.2h-16.4z"/><path d="M707.2 1140.0l8.2 13.2h-16.4z"/><path d="M714.2 1137.8l8.2 13.2h-16.4z"/><path d="M721.1 1135.7l8.2 13.2h-16.4z"/><path d="M728.0 1133.8l8.2 13.2h-16.4z"/><path d="M734.9 1131.9l8.2 13.2h-16.4z"/><path d="M741.9 1130.0l8.2 13.2h-16.4z"/><path d="M748.8 1128.2l8.2 13.2h-16.4z"/><path d="M755.7 1126.3l8.2 13.2h-16.4z"/><path d="M762.7 1124.5l8.2 13.2h-16.4z"/><path d="M769.6 1122.8l8.2 13.2h-16.4z"/><path d="M776.5 1121.1l8.2 13.2h-16.4z"/><path d="M783.4 1119.5l8.2 13.2h-16.4z"/><path d="M790.4 1118.0l8.2 13.2h-16.4z"/><path d="M797.3 1116.6l8.2 13.2h-16.4z"/><path d="M804.2 1115.2l8.2 13.2h-16.4z"/><path d="M811.1 1113.9l8.2 13.2h-16.4z"/><path d="M818.1 1112.6l8.2 13.2h-16.4z"/><path d="M825.0 1111.4l8.2 13.2h-16.4z"/><path d="M831.9 1110.1l8.2 13.2h-16.4z"/><path d="M838.9 1108.9l8.2 13.2h-16.4z"/><path d="M845.8 1107.8l8.2 13.2h-16.4z"/><path d="M852.7 1106.6l8.2 13.2h-16.4z"/><path d="M859.6 1105.5l8.2 13.2h-16.4z"/><path d="M866.6 1104.4l8.2 13.2h-16.4z"/><path d="M873.5 1103.4l8.2 13.2h-16.4z"/></g>
<g fill="#007f12"><path d="M180.7 1560.5l8.2 13.2h-16.4z"/><path d="M187.6 1560.4l8.2 13.2h-16.4z"/><path d="M194.6 1560.4l8.2 13.2h-16.4z"/><path d="M201.5 1560.2l8.2 13.2h-16.4z"/><path d="M208.4 1560.1l8.2 13.2h-16.4z"/><path d="M215.3 1560.0l8.2 13.2h-16.4z"/><path d="M222.3 1559.8l8.2 13.2h-16.4z"/><path d="M229.2 1559.7l8.2 13.2h-16.4z"/><path d="M236.1 1559.5l8.2 13.2h-16.4z"/><path d="M243.1 1559.3l8.2 13.2h-16.4z"/><path d="M250.0 1559.1l8.2 13.2h-16.4z"/><path d="M256.9 1558.8l8.2 13.2h-16.4z"/><path d="M263.8 1558.6l8.2 13.2h-16.4z"/><path d="M270.8 1558.3l8.2 13.2h-16.4z"/><path d="M277.7 1557.9l8.2 13.2h-16.4z"/><path d="M284.6 1557.6l8.2 13.2h-16.4z"/><path d="M291.5 1557.2l8.2 13.2h-16.4z"/><path d="M298.5 1556.8l8.2 13.2h-16.4z"/><path d="M305.4 1556.3l8.2 13.2h-16.4z"/><path d="M312.3 1555.8l8.2 13.2h-16.4z"/><path d="M319.3 1555.2l8.2 13.2h-16.4z"/><path d="M326.2 1554.6l8.2 13.2h-16.4z"/><path d="M333.1 1553.9l8.2 13.2h-16.4z"/><path d="M340.0 1553.2l8.2 13.2h-16.4z"/><path d="M347.0 1552.5l8.2 13.2h-16.4z"/><path d="M353.9 1551.7l8.2 13.2h-16.4z"/><path d="M360.8 1550.8l8.2 13.2h-16.4z"/><path d="M367.8 1549.8l8.2 13.2h-16.4z"/><path d="M374.7 1548.7l8.2 13.2h-16.4z"/><path d="M381.6 1547.6l8.2 13.2h-16.4z"/><path d="M388.5 1546.4l8.2 13.2h-16.4z"/><path d="M395.5 1545.2l8.2 13.2h-16.4z"/><path d="M402.4 1543.9l8.2 13.2h-16.4z"/><path d="M409.3 1542.7l8.2 13.2h-16.4z"/><path d="M416.3 1541.6l8.2 13.2h-16.4z"/><path d="M423.2 1540.5l8.2 13.2h-16.4z"/><path d="M430.1 1539.5l8.2 13.2h-16.4z"/><path d="M437.0 1538.5l8.2 13.2h-16.4z"/><path d="M444.0 1537.6l8.2 13.2h-16.4z"/><path d="M450.9 1536.6l8.2 13.2h-16.4z"/><path d="M457.8 1535.7l8.2 13.2h-16.4z"/><path d="M464.7 1534.8l8.2 13.2h-16.4z"/><path d="M471.7 1533.9l8.2 13.2h-16.4z"/><path d="M478.6 1533.1l8.2 13.2h-16.4z"/><path d="M485.5 1532.3l8.2 13.2h-16.4z"/><path d="M492.5 1531.3l8.2 13.2h-16.4z"/><path d="M499.4 1530.3l8.2 13.2h-16.4z"/><path d="M506.3 1529.2l8.2 13.2h-16.4z"/><path d="M513.2 1528.0l8.2 13.2h-16.4z"/><path d="M520.2 1526.7l8.2 13.2h-16.4z"/><path d="M527.1 1525.2l8.2 13.2h-16.4z"/><path d="M534.0 1523.4l8.2 13.2h-16.4z"/><path d="M541.0 1521.1l8.2 13.2h-16.4z"/><path d="M547.9 1518.2l8.2 13.2h-16.4z"/><path d="M554.8 1514.6l8.2 13.2h-16.4z"/><path d="M561.7 1509.3l8.2 13.2h-16.4z"/><path d="M568.7 1498.8l8.2 13.2h-16.4z"/><path d="M575.6 1481.3l8.2 13.2h-16.4z"/><path d="M582.5 1461.6l8.2 13.2h-16.4z"/><path d="M589.5 1435.1l8.2 13.2h-16.4z"/><path d="M596.4 1400.2l8.2 13.2h-16.4z"/><path d="M603.3 1362.3l8.2 13.2h-16.4z"/><path d="M610.2 1326.3l8.2 13.2h-16.4z"/><path d="M617.2 1296.2l8.2 13.2h-16.4z"/><path d="M624.1 1271.0l8.2 13.2h-16.4z"/><path d="M631.0 1250.2l8.2 13.2h-16.4z"/><path d="M637.9 1235.8l8.2 13.2h-16.4z"/><path d="M644.9 1221.0l8.2 13.2h-16.4z"/><path d="M651.8 1208.5l8.2 13.2h-16.4z"/><path d="M658.7 1198.4l8.2 13.2h-16.4z"/><path d="M665.7 1190.3l8.2 13.2h-16.4z"/><path d="M672.6 1183.0l8.2 13.2h-16.4z"/><path d="M679.5 1176.8l8.2 13.2h-16.4z"/><path d="M686.4 1171.3l8.2 13.2h-16.4z"/><path d="M693.4 1166.5l8.2 13.2h-16.4z"/><path d="M700.3 1162.3l8.2 13.2h-16.4z"/><path d="M707.2 1158.6l8.2 13.2h-16.4z"/><path d="M714.2 1155.2l8.2 13.2h-16.4z"/><path d="M721.1 1152.1l8.2 13.2h-16.4z"/><path d="M728.0 1149.2l8.2 13.2h-16.4z"/><path d="M734.9 1146.5l8.2 13.2h-16.4z"/><path d="M741.9 1143.8l8.2 13.2h-16.4z"/><path d="M748.8 1141.2l8.2 13.2h-16.4z"/><path d="M755.7 1138.6l8.2 13.2h-16.4z"/><path d="M762.7 1136.1l8.2 13.2h-16.4z"/><path d="M769.6 1133.7l8.2 13.2h-16.4z"/><path d="M776.5 1131.4l8.2 13.2h-16.4z"/><path d="M783.4 1129.2l8.2 13.2h-16.4z"/><path d="M790.4 1127.2l8.2 13.2h-16.4z"/><path d="M797.3 1125.3l8.2 13.2h-16.4z"/><path d="M804.2 1123.5l8.2 13.2h-16.4z"/><path d="M811.1 1121.9l8.2 13.2h-16.4z"/><path d="M818.1 1120.2l8.2 13.2h-16.4z"/><path d="M825.0 1118.6l8.2 13.2h-16.4z"/><path d="M831.9 1116.9l8.2 13.2h-16.4z"/><path d="M838.9 1115.2l8.2 13.2h-16.4z"/><path d="M845.8 1113.6l8.2 13.2h-16.4z"/><path d="M852.7 1111.9l8.2 13.2h-16.4z"/><path d="M859.6 1110.3l8.2 13.2h-16.4z"/><path d="M866.6 1108.7l8.2 13.2h-16.4z"/><path d="M873.5 1107.1l8.2 13.2h-16.4z"/></g>
<g fill="#ff8c1e"><path d="M172.5 1547.1h16.4l-8.2 13.2z"/><path d="M179.4 1546.8h16.4l-8.2 13.2z"/><path d="M186.4 1546.2h16.4l-8.2 13.2z"/><path d="M193.3 1545.4h16.4l-8.2 13.2z"/><path d="M200.2 1544.5h16.4l-8.2 13.2z"/><path d="M207.1 1543.4h16.4l-8.2 13.2z"/><path d="M214.1 1541.9h16.4l-8.2 13.2z"/><path d="M221.0 1540.1h16.4l-8.2 13.2z"/><path d="M227.9 1538.1h16.4l-8.2 13.2z"/><path d="M234.9 1535.8h16.4l-8.2 13.2z"/><path d="M241.8 1533.3h16.4l-8.2 13.2z"/><path d="M248.7 1530.7h16.4l-8.2 13.2z"/><path d="M255.6 1528.0h16.4l-8.2 13.2z"/><path d="M262.6 1525.1h16.4l-8.2 13.2z"/><path d="M269.5 1522.4h16.4l-8.2 13.2z"/><path d="M276.4 1520.0h16.4l-8.2 13.2z"/><path d="M283.3 1517.9h16.4l-8.2 13.2z"/><path d="M290.3 1515.9h16.4l-8.2 13.2z"/><path d="M297.2 1514.3h16.4l-8.2 13.2z"/><path d="M304.1 1512.9h16.4l-8.2 13.2z"/><path d="M311.1 1511.6h16.4l-8.2 13.2z"/><path d="M318.0 1510.3h16.4l-8.2 13.2z"/><path d="M324.9 1509.1h16.4l-8.2 13.2z"/><path d="M331.8 1507.9h16.4l-8.2 13.2z"/><path d="M338.8 1506.6h16.4l-8.2 13.2z"/><path d="M345.7 1505.3h16.4l-8.2 13.2z"/><path d="M352.6 1503.9h16.4l-8.2 13.2z"/><path d="M359.6 1502.7h16.4l-8.2 13.2z"/><path d="M366.5 1501.6h16.4l-8.2 13.2z"/><path d="M373.4 1500.6h16.4l-8.2 13.2z"/><path d="M380.3 1499.7h16.4l-8.2 13.2z"/><path d="M387.3 1498.8h16.4l-8.2 13.2z"/><path d="M394.2 1497.9h16.4l-8.2 13.2z"/><path d="M401.1 1497.0h16.4l-8.2 13.2z"/><path d="M408.1 1496.0h16.4l-8.2 13.2z"/><path d="M415.0 1495.0h16.4l-8.2 13.2z"/><path d="M421.9 1494.0h16.4l-8.2 13.2z"/><path d="M428.8 1493.0h16.4l-8.2 13.2z"/><path d="M435.8 1491.9h16.4l-8.2 13.2z"/><path d="M442.7 1490.9h16.4l-8.2 13.2z"/><path d="M449.6 1489.7h16.4l-8.2 13.2z"/><path d="M456.5 1488.6h16.4l-8.2 13.2z"/><path d="M463.5 1487.4h16.4l-8.2 13.2z"/><path d="M470.4 1486.1h16.4l-8.2 13.2z"/><path d="M477.3 1484.8h16.4l-8.2 13.2z"/><path d="M484.3 1483.3h16.4l-8.2 13.2z"/><path d="M491.2 1481.8h16.4l-8.2 13.2z"/><path d="M498.1 1478.8h16.4l-8.2 13.2z"/><path d="M505.0 1472.5h16.4l-8.2 13.2z"/><path d="M512.0 1463.7h16.4l-8.2 13.2z"/><path d="M518.9 1451.1h16.4l-8.2 13.2z"/><path d="M525.8 1430.5h16.4l-8.2 13.2z"/><path d="M532.8 1406.5h16.4l-8.2 13.2z"/><path d="M539.7 1379.9h16.4l-8.2 13.2z"/><path d="M546.6 1347.4h16.4l-8.2 13.2z"/><path d="M553.5 1320.6h16.4l-8.2 13.2z"/><path d="M560.5 1296.0h16.4l-8.2 13.2z"/><path d="M567.4 1274.9h16.4l-8.2 13.2z"/><path d="M574.3 1256.1h16.4l-8.2 13.2z"/><path d="M581.3 1242.0h16.4l-8.2 13.2z"/><path d="M588.2 1232.3h16.4l-8.2 13.2z"/><path d="M595.1 1219.7h16.4l-8.2 13.2z"/><path d="M602.0 1207.8h16.4l-8.2 13.2z"/><path d="M609.0 1198.7h16.4l-8.2 13.2z"/><path d="M615.9 1191.0h16.4l-8.2 13.2z"/><path d="M622.8 1184.1h16.4l-8.2 13.2z"/><path d="M629.7 1177.4h16.4l-8.2 13.2z"/><path d="M636.7 1171.1h16.4l-8.2 13.2z"/><path d="M643.6 1165.4h16.4l-8.2 13.2z"/><path d="M650.5 1160.4h16.4l-8.2 13.2z"/><path d="M657.5 1156.1h16.4l-8.2 13.2z"/><path d="M664.4 1152.1h16.4l-8.2 13.2z"/><path d="M671.3 1148.5h16.4l-8.2 13.2z"/><path d="M678.2 1145.1h16.4l-8.2 13.2z"/><path d="M685.2 1142.0h16.4l-8.2 13.2z"/><path d="M692.1 1139.2h16.4l-8.2 13.2z"/><path d="M699.0 1136.8h16.4l-8.2 13.2z"/><path d="M706.0 1134.6h16.4l-8.2 13.2z"/><path d="M712.9 1132.6h16.4l-8.2 13.2z"/><path d="M719.8 1130.6h16.4l-8.2 13.2z"/><path d="M726.7 1128.8h16.4l-8.2 13.2z"/><path d="M733.7 1126.9h16.4l-8.2 13.2z"/><path d="M740.6 1125.0h16.4l-8.2 13.2z"/><path d="M747.5 1123.2h16.4l-8.2 13.2z"/><path d="M754.5 1121.4h16.4l-8.2 13.2z"/><path d="M761.4 1119.6h16.4l-8.2 13.2z"/><path d="M768.3 1117.9h16.4l-8.2 13.2z"/><path d="M775.2 1116.3h16.4l-8.2 13.2z"/><path d="M782.2 1114.8h16.4l-8.2 13.2z"/><path d="M789.1 1113.5h16.4l-8.2 13.2z"/><path d="M796.0 1112.2h16.4l-8.2 13.2z"/><path d="M802.9 1110.9h16.4l-8.2 13.2z"/><path d="M809.9 1109.7h16.4l-8.2 13.2z"/><path d="M816.8 1108.5h16.4l-8.2 13.2z"/><path d="M823.7 1107.3h16.4l-8.2 13.2z"/><path d="M830.7 1106.1h16.4l-8.2 13.2z"/><path d="M837.6 1105.0h16.4l-8.2 13.2z"/><path d="M844.5 1103.8h16.4l-8.2 13.2z"/><path d="M851.4 1102.6h16.4l-8.2 13.2z"/><path d="M858.4 1101.5h16.4l-8.2 13.2z"/><path d="M865.3 1100.4h16.4l-8.2 13.2z"/></g>
<g fill="#ff8c1e"><path d="M172.5 1546.9h16.4l-8.2 13.2z"/><path d="M179.4 1547.0h16.4l-8.2 13.2z"/><path d="M186.4 1547.0h16.4l-8.2 13.2z"/><path d="M193.3 1547.1h16.4l-8.2 13.2z"/><path d="M200.2 1547.1h16.4l-8.2 13.2z"/><path d="M207.1 1547.1h16.4l-8.2 13.2z"/><path d="M214.1 1547.1h16.4l-8.2 13.2z"/><path d="M221.0 1547.1h16.4l-8.2 13.2z"/><path d="M227.9 1547.1h16.4l-8.2 13.2z"/><path d="M234.9 1547.0h16.4l-8.2 13.2z"/><path d="M241.8 1546.8h16.4l-8.2 13.2z"/><path d="M248.7 1546.5h16.4l-8.2 13.2z"/><path d="M255.6 1546.2h16.4l-8.2 13.2z"/><path d="M262.6 1545.9h16.4l-8.2 13.2z"/><path d="M269.5 1545.4h16.4l-8.2 13.2z"/><path d="M276.4 1544.8h16.4l-8.2 13.2z"/><path d="M283.3 1544.3h16.4l-8.2 13.2z"/><path d="M290.3 1543.8h16.4l-8.2 13.2z"/><path d="M297.2 1543.3h16.4l-8.2 13.2z"/><path d="M304.1 1542.7h16.4l-8.2 13.2z"/><path d="M311.1 1541.8h16.4l-8.2 13.2z"/><path d="M318.0 1540.7h16.4l-8.2 13.2z"/><path d="M324.9 1539.6h16.4l-8.2 13.2z"/><path d="M331.8 1538.6h16.4l-8.2 13.2z"/><path d="M338.8 1537.6h16.4l-8.2 13.2z"/><path d="M345.7 1536.5h16.4l-8.2 13.2z"/><path d="M352.6 1535.4h16.4l-8.2 13.2z"/><path d="M359.6 1534.2h16.4l-8.2 13.2z"/><path d="M366.5 1532.9h16.4l-8.2 13.2z"/><path d="M373.4 1531.6h16.4l-8.2 13.2z"/><path d="M380.3 1530.1h16.4l-8.2 13.2z"/><path d="M387.3 1528.6h16.4l-8.2 13.2z"/><path d="M394.2 1527.1h16.4l-8.2 13.2z"/><path d="M401.1 1525.7h16.4l-8.2 13.2z"/><path d="M408.1 1524.4h16.4l-8.2 13.2z"/><path d="M415.0 1523.3h16.4l-8.2 13.2z"/><path d="M421.9 1522.3h16.4l-8.2 13.2z"/><path d="M428.8 1521.3h16.4l-8.2 13.2z"/><path d="M435.8 1520.4h16.4l-8.2 13.2z"/><path d="M442.7 1519.3h16.4l-8.2 13.2z"/><path d="M449.6 1518.2h16.4l-8.2 13.2z"/><path d="M456.5 1517.0h16.4l-8.2 13.2z"/><path d="M463.5 1515.7h16.4l-8.2 13.2z"/><path d="M470.4 1514.4h16.4l-8.2 13.2z"/><path d="M477.3 1513.0h16.4l-8.2 13.2z"/><path d="M484.3 1511.6h16.4l-8.2 13.2z"/><path d="M491.2 1510.1h16.4l-8.2 13.2z"/><path d="M498.1 1508.5h16.4l-8.2 13.2z"/><path d="M505.0 1506.9h16.4l-8.2 13.2z"/><path d="M512.0 1505.1h16.4l-8.2 13.2z"/><path d="M518.9 1503.1h16.4l-8.2 13.2z"/><path d="M525.8 1500.8h16.4l-8.2 13.2z"/><path d="M532.8 1498.3h16.4l-8.2 13.2z"/><path d="M539.7 1495.6h16.4l-8.2 13.2z"/><path d="M546.6 1492.6h16.4l-8.2 13.2z"/><path d="M553.5 1488.2h16.4l-8.2 13.2z"/><path d="M560.5 1481.6h16.4l-8.2 13.2z"/><path d="M567.4 1470.2h16.4l-8.2 13.2z"/><path d="M574.3 1455.6h16.4l-8.2 13.2z"/><path d="M581.3 1428.5h16.4l-8.2 13.2z"/><path d="M588.2 1394.8h16.4l-8.2 13.2z"/><path d="M595.1 1356.8h16.4l-8.2 13.2z"/><path d="M602.0 1323.7h16.4l-8.2 13.2z"/><path d="M609.0 1294.4h16.4l-8.2 13.2z"/><path d="M615.9 1268.9h16.4l-8.2 13.2z"/><path d="M622.8 1249.1h16.4l-8.2 13.2z"/><path d="M629.7 1233.9h16.4l-8.2 13.2z"/><path d="M636.7 1219.3h16.4l-8.2 13.2z"/><path d="M643.6 1205.9h16.4l-8.2 13.2z"/><path d="M650.5 1195.4h16.4l-8.2 13.2z"/><path d="M657.5 1187.2h16.4l-8.2 13.2z"/><path d="M664.4 1180.1h16.4l-8.2 13.2z"/><path d="M671.3 1173.9h16.4l-8.2 13.2z"/><path d="M678.2 1168.3h16.4l-8.2 13.2z"/><path d="M685.2 1163.3h16.4l-8.2 13.2z"/><path d="M692.1 1159.1h16.4l-8.2 13.2z"/><path d="M699.0 1155.5h16.4l-8.2 13.2z"/><path d="M706.0 1152.2h16.4l-8.2 13.2z"/><path d="M712.9 1149.2h16.4l-8.2 13.2z"/><path d="M719.8 1146.4h16.4l-8.2 13.2z"/><path d="M726.7 1143.7h16.4l-8.2 13.2z"/><path d="M733.7 1141.1h16.4l-8.2 13.2z"/><path d="M740.6 1138.5h16.4l-8.2 13.2z"/><path d="M747.5 1135.9h16.4l-8.2 13.2z"/><path d="M754.5 1133.4h16.4l-8.2 13.2z"/><path d="M761.4 1131.1h16.4l-8.2 13.2z"/><path d="M768.3 1128.8h16.4l-8.2 13.2z"/><path d="M775.2 1126.7h16.4l-8.2 13.2z"/><path d="M782.2 1124.6h16.4l-8.2 13.2z"/><path d="M789.1 1122.8h16.4l-8.2 13.2z"/><path d="M796.0 1121.0h16.4l-8.2 13.2z"/><path d="M802.9 1119.4h16.4l-8.2 13.2z"/><path d="M809.9 1117.7h16.4l-8.2 13.2z"/><path d="M816.8 1116.0h16.4l-8.2 13.2z"/><path d="M823.7 1114.3h16.4l-8.2 13.2z"/><path d="M830.7 1112.5h16.4l-8.2 13.2z"/><path d="M837.6 1110.7h16.4l-8.2 13.2z"/><path d="M844.5 1108.9h16.4l-8.2 13.2z"/><path d="M851.4 1107.1h16.4l-8.2 13.2z"/><path d="M858.4 1105.3h16.4l-8.2 13.2z"/><path d="M865.3 1103.4h16.4l-8.2 13.2z"/></g>
<text x="146.60" y="31.60" font-size="45" text-anchor="end" fill="#000" >0.5</text>
<text x="146.60" y="170.90" font-size="45" text-anchor="end" fill="#000" >0.4</text>
<text x="146.60" y="310.20" font-size="45" text-anchor="end" fill="#000" >0.3</text>
<text x="146.60" y="449.50" font-size="45" text-anchor="end" fill="#000" >0.2</text>
<text x="146.60" y="588.80" font-size="45" text-anchor="end" fill="#000" >0.1</text>
<text x="146.60" y="728.10" font-size="45" text-anchor="end" fill="#000" >0</text>
<text x="306.00" y="767.30" font-size="45" text-anchor="middle" fill="#000" >−4</text>
<text x="535.30" y="767.30" font-size="45" text-anchor="middle" fill="#000" >−3</text>
<text x="765.90" y="767.30" font-size="45" text-anchor="middle" fill="#000" >−2</text>
<text x="528.50" y="824.60" font-size="45" text-anchor="middle" fill="#000" >Bias voltage (V)</text>
<text x="504.50" y="897.50" font-size="34" text-anchor="middle" fill="#000" >(a)</text>
<text transform="translate(35.20,578.60) rotate(-90)" x="0" y="0" font-size="44.2" fill="#000">Capacitance (µF/cm<tspan font-size="29.5" dy="-13.7">2</tspan><tspan dy="13.7">)</tspan></text>
<text x="795.60" y="680.80" font-size="45" text-anchor="middle" fill="#000" >300 K</text>
<circle cx="239.40" cy="425.10" r="13.15" fill="#dc0000"/>
<text x="267.10" y="431.20" font-size="45" text-anchor="start" fill="#dc0000" >1 MHz</text>
<path d="M241.50,488.60L255.90,503.00L241.50,517.40L227.10,503.00Z" fill="#0000d2"/>
<text x="267.10" y="509.40" font-size="45" text-anchor="start" fill="#0000d2" >100 kHz</text>
<path d="M242.00,569.21L257.00,595.19L227.00,595.19Z" fill="#007f12"/>
<text x="267.10" y="587.90" font-size="45" text-anchor="start" fill="#007f12" >10 kHz</text>
<path d="M226.50,646.31L256.50,646.31L241.50,672.29Z" fill="#ff8c1e"/>
<text x="267.10" y="666.60" font-size="45" text-anchor="start" fill="#ff8c1e" >1 kHz</text>
<line x1="528.60" y1="158.20" x2="634.65" y2="130.10" stroke="#000" stroke-width="5.4" stroke-linecap="butt"/>
<polyline points="618.72,124.75 636.58,129.58 623.46,142.63" fill="none" stroke="#000" stroke-width="6.0" stroke-linecap="round" stroke-linejoin="miter" stroke-miterlimit="10"/>
<line x1="740.90" y1="265.90" x2="658.26" y2="323.95" stroke="#000" stroke-width="5.4" stroke-linecap="butt"/>
<polyline points="675.05,323.46 656.62,325.10 664.41,308.32" fill="none" stroke="#000" stroke-width="6.0" stroke-linecap="round" stroke-linejoin="miter" stroke-miterlimit="10"/>
<text x="1069.30" y="32.60" font-size="45" text-anchor="end" fill="#000" >0.5</text>
<text x="1069.30" y="171.80" font-size="45" text-anchor="end" fill="#000" >0.4</text>
<text x="1069.30" y="311.00" font-size="45" text-anchor="end" fill="#000" >0.3</text>
<text x="1069.30" y="450.20" font-size="45" text-anchor="end" fill="#000" >0.2</text>
<text x="1069.30" y="589.40" font-size="45" text-anchor="end" fill="#000" >0.1</text>
<text x="1069.30" y="728.60" font-size="45" text-anchor="end" fill="#000" >0</text>
<text x="1228.80" y="775.60" font-size="45" text-anchor="middle" fill="#000" >−4</text>
<text x="1462.30" y="775.60" font-size="45" text-anchor="middle" fill="#000" >−3</text>
<text x="1696.30" y="775.60" font-size="45" text-anchor="middle" fill="#000" >−2</text>
<text x="1462.50" y="826.10" font-size="45" text-anchor="middle" fill="#000" >Bias voltage (V)</text>
<text x="1465.20" y="892.00" font-size="34" text-anchor="middle" fill="#000" >(b)</text>
<text transform="translate(960.40,594.50) rotate(-90)" x="0" y="0" font-size="44.6" fill="#000">Capacitance (µF/cm<tspan font-size="29.7" dy="-13.7">2</tspan><tspan dy="13.7">)</tspan></text>
<text x="1728.60" y="675.00" font-size="45" text-anchor="middle" fill="#000" >71 K</text>
<circle cx="1161.40" cy="95.20" r="13.20" fill="#dc0000"/>
<text x="1188.60" y="103.40" font-size="45" text-anchor="start" fill="#dc0000" >1 MHz</text>
<path d="M1162.50,159.40L1176.80,173.70L1162.50,188.00L1148.20,173.70Z" fill="#0000d2"/>
<text x="1188.60" y="181.60" font-size="45" text-anchor="start" fill="#0000d2" >100 kHz</text>
<path d="M1163.00,239.71L1178.00,265.69L1148.00,265.69Z" fill="#007f12"/>
<text x="1188.60" y="259.90" font-size="45" text-anchor="start" fill="#007f12" >10 kHz</text>
<path d="M1148.00,316.71L1178.00,316.71L1163.00,342.69Z" fill="#ff8c1e"/>
<text x="1188.60" y="338.50" font-size="45" text-anchor="start" fill="#ff8c1e" >1 kHz</text>
<line x1="1371.90" y1="390.30" x2="1405.55" y2="312.89" stroke="#000" stroke-width="5.4" stroke-linecap="butt"/>
<polyline points="1391.48,322.06 1406.35,311.05 1408.44,329.43" fill="none" stroke="#000" stroke-width="6.0" stroke-linecap="round" stroke-linejoin="miter" stroke-miterlimit="10"/>
<line x1="1626.30" y1="379.70" x2="1606.15" y2="457.54" stroke="#000" stroke-width="5.4" stroke-linecap="butt"/>
<polyline points="1618.62,446.28 1605.65,459.47 1600.71,441.64" fill="none" stroke="#000" stroke-width="6.0" stroke-linecap="round" stroke-linejoin="miter" stroke-miterlimit="10"/>
<text x="149.30" y="975.70" font-size="45" text-anchor="end" fill="#000" >0.5</text>
<text x="149.30" y="1113.70" font-size="45" text-anchor="end" fill="#000" >0.4</text>
<text x="149.30" y="1251.70" font-size="45" text-anchor="end" fill="#000" >0.3</text>
<text x="149.30" y="1389.70" font-size="45" text-anchor="end" fill="#000" >0.2</text>
<text x="149.30" y="1527.70" font-size="45" text-anchor="end" fill="#000" >0.1</text>
<text x="149.30" y="1665.70" font-size="45" text-anchor="end" fill="#000" >0</text>
<text x="300.30" y="1707.00" font-size="45" text-anchor="middle" fill="#000" >−4</text>
<text x="532.80" y="1707.00" font-size="45" text-anchor="middle" fill="#000" >−3</text>
<text x="763.90" y="1707.00" font-size="45" text-anchor="middle" fill="#000" >−2</text>
<text x="532.30" y="1757.50" font-size="45" text-anchor="middle" fill="#000" >Bias voltage (V)</text>
<text x="503.10" y="1830.50" font-size="34" text-anchor="middle" fill="#000" >(c)</text>
<text transform="translate(39.60,1530.60) rotate(-90)" x="0" y="0" font-size="44.2" fill="#000">Capacitance (µF/cm<tspan font-size="29.5" dy="-13.7">2</tspan><tspan dy="13.7">)</tspan></text>
<text x="771.90" y="1603.80" font-size="45" text-anchor="middle" fill="#000" >31 K</text>
<circle cx="215.70" cy="1038.00" r="12.80" fill="#dc0000"/>
<text x="242.20" y="1048.20" font-size="45" text-anchor="start" fill="#dc0000" >1 MHz</text>
<path d="M217.20,1101.50L231.40,1115.70L217.20,1129.90L203.00,1115.70Z" fill="#0000d2"/>
<text x="242.20" y="1125.80" font-size="45" text-anchor="start" fill="#0000d2" >100 kHz</text>
<path d="M218.00,1181.01L233.00,1206.99L203.00,1206.99Z" fill="#007f12"/>
<text x="242.20" y="1203.70" font-size="45" text-anchor="start" fill="#007f12" >10 kHz</text>
<path d="M203.00,1258.00L231.40,1258.00L217.20,1282.60Z" fill="#ff8c1e"/>
<text x="242.20" y="1281.70" font-size="45" text-anchor="start" fill="#ff8c1e" >1 kHz</text>
<line x1="470.80" y1="1424.40" x2="491.59" y2="1341.98" stroke="#000" stroke-width="5.4" stroke-linecap="butt"/>
<polyline points="479.19,1353.31 492.08,1340.04 497.13,1357.83" fill="none" stroke="#000" stroke-width="6.0" stroke-linecap="round" stroke-linejoin="miter" stroke-miterlimit="10"/>
<line x1="678.00" y1="1333.50" x2="667.02" y2="1405.09" stroke="#000" stroke-width="5.4" stroke-linecap="butt"/>
<polyline points="678.29,1392.63 666.72,1407.06 660.00,1389.82" fill="none" stroke="#000" stroke-width="6.0" stroke-linecap="round" stroke-linejoin="miter" stroke-miterlimit="10"/>
</svg>
</body></html>
